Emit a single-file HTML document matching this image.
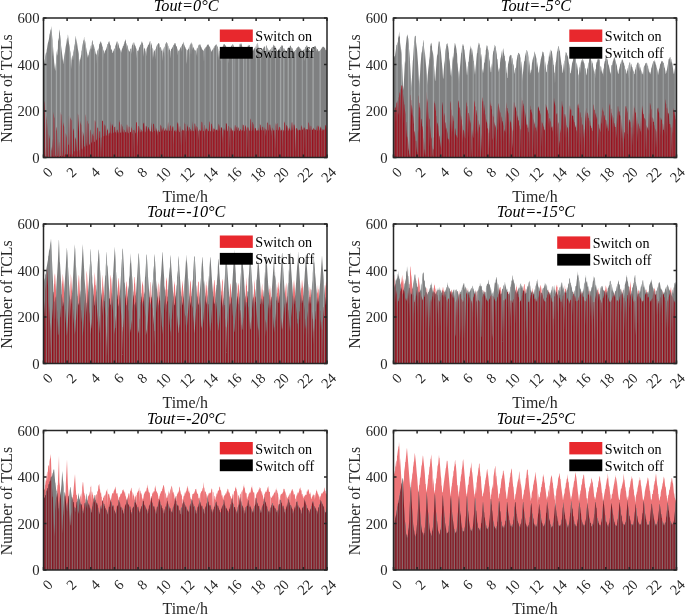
<!DOCTYPE html>
<html><head><meta charset="utf-8"><style>
html,body{margin:0;padding:0;background:#fff;}
body{width:685px;height:614px;overflow:hidden;position:relative;font-family:"Liberation Serif", "Times New Roman", serif;}
svg text{font-family:"Liberation Serif", "Times New Roman", serif;}
</style></head><body>
<svg width="685" height="614" viewBox="0 0 685 614" style="position:absolute;left:0;top:0;filter:blur(0.35px)">
<defs>
<pattern id="pr" patternUnits="userSpaceOnUse" width="2.6" height="4"><rect width="2.6" height="4" fill="#a4303a"/><rect x="0" width="1.1" height="4" fill="#8a101b"/><rect x="1.8" width="0.8" height="4" fill="#8c7a7a"/></pattern>
<pattern id="pr3" patternUnits="userSpaceOnUse" width="2.6" height="4"><rect width="2.6" height="4" fill="#963440"/><rect x="0" width="1.1" height="4" fill="#7c1a22"/><rect x="1.8" width="0.8" height="4" fill="#8a7072"/></pattern>
<pattern id="pr2" patternUnits="userSpaceOnUse" width="2.6" height="4"><rect width="2.6" height="4" fill="#92121e"/><rect x="1.2" width="0.6" height="4" fill="#ad3540"/><rect x="2.0" width="0.5" height="4" fill="#8e7c7d"/></pattern>
</defs>
<path d="M43.5,157.5L43.5,156.8L43.8,154.4L44.2,109.5L44.5,100.5L44.8,103.2L45,116.4L45.2,147.6L45.5,157.5L46,157.5L46.2,115L46.8,120.4L47,131.5L47.2,121.8L47.8,156.4L48,157L48.2,157L48.5,157.5L48.8,132.9L49,135.2L49.2,135.4L49.5,137.9L49.8,138.7L50.2,157.1L50.8,156.7L51,157.5L51.2,146.2L51.8,150L52,150.7L52.2,138.1L52.8,156.8L53,156.7L53.2,156.1L53.5,111.7L54.2,117.5L54.5,118L55,152.7L55.2,156.6L55.5,156.8L55.8,155L56,126.6L56.5,128.1L57,131.3L57.5,155.9L58,156.6L58.2,156.3L58.5,137.4L58.8,157.5L59,142L59.2,142.2L59.5,146.8L59.8,157.5L60,156.1L60.2,155.7L60.5,156.3L60.8,114.4L61,111.4L61.2,126.6L61.5,114.4L61.8,114.5L62.2,151L62.5,155.8L62.8,156.2L63,155.6L63.2,122.1L63.8,125.3L64.2,126.9L64.8,155.5L65.2,154.1L65.5,154.8L65.8,133.1L66.5,136.2L66.8,138.2L67,150.4L67.2,154.5L67.8,155.1L68,144.3L68.2,144.4L68.5,145.2L69,113.4L69.8,154.6L70,153.7L70.2,155.5L70.5,117.1L70.8,118.6L71.5,120.7L72,157.5L72.2,153.6L72.5,154.4L72.8,154.2L73.2,128.5L73.5,128.7L74,131.3L74.5,151.8L74.8,151.1L75,151.2L75.2,138.2L75.5,137.1L75.8,139.3L76,138.6L77,152.1L77.2,150.8L77.5,151.1L77.8,113L78.2,115.2L78.5,130.9L78.8,116.5L79.5,157.5L79.8,149.8L80,150L80.2,120.6L80.5,122.6L81.2,124.9L81.8,148.6L82.2,149.8L82.5,147.8L82.8,130.9L83.8,136.5L84.2,147.1L84.8,146.1L85,150.4L85.5,117.4L85.8,114.2L86,115.1L86.5,142.2L86.8,145.6L87,146.1L87.2,145.6L87.5,121.5L87.8,120.3L88.2,123.9L88.5,123.2L89,145.7L89.2,143.4L89.8,145.3L90,128.6L90.2,130.3L90.5,129.4L91,132.2L91.5,143.8L91.8,142.2L92,142L92.2,134.7L92.5,133.6L93,135.8L93.2,136L93.5,130.5L94,142.2L94.2,142.1L94.5,141.3L94.8,120.1L95,120.8L95.2,120.4L95.8,122.7L96.2,138.9L96.8,140.4L97,140.4L97.2,126.3L97.5,128.4L97.8,127.6L98.2,128.3L98.8,154.1L99,137.9L99.2,138L99.5,130.7L99.8,131.6L100,131.7L100.2,131.4L100.5,152L100.8,134.6L101,152.6L101.2,138.1L101.5,137L101.8,154.9L102,120.3L102.8,121.2L103,121.1L103.5,136.1L103.8,135.9L104,136.4L104.2,136.1L104.5,124.5L104.8,124.5L105,126.5L105.2,124.9L105.5,126.1L106,136.3L106.5,134.9L106.8,135.6L107,129.8L107.2,130.3L107.5,128.1L107.8,130.1L108,130.8L108.2,133.5L108.5,133.6L109,136.7L109.2,132.8L109.5,132.6L109.8,134.1L110.2,120.8L110.8,131.8L111,133.6L111.2,133.2L111.5,134.1L111.8,124L112,124.8L112.2,123.4L112.5,125.9L112.8,125.1L113,126.9L113.2,132.4L113.5,133.1L113.8,132.3L114,133.6L114.2,126.7L114.5,127.2L114.8,127L115,126.3L115.2,126.4L115.5,131.5L115.8,132.6L116,132.6L116.2,133.9L116.5,130.2L116.8,130.5L117,129.5L117.2,129.8L117.5,129.7L118,133.3L118.2,133.7L118.5,131.7L118.8,132L119,120L119.2,120.5L119.5,122.6L119.8,121.9L120,123.1L120.5,133.3L121,131.9L121.2,132.8L121.5,124.5L121.8,124L122,125.6L122.5,127L122.8,130.9L123,132.6L123.2,132.7L123.5,132.1L123.8,128.7L124,129.1L124.2,130.4L124.5,129.8L124.8,130.3L125.2,133L125.5,131.5L125.8,131.9L126,131.7L126.2,133L126.8,124.4L127.2,124.7L127.8,131.9L128.2,133.6L128.5,132.5L128.8,125.8L129,127.2L129.2,126L129.5,127.3L129.8,126.9L130,131.1L130.2,132L130.5,132.3L130.8,132.3L131,131.5L131.2,125.6L131.5,128.6L131.8,127.3L132,129.2L132.2,129.6L132.8,134.3L133,131L133.2,153.2L133.5,130.1L134,130.1L134.2,130.4L134.5,131.3L134.8,128L135.2,133L135.5,133.5L135.8,132.1L136,121.9L136.2,122L136.5,122.7L136.8,121.9L137,123.7L137.2,128.6L137.5,146.4L137.8,132.8L138.2,130.6L138.5,126.1L139,126.2L139.5,128.3L140,132.8L140.5,131.2L140.8,128.2L141.2,130.1L141.5,129.4L141.8,132L142,131.2L142.5,130.8L143,132.7L143.2,122.4L143.8,123.9L144,122.3L144.2,122.9L144.8,131.1L145,132.7L145.5,131L145.8,126.2L146,125.5L146.2,127.3L146.5,125.8L146.8,126.2L147,129.1L147.5,131.4L148.2,127L148.5,127.1L148.8,128.6L149.2,129.6L149.5,129.3L149.8,131.3L150.2,130.9L150.5,131.8L150.8,130.7L151,131.9L151.5,122.1L152,131.8L152.2,132.3L152.5,132.2L152.8,131L153,123.5L153.2,123.8L153.5,123.7L153.8,124.5L154,123.5L154.5,130.8L155,131.1L155.2,132.9L155.5,125.8L155.8,128.3L156,129.1L156.2,127.9L156.5,130L156.8,130.4L157,132L157.2,130.6L157.5,131.9L157.8,135.8L158,130.1L158.2,130.4L158.5,129.6L158.8,131.9L159,130.1L159.2,131.8L159.5,131.4L159.8,132.3L160,131.7L160.2,125L160.5,124.4L161,126.2L161.2,125.6L161.8,131.5L162,131.7L162.2,129.8L162.5,129.7L162.8,128.2L163,128.6L163.5,126.9L163.8,127.5L164.2,130.8L164.5,130.9L164.8,130.5L165.2,127.8L165.8,129.8L166,130L166.2,129.8L166.5,131.1L166.8,130.4L167.2,130.8L167.5,130.5L168,122.7L168.2,122L169,130.7L169.5,130.5L169.8,131.5L170,124.5L170.2,125.4L170.5,125.8L170.8,125.6L171.5,131L171.8,131L172.5,125.6L172.8,127.4L173.2,126.1L173.5,128.6L173.8,144.8L174,130.8L174.2,131.6L174.5,130.6L174.8,130.6L175.2,129.8L175.5,131.6L175.8,131.9L176,128.3L176.2,130.2L177,131.8L177.2,121.7L178,124L178.2,123L178.8,130.5L179.2,132.3L179.5,131.9L179.8,127L180,125.8L180.2,126.6L180.5,145.2L180.8,126.5L181,130.6L181.5,131.3L181.8,130.5L182,147.3L182.2,128.7L182.8,130.6L183,129.8L183.2,130L183.5,131.1L183.8,130.2L184,130.3L184.2,131.5L184.5,121.8L184.8,123.6L185,124.2L185.2,123.8L185.5,142.8L185.8,127.1L186,131.2L186.2,131.4L186.5,130.6L186.8,131.1L187,124.2L187.2,124.4L187.5,127.8L187.8,125.9L188,126.3L188.5,131.8L188.8,129.7L189,131.1L189.2,126.8L189.8,127.5L190.2,129.1L190.5,129.1L191,132.1L191.2,129.9L191.5,130.8L192,130.6L192.2,130.8L192.8,120.9L193.2,130.8L193.5,131.3L193.8,131.3L194,130.2L194.2,123.5L194.5,123.9L195,123.1L195.8,129.8L196.2,131.7L196.5,126.3L196.8,125.8L197,127.1L197.5,127.6L198,130.6L198.5,131.1L198.8,140.6L199,129.3L199.2,129.3L199.5,130.8L199.8,128.9L200,130.6L200.2,130L200.5,131.6L201.2,129.9L201.5,122.1L201.8,121.7L202,121.7L202.5,123.3L203,131.2L203.2,131.2L203.8,130.5L204,125.9L204.2,125.1L204.5,125.2L204.8,140.6L205,127L205.5,131.2L206.2,127.3L206.5,129.6L206.8,128.7L207.2,129.6L207.5,129.4L207.8,129.8L208,131.5L208.5,130.5L208.8,131.4L209.2,121.6L209.5,121.5L209.8,122.8L210.2,131.4L210.8,131L211,131.4L211.2,123L211.5,124.1L211.8,124L212,126.2L212.2,125.2L212.5,129L213,131.6L213.2,131.9L213.5,128L213.8,129.3L214,126.7L214.2,129L214.5,128.7L214.8,128.9L215,130.1L215.8,130.7L216,129.1L216.5,130.2L216.8,129.5L217,130.5L217.2,128.7L217.5,130.4L218,130.7L218.2,131.2L218.5,124.5L218.8,123.6L219,126.1L219.2,124.5L220,131.2L220.2,130.5L220.5,130.6L220.8,127L221,127.7L221.2,127.6L221.5,126.9L222.2,129L222.5,143.6L222.8,130.1L223,139.6L223.2,130.5L223.5,129.5L223.8,129.6L224,127.6L224.5,130.6L224.8,130.8L225,129L225.5,130.9L225.8,123L226,123.2L226.2,123.9L226.5,123L226.8,123.7L227,127.8L227.5,131.5L228,130.6L228.2,125.2L228.5,126.2L228.8,125.9L229.2,127.4L229.5,150.9L229.8,131.3L230,130.2L230.2,131.3L230.5,128L231,127.1L231.2,129.3L231.5,127.9L232,130.8L232.2,129.8L232.5,131.5L233,129.6L233.5,131.3L233.8,141.5L234,124.3L234.5,130.7L235,131.5L235.5,125.6L235.8,124.8L236.2,127.4L236.5,126.4L237.2,130.5L237.5,130.2L237.8,126.8L238,126.1L238.2,128.6L238.8,127.2L239.2,130.9L239.5,131.3L239.8,130.5L240,130.5L240.2,129.3L240.8,129.2L241,129.4L241.2,130.5L241.5,130.7L242,130.4L242.2,130.4L242.5,129.9L242.8,124.2L243,124.7L243.2,124.7L243.5,124.9L243.8,125.6L244.2,130.4L244.5,131.3L244.8,131.3L245,125.9L245.2,125.1L245.8,126.6L246,126.7L246.8,130.4L247,130.2L247.2,152.3L247.5,126.3L247.8,128L248,126.7L248.8,129L249,130.9L249.2,131L249.5,129.4L250,131.2L250.5,118.2L251,120.1L251.5,131.2L251.8,131.1L252,130.2L252.2,130.3L252.5,122.5L253,121.9L253.2,124.3L253.5,124.2L254,131.4L254.2,131.5L254.8,127.7L255,127.4L255.5,128.4L256,128.3L256.2,130.6L256.5,130.1L256.8,131.3L257.2,129.7L257.8,131L258,130L258.2,130.2L258.5,126.9L258.8,131.2L259,131.3L259.5,130.1L259.8,123.4L260.2,124.8L260.5,124.9L261,129.7L261.2,130.3L261.5,129.8L261.8,131.1L262,126.6L262.2,127L262.5,126.5L262.8,127.8L263,126.1L263.5,130.9L263.8,130.6L264,129.5L264.2,130.5L264.5,126.3L264.8,128.4L265.2,128.7L265.5,129.6L265.8,136.7L266,129.9L266.2,130.8L266.5,129.1L266.8,131L267,120.7L267.2,123L267.5,122.4L267.8,122.8L268,122.4L268.5,130.5L268.8,130.3L269,131L269.2,124.4L269.5,124.7L269.8,124.5L270,124.8L270.2,124.6L271,130.6L271.5,130.4L271.8,136.3L272,125.8L272.2,129L272.5,127.9L272.8,127.6L273.5,131.3L273.8,129.7L274,130.8L274.2,129.8L274.5,130.5L274.8,139.7L275,124.9L275.2,122.3L275.5,126.5L275.8,149.3L276,129.7L276.2,130.2L276.5,130L276.8,124.1L277,123.8L277.2,122.9L277.5,123.4L278.2,131L278.8,129.4L279,126.7L279.2,126.7L279.5,127L279.8,127.8L280,126.6L280.8,131.2L281,130L281.2,130.9L281.5,129.5L281.8,130.2L282,129.4L282.2,146.9L282.5,130.7L282.8,128.2L283,130.3L283.2,130.4L283.5,129.4L284,132.1L284.2,121.5L284.5,121.7L284.8,123.1L285,123.2L285.5,131L285.8,129.9L286,131.2L286.2,125.2L286.5,125.6L286.8,124.5L287,127.9L287.2,126.3L287.5,126L288,131.6L288.2,130.5L288.5,130.2L288.8,128.3L289.2,127.1L289.5,129L289.8,128.4L290.2,129.6L290.5,131.6L290.8,129.7L291.2,130.7L291.8,122.1L292,122.9L292.2,121.7L292.8,129.6L293,130.6L293.2,130L293.5,124.5L294,124.8L294.2,124.3L294.8,126.7L295,129.5L295.5,152L295.8,129L296,127.9L296.2,128.3L296.8,128.3L297,128.7L297.2,128.6L297.5,130.2L297.8,130.5L298,129.2L298.2,130.7L298.5,129.7L298.8,130.5L299,130.6L299.2,129.7L299.5,130.2L299.8,128.9L300,130.4L300.2,130.7L300.8,129.6L301,125.3L301.2,124.7L301.5,126.9L302,125.8L302.2,128.5L302.5,129.5L302.8,129.9L303,130L303.2,127.6L303.5,127.6L303.8,129.2L304.2,127.1L304.8,128.8L305,151.1L305.2,130.7L305.8,128.7L306.2,129.2L306.5,129.1L306.8,129.2L307,129.6L307.5,129L308,130.2L308.2,123L308.5,122.5L308.8,122.3L309.2,125L309.8,130.3L310,129.4L310.2,130.3L310.5,125.9L310.8,125.6L311,143.9L311.2,126.3L311.5,126.1L312,129.6L312.5,129.4L312.8,130.3L313.5,127.4L313.8,128.6L314,128.6L314.2,129.5L314.5,129L314.8,130L315,129.5L315.2,130.2L315.8,129.4L316,130.2L316.5,125.4L317,130.2L317.2,130.9L317.5,129.9L317.8,125.3L318,125.7L318.2,127.4L318.8,125.3L319.5,130.7L319.8,129.8L320,129.6L320.5,126L320.8,128L321,127.1L321.5,128.5L321.8,131L322,131.1L322.2,129.1L322.5,131.3L322.8,128.7L323,129L323.2,130.4L323.5,128.9L323.8,130.1L324,129.6L324.2,130.1L324.8,129.3L325,129.3L325.2,125.9L325.5,124.7L325.8,124.9L326,126.6L326.2,125.8L326.8,130.4L327,129.7L327,157.5Z" fill="#ec7477"/>
<clipPath id="co0"><path d="M43.5,157.5L43.5,72.1L43.8,66.3L44.8,59.2L45,58.8L45.2,57.5L46,52.8L46.2,52.6L46.5,53L46.8,49.7L47.2,47.5L47.5,45.2L48,42.5L48.2,42.2L49,38.7L49.5,34.4L50,32.9L50.2,30.7L50.5,30.1L50.8,28.4L51,37.4L51.2,26.1L52.5,40L52.8,57.1L53,46.3L54.2,62.4L55.2,71.2L55.8,62.7L56,68.3L56.2,58.4L57.2,48.4L57.5,55.8L57.8,53.9L58,41.8L58.5,37.7L58.8,41.1L59,33.4L59.5,29.3L61.2,46.7L63,60.9L63.2,64.4L63.5,61.2L65.2,50.4L65.8,46.3L66.5,42.4L66.8,39.7L67.2,37.3L67.5,42L67.8,34.8L68,34.8L69,43.6L70.5,53.3L70.8,67.9L71,56.1L71.2,69.2L71.5,60.2L72,56.5L72.5,54.9L72.8,60.6L73,52.5L73.5,49.1L73.8,60.9L74,47L74.5,43.4L74.8,51L75,40.1L75.2,40.3L76,35.4L76.2,46.1L76.5,38.4L77.8,48.6L78.8,54.5L79,60.2L79.2,58.5L79.5,67.8L79.8,61.8L80.2,59.2L80.5,56.5L80.8,59.6L81,53.9L81.2,56L81.5,50.8L81.8,50.6L82,47.3L82.2,47.8L83.2,41.5L83.5,40.3L83.8,40.5L84,37.5L84.2,36.6L84.5,45.6L84.8,39L85.5,44.1L85.8,50.1L86,47.1L86.8,52L87,52.4L88,58.1L88.2,55.5L88.5,55.2L88.8,54.2L89,52.5L89.2,52.4L89.5,51.6L90.2,48.2L90.5,50.1L90.8,46.1L91.2,44.9L91.5,50.1L91.8,42.7L92.5,39.8L92.8,41.4L93,50.2L93.2,43.8L93.8,45.1L94.5,49L94.8,48.9L95.8,53.8L96.2,55.1L96.8,53.1L97,64.4L97.2,51.7L97.8,50L98.2,49.1L98.5,47.6L98.8,57.5L99,46.5L99.2,44.3L99.8,43.8L100,41.9L100.2,42.8L100.8,41.2L101,40.9L101.2,42.7L101.5,42.9L102.5,47.2L102.8,47.1L103,61.2L103.2,49.6L103.5,49.7L103.8,51.1L104,50.8L104.5,54L105.2,50.1L105.5,50.7L106.5,48.1L106.8,46.8L107.2,46L107.5,44.2L108,44L108.5,42.3L109.2,41L110.2,45.1L110.5,45.6L110.8,45.6L111,50.6L111.2,48.4L111.5,49.5L111.8,49.4L112.2,51.2L112.5,52.9L112.8,53L113.2,51.2L113.8,50.2L114,48.8L114.2,48.7L114.5,48.9L114.8,47.9L115,55.7L115.2,45.8L115.5,45.9L116.8,41.5L117,41.2L117.2,50.1L117.5,40.7L119,46L119.2,47.8L119.5,47.8L120,49.2L121,53L122,49L122.2,48.3L122.5,48.2L122.8,46.6L123.5,45.7L124,43.4L124.2,44.1L124.5,41.7L125,41.2L125.2,39.6L125.5,39.6L126,41.7L126.2,49.6L126.5,43.6L126.8,43L127,44.7L127.8,47L128.5,50.7L128.8,50.2L129,51.6L129.2,51.6L129.5,51.3L129.8,51.5L130.2,49L130.5,49.4L130.8,48.3L131,49.1L131.2,47.8L131.5,54.3L131.8,47.1L132,45.2L132.2,45.3L132.5,44.8L132.8,43.3L133,43.6L133.2,42.3L133.5,42.4L133.8,52.4L134,41.9L134.8,45.5L135,44.3L135.2,46L135.5,45.9L135.8,47.5L136.5,49.2L136.8,58.4L137,51.3L137.5,51.5L138.2,49.8L138.5,51.8L138.8,49L139.5,46.6L139.8,47.1L140,44.9L140.2,45.4L141,44.1L142,41L142.2,42.2L142.8,43.2L143,45L143.2,44.9L143.5,56.7L144,47L144.2,48.3L144.5,48.6L144.8,48.4L145,48.8L145.5,54.7L145.8,51.5L146,50.6L146.2,56.4L146.5,49.5L146.8,47.9L147,48.4L147.2,46.4L147.5,47.6L147.8,45.8L148.2,44.9L148.5,45L148.8,44.1L149,43.9L149.8,41.3L150,41.5L150.2,40.7L150.5,49.5L150.8,49.9L151,43.1L151.2,42.9L151.5,44.4L151.8,44.7L152,45.9L152.2,60L152.5,47.3L152.8,48.5L153,48.3L153.2,49.9L153.5,57.7L153.8,52.2L154.5,50.1L154.8,50.9L155,49.4L155.5,48.4L155.8,59.4L156,47.9L156.8,45.6L157.2,45.5L157.5,44.3L157.8,44.8L158.5,42.7L158.8,43.3L159,43L159.5,44.7L159.8,48.6L160,46.8L160.5,47.8L160.8,47.2L161.8,51.1L162,51.2L162.2,61.1L162.5,51.3L163.2,48.3L163.5,52.9L163.8,48.1L164,47.4L164.2,47.3L164.5,45.9L164.8,58L165.2,44.6L165.5,44.5L166.2,42.3L166.5,42.1L166.8,42.4L167,47.5L167.2,42.9L167.5,43.3L167.8,44.9L168,56.7L168.2,45.4L168.5,46.2L168.8,52.9L169,48.5L169.2,47.8L169.5,49.2L170,50.3L170.2,58.8L170.5,51.2L170.8,50.9L171,50L171.2,48.5L171.5,49L171.8,49L172,47.8L172.2,47.4L172.5,47.7L172.8,46.3L173,47L173.5,44.6L173.8,45.5L174.2,44.4L174.5,42.9L174.8,43.4L175,42.7L175.5,43.4L176.2,46.6L176.5,45.8L176.8,46.8L177,47.2L177.2,55.5L177.5,48.6L177.8,48.6L178,50.5L178.2,50.5L178.5,51.7L178.8,50.7L179.2,50.7L179.5,50.5L179.8,49.2L180.2,48.3L180.5,47.1L180.8,47.7L181.2,45.6L181.5,46L181.8,51.7L182,44.1L182.2,44.9L182.5,44.1L182.8,43.9L183.2,41.6L183.5,43.7L183.8,43.7L184,43L184.2,45.2L184.5,45.2L185,46.9L185.2,46.9L186,49.3L186.2,49.1L186.5,50.3L186.8,63.9L187,61.2L187.2,50.6L187.5,50L187.8,50.3L188,48.7L188.2,49.2L188.5,49L189.2,46.2L189.5,59.6L189.8,45.8L190,44.7L190.2,44.7L190.5,43.6L190.8,43.3L191,55.8L191.2,43L191.5,41.9L191.8,44.1L192,43.2L192.5,45.2L192.8,50.2L193,46.4L194.2,48.9L194.5,50.8L194.8,49.7L195.2,50.7L195.5,50.4L195.8,51.1L196,49.6L196.2,49.8L196.5,55.8L196.8,48.7L197,48.1L197.2,48.4L197.5,48.1L197.8,46.9L198,58.3L198.2,46.6L199,44.6L199.2,44.7L199.5,45.3L200,44.1L200.5,45L201,47L201.2,46.8L202,48.9L202.2,48.9L202.5,49.9L202.8,50.2L203,49.5L203.2,50.9L203.5,50.5L203.8,50.6L204,63L204.2,49.7L204.5,48.4L204.8,48.8L205.5,47.9L205.8,46.7L206,47.3L206.2,47.2L206.8,45.4L207,45.8L207.2,44.7L207.5,44.4L207.8,44.7L208,44.8L208.2,44.1L208.5,44.8L208.8,44.9L209,46.4L209.2,45.8L209.5,46.8L209.8,47.1L210,46.9L210.2,48.3L211,50.5L211.2,50.4L211.5,51.5L211.8,51.5L212,51.5L212.2,49.9L212.5,49.9L212.8,48.9L213,49.3L213.8,48.3L214,46.7L214.2,48.4L214.5,46.2L214.8,45.8L215,46.2L215.5,44.5L216,45.4L216.5,44.1L216.8,45.7L217,45.1L217.2,46.4L217.5,46.3L217.8,47.3L218,58.1L218.2,48.2L218.5,49.5L218.8,60.6L219,50.4L219.2,59L219.5,50.9L220,50.4L220.2,50.6L220.5,50.2L220.8,62L221,49L221.2,48.4L221.5,48.6L221.8,47.4L222,48.1L222.2,47.2L222.5,57.9L222.8,46.2L223.5,44.9L223.8,43.8L224.2,44.6L224.5,43.7L225.2,45.5L225.5,45.1L225.8,45.9L226,46L226.5,48.2L226.8,48.3L227,58.6L227.2,49.4L227.5,49.4L227.8,51.1L228,50.8L228.2,63.7L228.5,51L228.8,49.8L229,52.9L229.2,50.1L229.8,47.9L230,48.5L230.2,47.7L230.5,47.4L230.8,47.5L231,46.1L232.2,45.2L232.5,43.9L232.8,45.1L233,44.2L234,47L234.2,47.4L235,47.8L235.2,48.8L235.5,57.9L235.8,50.2L236,49.9L236.2,50.5L236.5,50L237.2,50L237.5,48.3L237.8,49L238.2,47.2L238.5,46.8L238.8,47.2L239,46.7L239.2,57.4L239.5,45L239.8,43.5L240,44.8L240.2,44.8L241,43.1L241.5,43.9L242,45.5L242.2,55.9L242.5,46.5L242.8,46.4L243,47.6L243.2,51.5L243.5,48L244,48.9L244.2,50.7L244.8,50.3L245.2,50.6L245.8,49.2L246.2,48.7L246.8,47.1L247,46.9L247.2,47.7L247.5,47.7L247.8,45.8L248,45.5L248.5,46.2L248.8,44.4L249,45L249.2,45L249.8,45.5L250,46.7L250.2,54.2L250.5,46.9L251,48.5L251.2,47.2L252,49.3L252.2,51L252.5,50.4L253,51L253.8,48.9L254,48.7L254.2,49L254.5,47.8L254.8,48L255,47.3L255.2,59.8L255.5,46.5L255.8,46.2L256,48.5L256.2,45L256.5,58.4L256.8,44.3L257,44.2L257.2,42.7L257.5,43.2L257.8,53.8L258,44.2L258.2,44.9L258.5,51.5L258.8,47L259,46.7L259.2,57.8L259.5,47L260,48.9L260.5,49.9L260.8,64.2L261,51.4L261.2,51.6L261.5,50.1L261.8,50.8L262.2,49.3L262.8,49L263,48.3L263.2,48.5L263.5,48.3L263.8,47.1L264.2,46.3L264.8,47L265,46L265.2,54.9L265.5,54.2L266,45L266.8,46.6L267,58.2L267.2,48.1L267.5,47.5L267.8,49.2L268,49.2L268.2,49.7L268.5,49.4L268.8,57.5L269,49.8L269.2,51.5L269.5,49.9L269.8,50.5L270.5,49.2L270.8,49.6L271,49.5L271.2,57.4L271.5,47.8L271.8,47.8L272.5,46.6L272.8,58.1L273,46.1L273.5,44.6L273.8,44.9L274,48.1L274.2,45.5L274.5,45.6L274.8,46.2L275,46L275.5,48L275.8,51.7L276,48.6L276.2,48.2L277,50.7L277.2,50.6L277.5,51.2L277.8,51.2L278,50.7L278.2,48.9L278.5,50.5L279,49L279.2,52.6L279.5,48.8L279.8,48.2L280,48.1L280.2,46.7L280.5,47.6L280.8,46.8L281,46.9L281.2,45.9L281.5,46.2L281.8,44.8L282,45.5L282.2,45.2L282.8,45.9L283,46.8L283.2,51.2L283.5,48.2L283.8,47.9L284,56.7L284.2,48.1L285.2,50.4L286.2,50.7L286.5,51.2L286.8,50.5L287,51L287.2,49L287.5,49.2L287.8,48.2L288,47.9L288.2,48.2L288.5,47.5L288.8,47.5L289,47.8L289.2,46.6L289.5,46.4L289.8,53.2L290,45L290.2,45.9L290.5,46.1L290.8,45.4L291,45.7L291.2,49.7L291.5,47.1L292.5,48.9L292.8,48.6L293.2,50.6L293.5,53.7L293.8,51.2L294,51.7L294.2,51L294.5,51.5L295.8,49.7L296,49.9L296.2,49.6L296.5,47.8L296.8,48.4L297,48.3L297.2,47.6L298.5,46.7L298.8,45.7L299,46.9L299.2,47L299.5,47.3L299.8,48.7L300,47.7L300.5,49.8L300.8,48.6L301.5,50.6L302.2,51.6L303,50.2L303.5,50.1L304.5,48.5L304.8,58.8L305,61.3L305.2,46.6L305.5,47.3L305.8,46.9L306,46.8L306.2,45.9L306.5,45.7L306.8,45.7L307,45.2L307.5,47.1L308,47.8L308.2,47.7L308.8,49.3L309.2,49.4L310.8,51.8L311,51.7L311.5,50.2L311.8,50.4L312,50.1L312.5,48.4L312.8,48.2L313,48.8L314,47.1L314.2,47.7L314.5,46L314.8,45.9L315,46.1L315.2,45.7L315.5,46.6L315.8,46.8L316,46.5L316.2,48.2L316.5,48.2L316.8,51.8L317,48.9L317.2,49L317.5,49.6L317.8,49.1L318,50.7L318.2,50.4L318.5,51.3L319,51.5L319.8,50.7L320,50.7L320.2,50.2L320.5,50.7L320.8,49.5L321,49.4L321.2,48.8L321.5,48.8L321.8,47.6L322,47.9L322.2,47.5L322.5,46.6L322.8,47.3L323,46.5L323.2,46.9L323.5,46.7L323.8,47L324,46.2L324.2,47.7L324.5,47.5L324.8,47.9L325,47.9L325.5,49.9L325.8,50.2L326,49.4L326.2,50.1L326.5,50.1L326.8,50.4L327,51.4L327,157.5Z"/></clipPath>
<rect x="43.5" y="18" width="283.5" height="139.5" fill="#7f8081" clip-path="url(#co0)"/>
<path d="M45.2,18h1.3V157.5h-1.3ZM50.9,18h1V157.5h-1ZM55.8,18h1.3V157.5h-1.3ZM59.8,18h1.3V157.5h-1.3ZM64.5,18h0.9V157.5h-0.9ZM69.2,18h1.3V157.5h-1.3ZM74.5,18h1.1V157.5h-1.1ZM78.4,18h1.3V157.5h-1.3ZM82.2,18h1.3V157.5h-1.3ZM85.3,18h1V157.5h-1ZM89.5,18h1.1V157.5h-1.1ZM93.9,18h1V157.5h-1ZM97.3,18h0.9V157.5h-0.9ZM102.3,18h0.9V157.5h-0.9ZM107.3,18h1.1V157.5h-1.1ZM114.4,18h1.3V157.5h-1.3ZM120.1,18h1.1V157.5h-1.1ZM127.3,18h1.3V157.5h-1.3ZM130.1,18h1V157.5h-1ZM136.8,18h1.3V157.5h-1.3ZM140.7,18h0.8V157.5h-0.8ZM145.2,18h0.9V157.5h-0.9ZM150.1,18h0.9V157.5h-0.9ZM156.7,18h1.2V157.5h-1.2ZM159.7,18h0.9V157.5h-0.9ZM164.5,18h1.4V157.5h-1.4ZM167.6,18h1.2V157.5h-1.2ZM172.9,18h0.8V157.5h-0.8ZM178.3,18h1.4V157.5h-1.4ZM183.2,18h0.7V157.5h-0.7ZM189.4,18h0.7V157.5h-0.7ZM194.6,18h1V157.5h-1ZM198.3,18h1.3V157.5h-1.3ZM204.7,18h0.8V157.5h-0.8ZM209.7,18h0.8V157.5h-0.8ZM212.9,18h1.3V157.5h-1.3ZM216,18h0.9V157.5h-0.9ZM221.1,18h1.2V157.5h-1.2ZM226.7,18h1V157.5h-1ZM231.9,18h1.4V157.5h-1.4ZM234.5,18h0.7V157.5h-0.7ZM238.1,18h1.3V157.5h-1.3ZM243,18h1.3V157.5h-1.3ZM245.7,18h1.1V157.5h-1.1ZM249.4,18h1V157.5h-1ZM255.8,18h1.3V157.5h-1.3ZM260.2,18h0.9V157.5h-0.9ZM266.4,18h1.2V157.5h-1.2ZM270.4,18h0.7V157.5h-0.7ZM275,18h0.8V157.5h-0.8ZM279.9,18h1.4V157.5h-1.4ZM283.2,18h1.3V157.5h-1.3ZM287.6,18h1.3V157.5h-1.3ZM291.7,18h1V157.5h-1ZM294.9,18h1.4V157.5h-1.4ZM301.8,18h0.9V157.5h-0.9ZM306.2,18h1.2V157.5h-1.2ZM312.4,18h1.4V157.5h-1.4ZM319.5,18h1.3V157.5h-1.3ZM326.5,18h1.1V157.5h-1.1Z" fill="#a2a5a6" clip-path="url(#co0)"/>
<path d="M43.5,157.5L43.5,156.8L43.8,154.4L44.2,109.5L44.5,100.5L44.8,103.2L45,116.4L45.2,147.6L45.5,157.5L46,157.5L46.2,115L46.8,120.4L47,131.5L47.2,121.8L47.8,156.4L48,157L48.2,157L48.5,157.5L48.8,132.9L49,135.2L49.2,135.4L49.5,137.9L49.8,138.7L50.2,157.1L50.8,156.7L51,157.5L51.2,146.2L51.8,150L52,150.7L52.2,138.1L52.8,156.8L53,156.7L53.2,156.1L53.5,111.7L54.2,117.5L54.5,118L55,152.7L55.2,156.6L55.5,156.8L55.8,155L56,126.6L56.5,128.1L57,131.3L57.5,155.9L58,156.6L58.2,156.3L58.5,137.4L58.8,157.5L59,142L59.2,142.2L59.5,146.8L59.8,157.5L60,156.1L60.2,155.7L60.5,156.3L60.8,114.4L61,111.4L61.2,126.6L61.5,114.4L61.8,114.5L62.2,151L62.5,155.8L62.8,156.2L63,155.6L63.2,122.1L63.8,125.3L64.2,126.9L64.8,155.5L65.2,154.1L65.5,154.8L65.8,133.1L66.5,136.2L66.8,138.2L67,150.4L67.2,154.5L67.8,155.1L68,144.3L68.2,144.4L68.5,145.2L69,113.4L69.8,154.6L70,153.7L70.2,155.5L70.5,117.1L70.8,118.6L71.5,120.7L72,157.5L72.2,153.6L72.5,154.4L72.8,154.2L73.2,128.5L73.5,128.7L74,131.3L74.5,151.8L74.8,151.1L75,151.2L75.2,138.2L75.5,137.1L75.8,139.3L76,138.6L77,152.1L77.2,150.8L77.5,151.1L77.8,113L78.2,115.2L78.5,130.9L78.8,116.5L79.5,157.5L79.8,149.8L80,150L80.2,120.6L80.5,122.6L81.2,124.9L81.8,148.6L82.2,149.8L82.5,147.8L82.8,130.9L83.8,136.5L84.2,147.1L84.8,146.1L85,150.4L85.5,117.4L85.8,114.2L86,115.1L86.5,142.2L86.8,145.6L87,146.1L87.2,145.6L87.5,121.5L87.8,120.3L88.2,123.9L88.5,123.2L89,145.7L89.2,143.4L89.8,145.3L90,128.6L90.2,130.3L90.5,129.4L91,132.2L91.5,143.8L91.8,142.2L92,142L92.2,134.7L92.5,133.6L93,135.8L93.2,136L93.5,130.5L94,142.2L94.2,142.1L94.5,141.3L94.8,120.1L95,120.8L95.2,120.4L95.8,122.7L96.2,138.9L96.8,140.4L97,140.4L97.2,126.3L97.5,128.4L97.8,127.6L98.2,128.3L98.8,154.1L99,137.9L99.2,138L99.5,130.7L99.8,131.6L100,131.7L100.2,131.4L100.5,152L100.8,134.6L101,152.6L101.2,138.1L101.5,137L101.8,154.9L102,120.3L102.8,121.2L103,121.1L103.5,136.1L103.8,135.9L104,136.4L104.2,136.1L104.5,124.5L104.8,124.5L105,126.5L105.2,124.9L105.5,126.1L106,136.3L106.5,134.9L106.8,135.6L107,129.8L107.2,130.3L107.5,128.1L107.8,130.1L108,130.8L108.2,133.5L108.5,133.6L109,136.7L109.2,132.8L109.5,132.6L109.8,134.1L110.2,120.8L110.8,131.8L111,133.6L111.2,133.2L111.5,134.1L111.8,124L112,124.8L112.2,123.4L112.5,125.9L112.8,125.1L113,126.9L113.2,132.4L113.5,133.1L113.8,132.3L114,133.6L114.2,126.7L114.5,127.2L114.8,127L115,126.3L115.2,126.4L115.5,131.5L115.8,132.6L116,132.6L116.2,133.9L116.5,130.2L116.8,130.5L117,129.5L117.2,129.8L117.5,129.7L118,133.3L118.2,133.7L118.5,131.7L118.8,132L119,120L119.2,120.5L119.5,122.6L119.8,121.9L120,123.1L120.5,133.3L121,131.9L121.2,132.8L121.5,124.5L121.8,124L122,125.6L122.5,127L122.8,130.9L123,132.6L123.2,132.7L123.5,132.1L123.8,128.7L124,129.1L124.2,130.4L124.5,129.8L124.8,130.3L125.2,133L125.5,131.5L125.8,131.9L126,131.7L126.2,133L126.8,124.4L127.2,124.7L127.8,131.9L128.2,133.6L128.5,132.5L128.8,125.8L129,127.2L129.2,126L129.5,127.3L129.8,126.9L130,131.1L130.2,132L130.5,132.3L130.8,132.3L131,131.5L131.2,125.6L131.5,128.6L131.8,127.3L132,129.2L132.2,129.6L132.8,134.3L133,131L133.2,153.2L133.5,130.1L134,130.1L134.2,130.4L134.5,131.3L134.8,128L135.2,133L135.5,133.5L135.8,132.1L136,121.9L136.2,122L136.5,122.7L136.8,121.9L137,123.7L137.2,128.6L137.5,146.4L137.8,132.8L138.2,130.6L138.5,126.1L139,126.2L139.5,128.3L140,132.8L140.5,131.2L140.8,128.2L141.2,130.1L141.5,129.4L141.8,132L142,131.2L142.5,130.8L143,132.7L143.2,122.4L143.8,123.9L144,122.3L144.2,122.9L144.8,131.1L145,132.7L145.5,131L145.8,126.2L146,125.5L146.2,127.3L146.5,125.8L146.8,126.2L147,129.1L147.5,131.4L148.2,127L148.5,127.1L148.8,128.6L149.2,129.6L149.5,129.3L149.8,131.3L150.2,130.9L150.5,131.8L150.8,130.7L151,131.9L151.5,122.1L152,131.8L152.2,132.3L152.5,132.2L152.8,131L153,123.5L153.2,123.8L153.5,123.7L153.8,124.5L154,123.5L154.5,130.8L155,131.1L155.2,132.9L155.5,125.8L155.8,128.3L156,129.1L156.2,127.9L156.5,130L156.8,130.4L157,132L157.2,130.6L157.5,131.9L157.8,135.8L158,130.1L158.2,130.4L158.5,129.6L158.8,131.9L159,130.1L159.2,131.8L159.5,131.4L159.8,132.3L160,131.7L160.2,125L160.5,124.4L161,126.2L161.2,125.6L161.8,131.5L162,131.7L162.2,129.8L162.5,129.7L162.8,128.2L163,128.6L163.5,126.9L163.8,127.5L164.2,130.8L164.5,130.9L164.8,130.5L165.2,127.8L165.8,129.8L166,130L166.2,129.8L166.5,131.1L166.8,130.4L167.2,130.8L167.5,130.5L168,122.7L168.2,122L169,130.7L169.5,130.5L169.8,131.5L170,124.5L170.2,125.4L170.5,125.8L170.8,125.6L171.5,131L171.8,131L172.5,125.6L172.8,127.4L173.2,126.1L173.5,128.6L173.8,144.8L174,130.8L174.2,131.6L174.5,130.6L174.8,130.6L175.2,129.8L175.5,131.6L175.8,131.9L176,128.3L176.2,130.2L177,131.8L177.2,121.7L178,124L178.2,123L178.8,130.5L179.2,132.3L179.5,131.9L179.8,127L180,125.8L180.2,126.6L180.5,145.2L180.8,126.5L181,130.6L181.5,131.3L181.8,130.5L182,147.3L182.2,128.7L182.8,130.6L183,129.8L183.2,130L183.5,131.1L183.8,130.2L184,130.3L184.2,131.5L184.5,121.8L184.8,123.6L185,124.2L185.2,123.8L185.5,142.8L185.8,127.1L186,131.2L186.2,131.4L186.5,130.6L186.8,131.1L187,124.2L187.2,124.4L187.5,127.8L187.8,125.9L188,126.3L188.5,131.8L188.8,129.7L189,131.1L189.2,126.8L189.8,127.5L190.2,129.1L190.5,129.1L191,132.1L191.2,129.9L191.5,130.8L192,130.6L192.2,130.8L192.8,120.9L193.2,130.8L193.5,131.3L193.8,131.3L194,130.2L194.2,123.5L194.5,123.9L195,123.1L195.8,129.8L196.2,131.7L196.5,126.3L196.8,125.8L197,127.1L197.5,127.6L198,130.6L198.5,131.1L198.8,140.6L199,129.3L199.2,129.3L199.5,130.8L199.8,128.9L200,130.6L200.2,130L200.5,131.6L201.2,129.9L201.5,122.1L201.8,121.7L202,121.7L202.5,123.3L203,131.2L203.2,131.2L203.8,130.5L204,125.9L204.2,125.1L204.5,125.2L204.8,140.6L205,127L205.5,131.2L206.2,127.3L206.5,129.6L206.8,128.7L207.2,129.6L207.5,129.4L207.8,129.8L208,131.5L208.5,130.5L208.8,131.4L209.2,121.6L209.5,121.5L209.8,122.8L210.2,131.4L210.8,131L211,131.4L211.2,123L211.5,124.1L211.8,124L212,126.2L212.2,125.2L212.5,129L213,131.6L213.2,131.9L213.5,128L213.8,129.3L214,126.7L214.2,129L214.5,128.7L214.8,128.9L215,130.1L215.8,130.7L216,129.1L216.5,130.2L216.8,129.5L217,130.5L217.2,128.7L217.5,130.4L218,130.7L218.2,131.2L218.5,124.5L218.8,123.6L219,126.1L219.2,124.5L220,131.2L220.2,130.5L220.5,130.6L220.8,127L221,127.7L221.2,127.6L221.5,126.9L222.2,129L222.5,143.6L222.8,130.1L223,139.6L223.2,130.5L223.5,129.5L223.8,129.6L224,127.6L224.5,130.6L224.8,130.8L225,129L225.5,130.9L225.8,123L226,123.2L226.2,123.9L226.5,123L226.8,123.7L227,127.8L227.5,131.5L228,130.6L228.2,125.2L228.5,126.2L228.8,125.9L229.2,127.4L229.5,150.9L229.8,131.3L230,130.2L230.2,131.3L230.5,128L231,127.1L231.2,129.3L231.5,127.9L232,130.8L232.2,129.8L232.5,131.5L233,129.6L233.5,131.3L233.8,141.5L234,124.3L234.5,130.7L235,131.5L235.5,125.6L235.8,124.8L236.2,127.4L236.5,126.4L237.2,130.5L237.5,130.2L237.8,126.8L238,126.1L238.2,128.6L238.8,127.2L239.2,130.9L239.5,131.3L239.8,130.5L240,130.5L240.2,129.3L240.8,129.2L241,129.4L241.2,130.5L241.5,130.7L242,130.4L242.2,130.4L242.5,129.9L242.8,124.2L243,124.7L243.2,124.7L243.5,124.9L243.8,125.6L244.2,130.4L244.5,131.3L244.8,131.3L245,125.9L245.2,125.1L245.8,126.6L246,126.7L246.8,130.4L247,130.2L247.2,152.3L247.5,126.3L247.8,128L248,126.7L248.8,129L249,130.9L249.2,131L249.5,129.4L250,131.2L250.5,118.2L251,120.1L251.5,131.2L251.8,131.1L252,130.2L252.2,130.3L252.5,122.5L253,121.9L253.2,124.3L253.5,124.2L254,131.4L254.2,131.5L254.8,127.7L255,127.4L255.5,128.4L256,128.3L256.2,130.6L256.5,130.1L256.8,131.3L257.2,129.7L257.8,131L258,130L258.2,130.2L258.5,126.9L258.8,131.2L259,131.3L259.5,130.1L259.8,123.4L260.2,124.8L260.5,124.9L261,129.7L261.2,130.3L261.5,129.8L261.8,131.1L262,126.6L262.2,127L262.5,126.5L262.8,127.8L263,126.1L263.5,130.9L263.8,130.6L264,129.5L264.2,130.5L264.5,126.3L264.8,128.4L265.2,128.7L265.5,129.6L265.8,136.7L266,129.9L266.2,130.8L266.5,129.1L266.8,131L267,120.7L267.2,123L267.5,122.4L267.8,122.8L268,122.4L268.5,130.5L268.8,130.3L269,131L269.2,124.4L269.5,124.7L269.8,124.5L270,124.8L270.2,124.6L271,130.6L271.5,130.4L271.8,136.3L272,125.8L272.2,129L272.5,127.9L272.8,127.6L273.5,131.3L273.8,129.7L274,130.8L274.2,129.8L274.5,130.5L274.8,139.7L275,124.9L275.2,122.3L275.5,126.5L275.8,149.3L276,129.7L276.2,130.2L276.5,130L276.8,124.1L277,123.8L277.2,122.9L277.5,123.4L278.2,131L278.8,129.4L279,126.7L279.2,126.7L279.5,127L279.8,127.8L280,126.6L280.8,131.2L281,130L281.2,130.9L281.5,129.5L281.8,130.2L282,129.4L282.2,146.9L282.5,130.7L282.8,128.2L283,130.3L283.2,130.4L283.5,129.4L284,132.1L284.2,121.5L284.5,121.7L284.8,123.1L285,123.2L285.5,131L285.8,129.9L286,131.2L286.2,125.2L286.5,125.6L286.8,124.5L287,127.9L287.2,126.3L287.5,126L288,131.6L288.2,130.5L288.5,130.2L288.8,128.3L289.2,127.1L289.5,129L289.8,128.4L290.2,129.6L290.5,131.6L290.8,129.7L291.2,130.7L291.8,122.1L292,122.9L292.2,121.7L292.8,129.6L293,130.6L293.2,130L293.5,124.5L294,124.8L294.2,124.3L294.8,126.7L295,129.5L295.5,152L295.8,129L296,127.9L296.2,128.3L296.8,128.3L297,128.7L297.2,128.6L297.5,130.2L297.8,130.5L298,129.2L298.2,130.7L298.5,129.7L298.8,130.5L299,130.6L299.2,129.7L299.5,130.2L299.8,128.9L300,130.4L300.2,130.7L300.8,129.6L301,125.3L301.2,124.7L301.5,126.9L302,125.8L302.2,128.5L302.5,129.5L302.8,129.9L303,130L303.2,127.6L303.5,127.6L303.8,129.2L304.2,127.1L304.8,128.8L305,151.1L305.2,130.7L305.8,128.7L306.2,129.2L306.5,129.1L306.8,129.2L307,129.6L307.5,129L308,130.2L308.2,123L308.5,122.5L308.8,122.3L309.2,125L309.8,130.3L310,129.4L310.2,130.3L310.5,125.9L310.8,125.6L311,143.9L311.2,126.3L311.5,126.1L312,129.6L312.5,129.4L312.8,130.3L313.5,127.4L313.8,128.6L314,128.6L314.2,129.5L314.5,129L314.8,130L315,129.5L315.2,130.2L315.8,129.4L316,130.2L316.5,125.4L317,130.2L317.2,130.9L317.5,129.9L317.8,125.3L318,125.7L318.2,127.4L318.8,125.3L319.5,130.7L319.8,129.8L320,129.6L320.5,126L320.8,128L321,127.1L321.5,128.5L321.8,131L322,131.1L322.2,129.1L322.5,131.3L322.8,128.7L323,129L323.2,130.4L323.5,128.9L323.8,130.1L324,129.6L324.2,130.1L324.8,129.3L325,129.3L325.2,125.9L325.5,124.7L325.8,124.9L326,126.6L326.2,125.8L326.8,130.4L327,129.7L327,157.5Z" fill="url(#pr2)"/>
<rect x="43.5" y="18.0" width="283.5" height="139.5" fill="none" stroke="#262626" stroke-width="1.5"/>
<path d="M43.5,157.5v-3M43.5,18v3M67.1,157.5v-3M67.1,18v3M90.8,157.5v-3M90.8,18v3M114.4,157.5v-3M114.4,18v3M138,157.5v-3M138,18v3M161.6,157.5v-3M161.6,18v3M185.2,157.5v-3M185.2,18v3M208.9,157.5v-3M208.9,18v3M232.5,157.5v-3M232.5,18v3M256.1,157.5v-3M256.1,18v3M279.8,157.5v-3M279.8,18v3M303.4,157.5v-3M303.4,18v3M327,157.5v-3M327,18v3M43.5,157.5h3M327,157.5h-3M43.5,111h3M327,111h-3M43.5,64.5h3M327,64.5h-3M43.5,18h3M327,18h-3" stroke="#262626" stroke-width="1.5" fill="none"/>
<text x="39.5" y="162.8" text-anchor="end" font-size="14.7" fill="#262626">0</text>
<text x="39.5" y="116.3" text-anchor="end" font-size="14.7" fill="#262626">200</text>
<text x="39.5" y="69.8" text-anchor="end" font-size="14.7" fill="#262626">400</text>
<text x="39.5" y="23.3" text-anchor="end" font-size="14.7" fill="#262626">600</text>
<text transform="translate(53.7,173) rotate(-45)" text-anchor="end" font-size="14.5" fill="#262626">0</text>
<text transform="translate(77.3,173) rotate(-45)" text-anchor="end" font-size="14.5" fill="#262626">2</text>
<text transform="translate(101,173) rotate(-45)" text-anchor="end" font-size="14.5" fill="#262626">4</text>
<text transform="translate(124.6,173) rotate(-45)" text-anchor="end" font-size="14.5" fill="#262626">6</text>
<text transform="translate(148.2,173) rotate(-45)" text-anchor="end" font-size="14.5" fill="#262626">8</text>
<text transform="translate(171.8,173) rotate(-45)" text-anchor="end" font-size="14.5" fill="#262626">10</text>
<text transform="translate(195.4,173) rotate(-45)" text-anchor="end" font-size="14.5" fill="#262626">12</text>
<text transform="translate(219.1,173) rotate(-45)" text-anchor="end" font-size="14.5" fill="#262626">14</text>
<text transform="translate(242.7,173) rotate(-45)" text-anchor="end" font-size="14.5" fill="#262626">16</text>
<text transform="translate(266.3,173) rotate(-45)" text-anchor="end" font-size="14.5" fill="#262626">18</text>
<text transform="translate(289.9,173) rotate(-45)" text-anchor="end" font-size="14.5" fill="#262626">20</text>
<text transform="translate(313.6,173) rotate(-45)" text-anchor="end" font-size="14.5" fill="#262626">22</text>
<text transform="translate(337.2,173) rotate(-45)" text-anchor="end" font-size="14.5" fill="#262626">24</text>
<text x="186.2" y="11.2" text-anchor="middle" font-size="16.3" font-style="italic" fill="#000">Tout=0°C</text>
<text x="185.2" y="201.5" text-anchor="middle" font-size="15.9" fill="#262626">Time/h</text>
<text transform="translate(11.7,88.5) rotate(-90)" text-anchor="middle" font-size="15.8" fill="#262626">Number of TCLs</text>
<rect x="219.8" y="29.5" width="33" height="12.4" fill="#e8282d"/>
<rect x="219.8" y="46.9" width="33" height="11.8" fill="#000"/>
<text x="255.3" y="41.3" font-size="14.1" fill="#000">Switch on</text>
<text x="255.3" y="58.1" font-size="14.1" fill="#000">Switch off</text>
<path d="M393.5,157.5L393.5,112.2L393.8,111.3L394,113.9L394.5,106.6L394.8,109.9L395,106.1L395.2,107.6L395.5,107.5L395.8,107.7L396,123.8L396.2,106.8L396.5,101.5L396.8,103.1L397,103.2L397.2,100.1L397.5,102L397.8,114.7L398,97.9L398.2,96.7L398.5,113L398.8,115.1L399,96L399.5,92.2L399.8,92.9L400,91.1L400.2,95.3L400.5,119.6L400.8,89.3L401,89.6L401.5,84.8L401.8,86.1L402,85L402.2,85.9L402.5,85.4L403,91.8L403.2,101.9L403.5,94.3L403.8,124L404,101.1L404.2,104.4L404.5,104.3L404.8,108.4L405.5,114.6L405.8,151.7L406,121.7L406.2,122L406.8,137.7L407,128.8L407.2,136.6L407.5,136.8L408,139.6L408.5,148.3L409,151.4L409.2,155.8L409.5,152.9L409.8,157.5L410,127L410.2,120.4L410.5,95.6L410.8,94.6L411,99.5L411.2,100.4L411.5,115.2L411.8,104.5L412.5,109.8L412.8,114.8L413.2,116.8L413.8,123.6L414,123.9L414.2,136.9L414.5,130.5L415,132.4L415.8,141L416,141.3L416.2,140.5L416.5,146.9L417,152.4L417.2,151.8L417.5,156L418,128.4L418.2,133L418.5,95L418.8,96.7L419,120.1L419.2,102.7L419.5,102.8L419.8,107.8L420,107.3L420.5,111.9L420.8,130.8L421,117.9L421.2,119.2L421.5,119.1L422.2,127.1L422.5,125.8L422.8,129.6L423,129.8L423.2,133.9L423.5,157.5L423.8,137.2L424.2,143.9L424.5,154.3L424.8,149.5L425,149.6L425.2,155.1L425.5,154.2L426.5,90.4L427,127.4L427.2,97.9L427.8,102.9L428,130.8L428.2,105.6L428.5,117.8L428.8,111.2L429,118.1L429.5,120L429.8,147.2L430.2,125L431.2,137.7L431.5,138.9L431.8,136.7L432.2,157.5L432.5,154.6L432.8,145.1L433,149.4L433.2,148.5L433.5,150.5L433.8,137L434,137.7L434.2,108.5L434.5,100.2L434.8,103.3L435,103.1L435.2,104.6L435.8,110.8L436,110.8L436.2,125.7L436.5,115.8L436.8,116.1L437,135.7L437.2,121.6L437.5,123.9L437.8,122.8L438,126L438.2,125.3L439.2,136.8L439.5,135.4L440,140.8L441.2,149L441.8,132.5L442,143.7L442.2,109.5L442.5,101.5L443,105.8L443.2,121.3L443.5,109.9L443.8,135.3L444,112.4L444.8,116L445.2,130.6L445.5,123.5L445.8,121.7L446,123.2L446.2,128.7L446.5,127.5L447.5,133.8L447.8,139.1L448,137.5L448.2,139.1L448.5,139.5L448.8,139.1L449.2,143.7L450,119.8L450.2,129.5L450.5,100.6L451,103.8L451.5,137.5L451.8,109L452,110.2L452.2,132.8L452.5,115.2L452.8,115.7L453,131.9L453.2,115.7L453.8,121.4L454,120.8L454.2,145.8L454.5,127.3L454.8,135.8L455,127.7L455.5,130L455.8,134.1L456.2,135.8L456.5,134.7L457.2,138.3L457.5,136.2L458.2,102.9L458.5,100.3L458.8,101.1L459.2,106.7L459.5,108.1L459.8,107.3L460.2,110.7L460.5,135.2L460.8,112.2L461,116.4L461.2,116L461.5,120.8L461.8,118.6L462,126.8L462.2,122.9L462.5,142.6L462.8,124.6L463,139L463.2,130.2L463.5,130.5L463.8,129.2L464.5,133.7L464.8,136.7L465.2,138.7L466.2,98.9L466.5,110.7L466.8,102L467,103.3L467.2,133.9L467.5,106.6L467.8,105.8L468,109L468.2,137.8L468.5,113L468.8,112.8L469.2,114.9L470.2,123.6L470.5,119.4L471,125.1L471.2,149.1L471.5,156.1L471.8,129.3L472,138.3L472.2,128.9L473.2,138.5L474.2,100L474.8,102.9L475,107L475.2,106.2L475.5,106.4L475.8,134.8L476,130L476.2,109.8L476.5,110.7L477,115.6L477.2,116L477.5,133.2L477.8,128.3L478,134.5L478.2,119.2L478.5,122.1L478.8,152.4L479,121.8L479.2,125.5L479.5,123.7L479.8,127.8L480,127L480.2,152.7L480.5,129.2L480.8,155.1L481,157.5L481.2,132.7L481.5,152.3L482,105L482.2,98.7L482.5,96.9L482.8,102.1L483,100.4L483.2,101.6L483.8,114.2L484,103.8L484.8,111.2L485,133.6L485.2,115.1L485.5,113.4L485.8,117.1L486,119.2L486.2,119.5L486.5,123.1L486.8,121.1L487.2,124.3L487.5,128.5L487.8,128L488.2,130.1L488.5,157.5L488.8,131.9L489,133.8L489.5,122.3L489.8,149.3L490,106.4L490.2,99.4L490.5,105.6L490.8,105.3L491,102.8L491.2,106L491.5,106L491.8,109.7L492,108.9L492.2,138.1L492.5,140.6L492.8,113.3L493,116.5L493.2,116.3L493.5,117.2L493.8,112.7L494,119.1L494.2,138.4L494.5,121.6L495,125L495.5,125.7L495.8,127.6L496,127.4L496.5,141L496.8,157.5L497,130.4L497.2,128.6L498,104.7L498.2,102.8L499,106.9L499.2,124.6L499.5,106.5L500,111.9L500.2,142L500.5,112.5L500.8,112.3L501.2,118.2L501.5,115.7L501.8,119.9L502,115.9L502.2,121L502.5,120.9L502.8,122.7L503,122.3L503.2,126.2L503.5,124.1L503.8,142L504,128.7L504.5,131.1L504.8,130.5L505,133.1L505.2,130.3L505.8,112L506.2,101.8L506.8,108.2L507,138.9L507.2,108L507.5,108L507.8,111.5L508,111.2L508.2,122.5L508.5,112.8L508.8,112.8L509,115.1L509.2,145.5L509.5,118.8L509.8,153L510,121.2L510.2,119.3L510.5,122.8L511,121.2L511.8,129L512,126.1L512.2,142.9L512.5,148.4L512.8,129.8L513,131.5L513.2,128.8L514,100.3L514.2,126.5L514.5,103.2L514.8,101.9L515,106.4L515.5,108.4L515.8,104.9L516.2,111.9L516.5,110.3L516.8,131.1L517,113.4L517.5,118.5L518,114.9L518.2,120.5L518.5,120.6L518.8,119.7L519.2,126.4L519.5,125.3L519.8,125.2L520,129.5L520.2,128.6L520.5,131.1L520.8,157.5L521,130.7L522,96.2L522.2,127.1L522.5,100.6L522.8,100.2L523,112.9L523.2,104.5L523.5,103L523.8,106.3L524,105.6L524.2,126.4L524.5,107.4L524.8,110.5L525.8,117.4L526.5,125.4L526.8,124L527,125.1L527.2,124L527.8,128L528,128.2L528.2,126.1L528.5,132.6L528.8,131.3L529,157.5L529.2,122.8L529.5,116.1L529.8,143.7L530,106L530.2,105.4L530.5,109.7L531,109.9L531.2,108.6L531.5,111.6L531.8,112.8L532,112.5L532.2,114.3L532.5,114.8L532.8,118.4L533,152.3L533.5,118.1L533.8,120.7L534,132.5L534.2,121.1L534.8,124.7L535,122.3L535.2,127.8L535.5,128L536,126.1L536.8,131.9L537,154.7L537.2,123.8L537.5,127.2L537.8,109.6L538,106.6L538.2,107L538.5,108.7L538.8,105.8L539.2,110.5L539.5,111L539.8,110.1L540,113.7L540.2,112.5L540.5,114.9L540.8,112.9L541,117.3L541.5,146.9L541.8,120.6L542,123.2L542.2,122.5L542.5,124.2L542.8,121.5L543,124.4L543.5,126.7L543.8,126.7L544,129.8L544.2,129.9L544.5,128.9L544.8,130.9L545.2,120.7L545.5,148.7L545.8,103.4L546.2,105.8L546.5,108.8L546.8,106.2L547.2,109.6L547.8,110.6L548.2,113.4L548.5,113.7L548.8,124.3L549,118.8L549.2,118.1L549.5,118.6L549.8,130.4L550,118.1L550.2,118.9L550.5,121.8L550.8,121.1L551,122.2L551.2,126.2L551.8,127.9L552.2,126L552.5,127.4L552.8,131.8L553,129.4L553.8,100.6L554,97.6L554.5,104.2L554.8,100.7L555,105L555.2,104.7L555.5,106.9L556,137.6L556.2,112.7L556.8,114.5L557,114.4L557.2,112.3L557.5,138L557.8,117.8L558,152.4L558.2,123.5L558.5,121.7L559,124.5L559.2,143.6L559.5,140.2L559.8,147.2L560,128.7L560.8,133.3L561.8,102.7L562,99.9L562.2,104L562.8,107.1L563,106.3L563.2,108.2L563.5,132.4L563.8,110.7L564,109.4L564.2,137.4L564.5,114L564.8,114.2L565,118L565.2,113.6L565.8,119.3L566,140.6L566.2,120.7L566.5,125.2L566.8,125.4L567,133.1L567.2,126.9L567.5,126.8L567.8,128.4L568,127.2L568.2,130.2L568.5,156.3L568.8,133.4L569.8,106.4L570,105.1L570.2,108.6L570.5,109L570.8,110.5L571.2,109L571.5,111.1L571.8,122.7L572,114.7L572.2,115.5L572.5,115.6L572.8,116.2L573,115.7L573.2,116.1L573.5,120.7L573.8,118.5L574,121.5L574.2,122.1L574.5,121.9L575.5,127.3L575.8,127.5L576,125.3L576.2,132.2L576.5,129.8L576.8,130.9L577,122.9L577.2,145.3L577.5,108.2L577.8,103.9L578,105.7L578.2,103.1L578.8,108L579,108.6L579.2,107.9L579.5,133.9L579.8,110.6L580,113.3L580.2,111.5L580.5,115.6L580.8,146.2L581.2,117.6L581.5,117L581.8,120.2L582,156.9L582.2,125.4L582.5,124.9L582.8,123.6L583,124L583.8,139.1L584,129.3L584.2,129.3L584.5,133.2L584.8,151.5L585,121.3L585.5,109.4L585.8,128.4L586,109.3L586.2,107.4L586.5,137.2L586.8,112.1L587,122.1L587.2,113.4L587.5,112.2L588,113.5L588.5,118.1L588.8,118.3L589.2,146.1L589.5,119.2L589.8,121.4L590,119.7L590.5,125.9L590.8,125.7L591,125L591.2,127.5L591.5,128.2L591.8,127.8L592,131.1L592.2,130.9L592.5,131.3L592.8,130.1L593.5,105.7L593.8,104.1L594,109.7L594.5,110.3L594.8,107.6L595,121.4L595.2,111.8L595.5,115.3L596,112.4L596.2,116.1L596.5,116.9L596.8,119.8L597,116.8L597.2,118.4L597.5,145.3L597.8,152.1L598,123L598.2,125L598.5,146.1L598.8,124.8L599,123.9L599.5,130.2L599.8,127.5L600.2,132L600.5,131.2L601.2,114.3L601.5,124.3L601.8,122.3L602,108L602.2,107L602.5,111.4L602.8,109.1L603.5,112.4L603.8,135.8L604,113.5L604.2,115.7L604.5,114.9L605.2,120.1L605.5,119.6L606.2,120.4L606.8,129.5L607,123.3L607.8,128.1L608,128.2L608.2,131.1L608.5,131.2L609,121.1L609.5,102.8L609.8,106.1L610,103.9L610.2,105.2L610.5,141.9L610.8,107.9L611,109.2L611.2,108.6L611.5,120.3L611.8,112.2L612,113.7L612.2,127.5L612.5,114.4L612.8,116.2L613,134.4L613.2,116.9L613.5,117.7L614,123.4L614.2,122.7L614.5,123.9L614.8,127.2L615,124.6L615.2,127.1L615.8,127L616.2,138.4L617.2,111.3L617.5,124.5L617.8,106.7L618,106L618.2,106.2L618.8,111L619,112L619.2,111.1L619.5,111.8L619.8,115.7L620,114.7L620.5,116.7L620.8,149.6L621,117.5L621.2,132.8L621.5,118L622,139.4L622.2,122L622.5,143.4L622.8,125.3L623,155.4L623.2,131L623.5,128.3L623.8,157.5L624,132.6L624.2,132.3L624.5,132.4L624.8,139.7L625,117.4L625.5,105.9L625.8,106.7L626,105.5L626.2,106.3L626.5,109L626.8,107.7L627,134.4L627.2,133.6L627.5,109.9L628,113.2L628.2,139.4L628.5,115.9L628.8,148.4L629,119.4L629.2,122.8L629.5,119.1L629.8,120.1L630,119.7L630.2,121.4L630.5,121.9L630.8,127.7L631,154.6L631.2,126.6L631.5,128.6L631.8,140.8L632,130.9L632.2,145.9L632.5,128.9L633,113.3L633.2,135.9L633.5,102.9L633.8,126.5L634,106.4L634.2,134.9L634.5,105.9L634.8,108.2L635,108.2L635.2,111.8L635.8,113.6L636,111.7L636.2,132L636.5,114.8L636.8,124.9L637,116.1L637.2,121L637.5,142.3L637.8,122.1L638,136.6L638.2,123.2L638.5,124.8L638.8,122.3L639,126L639.2,126.1L639.8,129.1L640,128.2L640.2,132L640.5,130.4L641,116.3L641.2,136L641.5,105.1L641.8,135.4L642,105L643.2,114.5L643.5,113.6L643.8,114.5L644,117.6L644.2,118.2L644.5,117.6L644.8,118.7L645,118.8L645.2,152L645.5,120.2L645.8,118.6L646,122L646.2,150.5L646.5,126.5L646.8,125L647,127.8L647.2,126.4L647.5,128.7L647.8,126.9L648,130.3L648.2,130.4L648.5,128.7L649,112.3L649.2,114.2L649.5,131L649.8,103.4L650,102.7L650.5,105.9L650.8,131.2L651,108.3L651.2,108.8L651.5,110.2L651.8,126.3L652,114.6L652.2,144.9L652.5,116.6L652.8,118.3L653,117.9L653.2,119L653.5,122.2L653.8,121.5L654,121.9L654.2,125.7L654.5,124.6L654.8,128.1L655,127.5L655.2,150L655.5,129.8L655.8,128.4L656,131.6L656.2,131.2L656.5,147.9L657,110.4L657.5,107.4L657.8,108.9L658,107.9L658.2,107.6L658.5,110.9L659,113L659.2,113.2L659.5,145.6L659.8,115.9L660,118L660.2,117.3L660.5,120.2L660.8,135.5L661,119.3L661.2,120L661.5,117.9L661.8,120.1L662,120L662.2,124L662.5,123.2L662.8,136.8L663,123.3L663.5,130.1L664,129.4L664.2,132.9L665.2,99.2L665.5,99.9L665.8,103.2L666.2,104.1L666.5,136.7L666.8,108.4L667,107.4L667.2,109.7L667.5,106L667.8,112.7L668,112.5L668.2,112.7L668.5,113.7L668.8,113.4L669.5,123.9L670.2,123.9L670.5,125.1L670.8,128.5L671,126.7L671.2,127.7L671.8,157.5L672,131.3L672.2,132.9L672.8,118.4L673,138L673.2,108.1L674.2,111.9L674.5,111.8L675,116.6L675.2,113.9L675.5,119.3L675.8,119.8L676,117.1L676.2,116.3L676.5,120.1L676.5,157.5Z" fill="#ec7477"/>
<clipPath id="co1"><path d="M393.5,157.5L393.5,61.9L393.8,61.9L394,57.9L394.5,55.9L394.8,56.2L395,55.7L396.5,45.1L396.8,44.9L397.5,41.6L397.8,54.7L398,38.4L398.8,35.4L399.2,31.3L399.5,37.1L399.8,35.4L400,37.7L400.2,52.3L400.5,42.2L401.5,54.5L401.8,71.6L402,62.9L403,85.4L403.5,89.9L404.8,63L405,60.8L405.2,64.1L405.5,49.8L405.8,45.6L406.8,36.2L407,36.3L407.5,34.3L408.2,38.7L409.8,57.9L410.8,77.4L411,91.8L411.8,81L412.8,61.1L413,59.5L414,43.9L414.5,40.5L414.8,37.1L415,36L415.2,36.3L415.5,35.8L415.8,35.8L416,49.3L416.2,41.7L417.2,51.9L418,63.1L419,82.1L419.2,93.4L419.5,83.8L420.5,65L421.5,52.7L421.8,51.3L422,54.3L422.2,46.7L422.5,45.5L422.8,51.6L423,40.6L423.2,40.2L423.5,42.9L423.8,42.5L424,43.8L424.2,59.9L424.5,47.6L426,64.9L427,79L427.2,85.3L427.8,75.1L428.8,62.8L429,69.1L429.2,56.3L429.5,60.7L429.8,50.5L430,60.7L430.2,46.2L430.5,45.6L430.8,43.3L431,44.1L431.5,42.5L431.8,45.9L432,45.4L432.2,53.7L432.5,49.7L433,52.9L434.5,71.4L435,80.2L435.2,81.6L436.5,61.7L437.2,53.4L437.5,56L438,47.4L438.8,41.5L439,41.2L439.2,41.9L439.5,41.3L441,52.4L442.5,69.6L443,77.9L443.2,79.1L444.2,64.5L444.8,60.6L445,56.4L445.5,51.1L446.5,44.5L447.2,43.3L447.5,43.5L447.8,46L448,46.1L448.5,49.3L449,53.5L449.2,61.2L449.5,57.7L450.8,74.6L451.2,77.2L453,55.7L453.2,60.6L453.5,52L453.8,58.3L454,48.7L454.2,48.3L454.8,42.9L455,43.1L456,46.7L456.5,49.7L456.8,52.9L457,53.6L457.2,56.5L457.5,69.1L457.8,61.9L458,64.2L458.2,79.7L458.5,70.3L458.8,73.1L459,84.8L459.2,77L459.8,69.4L461,55.1L461.2,53.1L461.5,52.6L462.2,45.7L462.5,46.5L463,43.6L463.5,46.1L463.8,45.6L464,48.8L464.5,50.2L465.2,57.7L466,63.2L467,75.5L467.2,75L467.8,67.3L468.2,62.9L468.5,61.4L468.8,62L469,57.4L469.8,50.1L470.2,49L471,45.3L471.2,55.8L471.5,49.5L471.8,47.4L473,55.6L473.5,61.2L473.8,60.5L475,74.9L477,52.8L477.2,53.5L477.5,49.7L478,46L478.5,44.7L478.8,42.8L479,42.7L479.5,45L479.8,44.8L480,47L480.5,48.6L480.8,59.6L481,53.4L481.5,57.1L482,63.1L482.2,73.9L482.5,68.7L483,73.6L483.8,67.1L484,62.9L484.2,62L484.5,63.4L485,54.6L485.2,54.5L485.5,60.2L485.8,49.9L486,49.7L486.2,48.5L486.8,44.8L487,46.1L487.2,45.6L487.5,46.4L487.8,49.1L488,49.2L488.2,50L488.5,52.5L488.8,53.1L489.2,58.8L489.8,61.6L490,68.4L490.2,66.1L490.8,72.3L491.2,71.9L491.5,67.3L492,63L492.2,68.3L492.8,55.4L493.2,51.7L493.8,50.2L494,47.9L494.2,48.3L494.5,47.2L494.8,44.6L495.2,46.3L495.5,46.4L495.8,48.7L496,49.4L496.8,54.4L497,58.4L497.5,59.6L498.2,68.6L499,72.5L499.5,67.5L499.8,70.2L500,63L500.5,58.7L501,56.8L502,50.2L502.2,59.4L502.8,50.4L503.2,47.9L503.8,52.5L504.5,55.9L504.8,55.9L505,59.8L505.2,61L505.5,61.4L506.8,73.7L507,71.9L507.2,77.8L507.5,78.2L507.8,67.3L508,64.5L508.8,60.7L509,60.2L509.2,57.5L509.8,55.7L510,55.5L510.2,54.8L510.5,55.7L510.8,54.8L511.5,55.5L511.8,64.7L512,58L512.2,57.7L513,63.5L513.8,66.3L514,69.4L514.2,69.9L514.8,73.9L515.2,69.3L515.8,67.7L516,67.7L516.5,61.5L517.5,55.2L517.8,54.9L518,53.6L518.5,52.8L518.8,53.1L519,52.9L519.2,53.8L520,55.1L520.2,57.2L520.5,57.8L520.8,71.4L521,61.3L521.2,61.7L521.8,67.3L522,67.9L522.5,81.9L522.8,75.1L523.5,66.9L524.2,60.8L524.5,61.4L525,56.5L526,51.9L526.2,65L526.5,49.8L527,50.6L527.5,52.6L528,53.6L528.5,57.5L528.8,73.1L529,59.5L529.8,66.1L530,76.5L530.2,69.2L530.8,73.4L531,72.4L531.2,69.9L531.5,69.4L532,62.8L532.2,62.4L532.5,60.2L533.5,56.6L533.8,54.9L534,61.7L534.2,53.9L534.5,51.2L535,54L535.2,53.4L536.5,59.1L536.8,68.9L537,61.3L538,68.1L538.2,71.4L538.8,73.6L540.8,59.2L541,58.8L541.5,56.4L541.8,56.1L542.5,51.4L543,51.7L543.2,52.2L543.5,52.3L543.8,54.6L544.2,56.4L544.5,68.8L544.8,71.8L545,61.1L546.5,72.5L547,71.6L547.5,64.8L547.8,64.7L548,62L548.5,60.4L549,55.1L549.2,57.4L549.8,50.9L550,55.9L550.2,48.3L550.5,60.3L550.8,49.7L551,49.9L551.5,51.5L551.8,50.5L552.5,57.4L553,59.2L553.2,61.1L553.5,65L553.8,64.5L554.2,71.2L554.5,72.8L554.8,73.1L555,84.9L555.2,67.4L555.5,64.5L555.8,62L556,61.8L557,52.1L557.5,51L557.8,48.5L558,48.3L558.5,45.9L558.8,46.4L559.5,50.8L559.8,50.5L560,51.8L560.2,55L561.5,64.8L561.8,65.5L562.5,72.8L562.8,72.9L563.8,63.4L564,63.2L564.2,72.6L564.5,60.1L564.8,61.4L565,56.6L565.2,55.4L565.5,55.7L565.8,52.2L566,52L566.2,53.4L566.5,52.3L567.2,55.3L567.5,55.4L567.8,56.6L568,56.8L568.5,61.2L569.2,64.4L569.5,67.7L570,69.5L570.2,73.4L570.8,73.1L572,64.1L572.2,61.1L572.5,63.6L572.8,61L573,60.5L573.2,58.7L574,56.4L574.2,56.4L574.5,55.1L574.8,57.1L575,56.9L575.2,57.1L575.5,56.9L576.2,64.3L576.5,62.1L576.8,69.2L577,63.9L578,70.9L578.2,83.5L578.5,74L578.8,75.5L579.5,67.2L579.8,67.5L580,64.6L580.2,64.6L580.5,73L580.8,62.5L581,62.4L581.2,62.6L581.5,60.3L581.8,60.5L582,59.4L582.2,62.2L582.5,58.2L583.2,60L583.8,62.2L584.2,63.2L585.2,68.5L585.5,68.4L586.5,75.4L586.8,74.1L587,69.8L587.8,67.2L588.2,62.9L588.5,62.2L588.8,75.6L589,58.2L589.5,59.7L589.8,57.8L590.2,56.8L590.5,57L590.8,58.4L591,57.8L591.2,66.7L591.5,65.2L591.8,60.4L592,60.8L592.5,63.7L592.8,62.8L593,66.2L594,71.2L594.2,74.5L594.5,74.2L594.8,71.4L595.2,69L595.5,68.8L595.8,78.8L596,65.8L596.2,63.9L596.8,61.4L597,62.4L597.5,59.6L598,58.9L598.2,59.1L598.5,58.6L598.8,60.4L599,58.3L599.2,59.7L599.5,59.5L600,63.5L600.2,72.5L600.5,65.9L600.8,66.4L601,66.2L601.2,67.1L601.5,69.9L602.5,74.3L603,69.8L603.5,67.5L603.8,77.1L604,64.7L604.2,64.1L604.8,60.9L605,61.3L605.2,60.7L605.5,58.3L606.2,56.9L606.5,58.9L606.8,59.6L607,58.3L607.8,60.7L608.2,63.9L608.8,65.2L609.8,70.1L610.2,74.5L610.5,72.2L610.8,72.6L611.5,65.7L611.8,65L612,65.2L612.2,65L613,60.7L613.2,60.7L614.2,57.1L614.8,58.1L615,59.4L615.2,59.6L615.5,61.8L615.8,61.6L616,63.4L616.2,63.2L616.8,65.6L617,65.9L617.2,68.8L618,73L618.5,74.2L618.8,70.6L620,65.7L620.2,63.4L620.5,64.2L621,61.7L621.2,62.7L621.5,59.3L621.8,64.5L622,59L622.2,59.2L622.5,60.7L622.8,59.8L623,60.1L623.2,61.8L623.8,63.3L624,62.9L624.2,65.3L624.8,66.6L625.2,69.5L625.5,69.3L625.8,70.6L626,74.1L626.5,73.1L627,70.7L627.2,71.1L627.8,67.9L628,67.9L628.2,64.6L628.5,78.7L628.8,64.5L629,65.2L629.2,62.5L629.5,62.2L629.8,64.2L630,62.6L630.2,62.7L630.5,72.4L630.8,64.9L631.2,63.5L632,67.2L632.2,66.7L632.8,69.7L633,69.5L633.2,71.1L633.8,72.2L634.2,74.3L634.5,74L635.2,69.3L635.5,69.6L635.8,67.1L636,67.3L636.2,78.3L636.5,66L636.8,64.2L637,64.8L637.2,62.7L637.5,63.1L637.8,62.5L638,62.4L638.2,63.3L638.5,61.9L639,69.1L639.2,63.7L639.5,64.1L639.8,71.6L640,66.6L641,70.4L641.2,70.4L642,74.6L642.5,73.7L643,71.7L643.2,75.9L643.8,67.8L644,66.4L644.2,66.6L644.5,65.6L644.8,65.8L645.5,62.9L646,63.3L646.2,62.9L646.5,63.6L646.8,61.9L647,72.3L647.2,63L647.5,65.8L647.8,66.1L648,65.2L648.5,71.8L648.8,68.2L649,68.8L649.2,72L649.5,71.8L649.8,73.3L650,73.2L650.2,74.4L650.5,72.7L651,71.3L651.2,68.6L651.5,68.1L651.8,66.5L652,66.5L652.2,64.9L652.5,64.6L653,62.4L653.2,62.2L653.5,60.9L653.8,61.7L654.2,59.7L654.8,62.5L655,60.9L655.8,64.7L656,64.4L656.5,68L656.8,67.5L657.8,72.8L658,75.2L659,69.5L659.2,68.5L659.5,68.6L660.2,64.1L660.8,63.6L661.5,60.5L661.8,61.4L662,61.5L662.2,60.8L662.5,61.5L662.8,61.5L663,62.7L663.2,62.4L663.5,63L663.8,63.1L664.5,67.7L664.8,67.5L665.8,74.2L666.2,72.7L666.5,70.8L666.8,70.4L668.8,58.9L669,58.8L669.2,59.4L669.5,58.1L670.2,56.7L670.5,57.9L670.8,64L671,58.7L671.2,59L671.8,62.8L672,62.2L672.5,64.4L673.5,72.5L674,74.6L675.2,66.5L675.8,64.7L676,64.4L676.5,59.9L676.5,157.5Z"/></clipPath>
<rect x="393.5" y="18" width="283" height="139.5" fill="#7f8081" clip-path="url(#co1)"/>
<path d="M396.5,18h1.1V157.5h-1.1ZM401.1,18h1.1V157.5h-1.1ZM407.9,18h1.4V157.5h-1.4ZM410.8,18h1.3V157.5h-1.3ZM414,18h1.2V157.5h-1.2ZM418.8,18h1.3V157.5h-1.3ZM422.9,18h1V157.5h-1ZM426.4,18h1.1V157.5h-1.1ZM432.8,18h1.3V157.5h-1.3ZM438.9,18h0.8V157.5h-0.8ZM445.4,18h1V157.5h-1ZM451.4,18h1.3V157.5h-1.3ZM458.5,18h1V157.5h-1ZM462,18h1V157.5h-1ZM467.6,18h1.1V157.5h-1.1ZM472.7,18h1V157.5h-1ZM475.6,18h0.8V157.5h-0.8ZM478.5,18h1.3V157.5h-1.3ZM481.4,18h1.2V157.5h-1.2ZM487.6,18h1.4V157.5h-1.4ZM491.5,18h0.9V157.5h-0.9ZM494.5,18h1.3V157.5h-1.3ZM498.7,18h1.1V157.5h-1.1ZM505,18h1.2V157.5h-1.2ZM512.2,18h1.3V157.5h-1.3ZM515.1,18h1.2V157.5h-1.2ZM518.4,18h0.8V157.5h-0.8ZM521.5,18h1.1V157.5h-1.1ZM526.8,18h1.2V157.5h-1.2ZM533.9,18h1.1V157.5h-1.1ZM538.5,18h1.1V157.5h-1.1ZM544.2,18h1.2V157.5h-1.2ZM547,18h1.3V157.5h-1.3ZM552,18h0.7V157.5h-0.7ZM557.8,18h1.2V157.5h-1.2ZM565.3,18h1.3V157.5h-1.3ZM568.7,18h1.4V157.5h-1.4ZM575,18h1.4V157.5h-1.4ZM578.3,18h0.8V157.5h-0.8ZM584.2,18h1.3V157.5h-1.3ZM588.1,18h0.7V157.5h-0.7ZM591.1,18h1V157.5h-1ZM593.7,18h1.2V157.5h-1.2ZM599.3,18h0.9V157.5h-0.9ZM606.3,18h0.8V157.5h-0.8ZM611.1,18h1.3V157.5h-1.3ZM615.2,18h0.7V157.5h-0.7ZM621.2,18h1V157.5h-1ZM624.3,18h1.2V157.5h-1.2ZM628.7,18h1.4V157.5h-1.4ZM632.7,18h1.3V157.5h-1.3ZM636.3,18h1V157.5h-1ZM640.7,18h0.8V157.5h-0.8ZM643.4,18h1.2V157.5h-1.2ZM646.5,18h1.2V157.5h-1.2ZM652.7,18h1.2V157.5h-1.2ZM656.3,18h1.1V157.5h-1.1ZM662.7,18h1V157.5h-1ZM667.9,18h0.8V157.5h-0.8ZM674.7,18h1.1V157.5h-1.1Z" fill="#a2a5a6" clip-path="url(#co1)"/>
<path d="M393.5,157.5L393.5,112.2L393.8,111.3L394,113.9L394.5,106.6L394.8,109.9L395,106.1L395.2,107.6L395.5,107.5L395.8,107.7L396,123.8L396.2,106.8L396.5,101.5L396.8,103.1L397,103.2L397.2,100.1L397.5,102L397.8,114.7L398,97.9L398.2,96.7L398.5,113L398.8,115.1L399,96L399.5,92.2L399.8,92.9L400,91.1L400.2,95.3L400.5,119.6L400.8,89.3L401,89.6L401.5,84.8L401.8,86.1L402,85L402.2,85.9L402.5,85.4L403,91.8L403.2,101.9L403.5,94.3L403.8,124L404,101.1L404.2,104.4L404.5,104.3L404.8,108.4L405.5,114.6L405.8,151.7L406,121.7L406.2,122L406.8,137.7L407,128.8L407.2,136.6L407.5,136.8L408,139.6L408.5,148.3L409,151.4L409.2,155.8L409.5,152.9L409.8,157.5L410,127L410.2,120.4L410.5,95.6L410.8,94.6L411,99.5L411.2,100.4L411.5,115.2L411.8,104.5L412.5,109.8L412.8,114.8L413.2,116.8L413.8,123.6L414,123.9L414.2,136.9L414.5,130.5L415,132.4L415.8,141L416,141.3L416.2,140.5L416.5,146.9L417,152.4L417.2,151.8L417.5,156L418,128.4L418.2,133L418.5,95L418.8,96.7L419,120.1L419.2,102.7L419.5,102.8L419.8,107.8L420,107.3L420.5,111.9L420.8,130.8L421,117.9L421.2,119.2L421.5,119.1L422.2,127.1L422.5,125.8L422.8,129.6L423,129.8L423.2,133.9L423.5,157.5L423.8,137.2L424.2,143.9L424.5,154.3L424.8,149.5L425,149.6L425.2,155.1L425.5,154.2L426.5,90.4L427,127.4L427.2,97.9L427.8,102.9L428,130.8L428.2,105.6L428.5,117.8L428.8,111.2L429,118.1L429.5,120L429.8,147.2L430.2,125L431.2,137.7L431.5,138.9L431.8,136.7L432.2,157.5L432.5,154.6L432.8,145.1L433,149.4L433.2,148.5L433.5,150.5L433.8,137L434,137.7L434.2,108.5L434.5,100.2L434.8,103.3L435,103.1L435.2,104.6L435.8,110.8L436,110.8L436.2,125.7L436.5,115.8L436.8,116.1L437,135.7L437.2,121.6L437.5,123.9L437.8,122.8L438,126L438.2,125.3L439.2,136.8L439.5,135.4L440,140.8L441.2,149L441.8,132.5L442,143.7L442.2,109.5L442.5,101.5L443,105.8L443.2,121.3L443.5,109.9L443.8,135.3L444,112.4L444.8,116L445.2,130.6L445.5,123.5L445.8,121.7L446,123.2L446.2,128.7L446.5,127.5L447.5,133.8L447.8,139.1L448,137.5L448.2,139.1L448.5,139.5L448.8,139.1L449.2,143.7L450,119.8L450.2,129.5L450.5,100.6L451,103.8L451.5,137.5L451.8,109L452,110.2L452.2,132.8L452.5,115.2L452.8,115.7L453,131.9L453.2,115.7L453.8,121.4L454,120.8L454.2,145.8L454.5,127.3L454.8,135.8L455,127.7L455.5,130L455.8,134.1L456.2,135.8L456.5,134.7L457.2,138.3L457.5,136.2L458.2,102.9L458.5,100.3L458.8,101.1L459.2,106.7L459.5,108.1L459.8,107.3L460.2,110.7L460.5,135.2L460.8,112.2L461,116.4L461.2,116L461.5,120.8L461.8,118.6L462,126.8L462.2,122.9L462.5,142.6L462.8,124.6L463,139L463.2,130.2L463.5,130.5L463.8,129.2L464.5,133.7L464.8,136.7L465.2,138.7L466.2,98.9L466.5,110.7L466.8,102L467,103.3L467.2,133.9L467.5,106.6L467.8,105.8L468,109L468.2,137.8L468.5,113L468.8,112.8L469.2,114.9L470.2,123.6L470.5,119.4L471,125.1L471.2,149.1L471.5,156.1L471.8,129.3L472,138.3L472.2,128.9L473.2,138.5L474.2,100L474.8,102.9L475,107L475.2,106.2L475.5,106.4L475.8,134.8L476,130L476.2,109.8L476.5,110.7L477,115.6L477.2,116L477.5,133.2L477.8,128.3L478,134.5L478.2,119.2L478.5,122.1L478.8,152.4L479,121.8L479.2,125.5L479.5,123.7L479.8,127.8L480,127L480.2,152.7L480.5,129.2L480.8,155.1L481,157.5L481.2,132.7L481.5,152.3L482,105L482.2,98.7L482.5,96.9L482.8,102.1L483,100.4L483.2,101.6L483.8,114.2L484,103.8L484.8,111.2L485,133.6L485.2,115.1L485.5,113.4L485.8,117.1L486,119.2L486.2,119.5L486.5,123.1L486.8,121.1L487.2,124.3L487.5,128.5L487.8,128L488.2,130.1L488.5,157.5L488.8,131.9L489,133.8L489.5,122.3L489.8,149.3L490,106.4L490.2,99.4L490.5,105.6L490.8,105.3L491,102.8L491.2,106L491.5,106L491.8,109.7L492,108.9L492.2,138.1L492.5,140.6L492.8,113.3L493,116.5L493.2,116.3L493.5,117.2L493.8,112.7L494,119.1L494.2,138.4L494.5,121.6L495,125L495.5,125.7L495.8,127.6L496,127.4L496.5,141L496.8,157.5L497,130.4L497.2,128.6L498,104.7L498.2,102.8L499,106.9L499.2,124.6L499.5,106.5L500,111.9L500.2,142L500.5,112.5L500.8,112.3L501.2,118.2L501.5,115.7L501.8,119.9L502,115.9L502.2,121L502.5,120.9L502.8,122.7L503,122.3L503.2,126.2L503.5,124.1L503.8,142L504,128.7L504.5,131.1L504.8,130.5L505,133.1L505.2,130.3L505.8,112L506.2,101.8L506.8,108.2L507,138.9L507.2,108L507.5,108L507.8,111.5L508,111.2L508.2,122.5L508.5,112.8L508.8,112.8L509,115.1L509.2,145.5L509.5,118.8L509.8,153L510,121.2L510.2,119.3L510.5,122.8L511,121.2L511.8,129L512,126.1L512.2,142.9L512.5,148.4L512.8,129.8L513,131.5L513.2,128.8L514,100.3L514.2,126.5L514.5,103.2L514.8,101.9L515,106.4L515.5,108.4L515.8,104.9L516.2,111.9L516.5,110.3L516.8,131.1L517,113.4L517.5,118.5L518,114.9L518.2,120.5L518.5,120.6L518.8,119.7L519.2,126.4L519.5,125.3L519.8,125.2L520,129.5L520.2,128.6L520.5,131.1L520.8,157.5L521,130.7L522,96.2L522.2,127.1L522.5,100.6L522.8,100.2L523,112.9L523.2,104.5L523.5,103L523.8,106.3L524,105.6L524.2,126.4L524.5,107.4L524.8,110.5L525.8,117.4L526.5,125.4L526.8,124L527,125.1L527.2,124L527.8,128L528,128.2L528.2,126.1L528.5,132.6L528.8,131.3L529,157.5L529.2,122.8L529.5,116.1L529.8,143.7L530,106L530.2,105.4L530.5,109.7L531,109.9L531.2,108.6L531.5,111.6L531.8,112.8L532,112.5L532.2,114.3L532.5,114.8L532.8,118.4L533,152.3L533.5,118.1L533.8,120.7L534,132.5L534.2,121.1L534.8,124.7L535,122.3L535.2,127.8L535.5,128L536,126.1L536.8,131.9L537,154.7L537.2,123.8L537.5,127.2L537.8,109.6L538,106.6L538.2,107L538.5,108.7L538.8,105.8L539.2,110.5L539.5,111L539.8,110.1L540,113.7L540.2,112.5L540.5,114.9L540.8,112.9L541,117.3L541.5,146.9L541.8,120.6L542,123.2L542.2,122.5L542.5,124.2L542.8,121.5L543,124.4L543.5,126.7L543.8,126.7L544,129.8L544.2,129.9L544.5,128.9L544.8,130.9L545.2,120.7L545.5,148.7L545.8,103.4L546.2,105.8L546.5,108.8L546.8,106.2L547.2,109.6L547.8,110.6L548.2,113.4L548.5,113.7L548.8,124.3L549,118.8L549.2,118.1L549.5,118.6L549.8,130.4L550,118.1L550.2,118.9L550.5,121.8L550.8,121.1L551,122.2L551.2,126.2L551.8,127.9L552.2,126L552.5,127.4L552.8,131.8L553,129.4L553.8,100.6L554,97.6L554.5,104.2L554.8,100.7L555,105L555.2,104.7L555.5,106.9L556,137.6L556.2,112.7L556.8,114.5L557,114.4L557.2,112.3L557.5,138L557.8,117.8L558,152.4L558.2,123.5L558.5,121.7L559,124.5L559.2,143.6L559.5,140.2L559.8,147.2L560,128.7L560.8,133.3L561.8,102.7L562,99.9L562.2,104L562.8,107.1L563,106.3L563.2,108.2L563.5,132.4L563.8,110.7L564,109.4L564.2,137.4L564.5,114L564.8,114.2L565,118L565.2,113.6L565.8,119.3L566,140.6L566.2,120.7L566.5,125.2L566.8,125.4L567,133.1L567.2,126.9L567.5,126.8L567.8,128.4L568,127.2L568.2,130.2L568.5,156.3L568.8,133.4L569.8,106.4L570,105.1L570.2,108.6L570.5,109L570.8,110.5L571.2,109L571.5,111.1L571.8,122.7L572,114.7L572.2,115.5L572.5,115.6L572.8,116.2L573,115.7L573.2,116.1L573.5,120.7L573.8,118.5L574,121.5L574.2,122.1L574.5,121.9L575.5,127.3L575.8,127.5L576,125.3L576.2,132.2L576.5,129.8L576.8,130.9L577,122.9L577.2,145.3L577.5,108.2L577.8,103.9L578,105.7L578.2,103.1L578.8,108L579,108.6L579.2,107.9L579.5,133.9L579.8,110.6L580,113.3L580.2,111.5L580.5,115.6L580.8,146.2L581.2,117.6L581.5,117L581.8,120.2L582,156.9L582.2,125.4L582.5,124.9L582.8,123.6L583,124L583.8,139.1L584,129.3L584.2,129.3L584.5,133.2L584.8,151.5L585,121.3L585.5,109.4L585.8,128.4L586,109.3L586.2,107.4L586.5,137.2L586.8,112.1L587,122.1L587.2,113.4L587.5,112.2L588,113.5L588.5,118.1L588.8,118.3L589.2,146.1L589.5,119.2L589.8,121.4L590,119.7L590.5,125.9L590.8,125.7L591,125L591.2,127.5L591.5,128.2L591.8,127.8L592,131.1L592.2,130.9L592.5,131.3L592.8,130.1L593.5,105.7L593.8,104.1L594,109.7L594.5,110.3L594.8,107.6L595,121.4L595.2,111.8L595.5,115.3L596,112.4L596.2,116.1L596.5,116.9L596.8,119.8L597,116.8L597.2,118.4L597.5,145.3L597.8,152.1L598,123L598.2,125L598.5,146.1L598.8,124.8L599,123.9L599.5,130.2L599.8,127.5L600.2,132L600.5,131.2L601.2,114.3L601.5,124.3L601.8,122.3L602,108L602.2,107L602.5,111.4L602.8,109.1L603.5,112.4L603.8,135.8L604,113.5L604.2,115.7L604.5,114.9L605.2,120.1L605.5,119.6L606.2,120.4L606.8,129.5L607,123.3L607.8,128.1L608,128.2L608.2,131.1L608.5,131.2L609,121.1L609.5,102.8L609.8,106.1L610,103.9L610.2,105.2L610.5,141.9L610.8,107.9L611,109.2L611.2,108.6L611.5,120.3L611.8,112.2L612,113.7L612.2,127.5L612.5,114.4L612.8,116.2L613,134.4L613.2,116.9L613.5,117.7L614,123.4L614.2,122.7L614.5,123.9L614.8,127.2L615,124.6L615.2,127.1L615.8,127L616.2,138.4L617.2,111.3L617.5,124.5L617.8,106.7L618,106L618.2,106.2L618.8,111L619,112L619.2,111.1L619.5,111.8L619.8,115.7L620,114.7L620.5,116.7L620.8,149.6L621,117.5L621.2,132.8L621.5,118L622,139.4L622.2,122L622.5,143.4L622.8,125.3L623,155.4L623.2,131L623.5,128.3L623.8,157.5L624,132.6L624.2,132.3L624.5,132.4L624.8,139.7L625,117.4L625.5,105.9L625.8,106.7L626,105.5L626.2,106.3L626.5,109L626.8,107.7L627,134.4L627.2,133.6L627.5,109.9L628,113.2L628.2,139.4L628.5,115.9L628.8,148.4L629,119.4L629.2,122.8L629.5,119.1L629.8,120.1L630,119.7L630.2,121.4L630.5,121.9L630.8,127.7L631,154.6L631.2,126.6L631.5,128.6L631.8,140.8L632,130.9L632.2,145.9L632.5,128.9L633,113.3L633.2,135.9L633.5,102.9L633.8,126.5L634,106.4L634.2,134.9L634.5,105.9L634.8,108.2L635,108.2L635.2,111.8L635.8,113.6L636,111.7L636.2,132L636.5,114.8L636.8,124.9L637,116.1L637.2,121L637.5,142.3L637.8,122.1L638,136.6L638.2,123.2L638.5,124.8L638.8,122.3L639,126L639.2,126.1L639.8,129.1L640,128.2L640.2,132L640.5,130.4L641,116.3L641.2,136L641.5,105.1L641.8,135.4L642,105L643.2,114.5L643.5,113.6L643.8,114.5L644,117.6L644.2,118.2L644.5,117.6L644.8,118.7L645,118.8L645.2,152L645.5,120.2L645.8,118.6L646,122L646.2,150.5L646.5,126.5L646.8,125L647,127.8L647.2,126.4L647.5,128.7L647.8,126.9L648,130.3L648.2,130.4L648.5,128.7L649,112.3L649.2,114.2L649.5,131L649.8,103.4L650,102.7L650.5,105.9L650.8,131.2L651,108.3L651.2,108.8L651.5,110.2L651.8,126.3L652,114.6L652.2,144.9L652.5,116.6L652.8,118.3L653,117.9L653.2,119L653.5,122.2L653.8,121.5L654,121.9L654.2,125.7L654.5,124.6L654.8,128.1L655,127.5L655.2,150L655.5,129.8L655.8,128.4L656,131.6L656.2,131.2L656.5,147.9L657,110.4L657.5,107.4L657.8,108.9L658,107.9L658.2,107.6L658.5,110.9L659,113L659.2,113.2L659.5,145.6L659.8,115.9L660,118L660.2,117.3L660.5,120.2L660.8,135.5L661,119.3L661.2,120L661.5,117.9L661.8,120.1L662,120L662.2,124L662.5,123.2L662.8,136.8L663,123.3L663.5,130.1L664,129.4L664.2,132.9L665.2,99.2L665.5,99.9L665.8,103.2L666.2,104.1L666.5,136.7L666.8,108.4L667,107.4L667.2,109.7L667.5,106L667.8,112.7L668,112.5L668.2,112.7L668.5,113.7L668.8,113.4L669.5,123.9L670.2,123.9L670.5,125.1L670.8,128.5L671,126.7L671.2,127.7L671.8,157.5L672,131.3L672.2,132.9L672.8,118.4L673,138L673.2,108.1L674.2,111.9L674.5,111.8L675,116.6L675.2,113.9L675.5,119.3L675.8,119.8L676,117.1L676.2,116.3L676.5,120.1L676.5,157.5Z" fill="url(#pr2)"/>
<rect x="393.5" y="18.0" width="283" height="139.5" fill="none" stroke="#262626" stroke-width="1.5"/>
<path d="M393.5,157.5v-3M393.5,18v3M417.1,157.5v-3M417.1,18v3M440.7,157.5v-3M440.7,18v3M464.2,157.5v-3M464.2,18v3M487.8,157.5v-3M487.8,18v3M511.4,157.5v-3M511.4,18v3M535,157.5v-3M535,18v3M558.6,157.5v-3M558.6,18v3M582.2,157.5v-3M582.2,18v3M605.8,157.5v-3M605.8,18v3M629.3,157.5v-3M629.3,18v3M652.9,157.5v-3M652.9,18v3M676.5,157.5v-3M676.5,18v3M393.5,157.5h3M676.5,157.5h-3M393.5,111h3M676.5,111h-3M393.5,64.5h3M676.5,64.5h-3M393.5,18h3M676.5,18h-3" stroke="#262626" stroke-width="1.5" fill="none"/>
<text x="387.7" y="162.8" text-anchor="end" font-size="14.7" fill="#262626">0</text>
<text x="387.7" y="116.3" text-anchor="end" font-size="14.7" fill="#262626">200</text>
<text x="387.7" y="69.8" text-anchor="end" font-size="14.7" fill="#262626">400</text>
<text x="387.7" y="23.3" text-anchor="end" font-size="14.7" fill="#262626">600</text>
<text transform="translate(402.9,173) rotate(-45)" text-anchor="end" font-size="14.5" fill="#262626">0</text>
<text transform="translate(426.5,173) rotate(-45)" text-anchor="end" font-size="14.5" fill="#262626">2</text>
<text transform="translate(450.1,173) rotate(-45)" text-anchor="end" font-size="14.5" fill="#262626">4</text>
<text transform="translate(473.6,173) rotate(-45)" text-anchor="end" font-size="14.5" fill="#262626">6</text>
<text transform="translate(497.2,173) rotate(-45)" text-anchor="end" font-size="14.5" fill="#262626">8</text>
<text transform="translate(520.8,173) rotate(-45)" text-anchor="end" font-size="14.5" fill="#262626">10</text>
<text transform="translate(544.4,173) rotate(-45)" text-anchor="end" font-size="14.5" fill="#262626">12</text>
<text transform="translate(568,173) rotate(-45)" text-anchor="end" font-size="14.5" fill="#262626">14</text>
<text transform="translate(591.6,173) rotate(-45)" text-anchor="end" font-size="14.5" fill="#262626">16</text>
<text transform="translate(615.2,173) rotate(-45)" text-anchor="end" font-size="14.5" fill="#262626">18</text>
<text transform="translate(638.7,173) rotate(-45)" text-anchor="end" font-size="14.5" fill="#262626">20</text>
<text transform="translate(662.3,173) rotate(-45)" text-anchor="end" font-size="14.5" fill="#262626">22</text>
<text transform="translate(685.9,173) rotate(-45)" text-anchor="end" font-size="14.5" fill="#262626">24</text>
<text x="536" y="11.2" text-anchor="middle" font-size="16.3" font-style="italic" fill="#000">Tout=-5°C</text>
<text x="535" y="201.5" text-anchor="middle" font-size="15.9" fill="#262626">Time/h</text>
<text transform="translate(359.7,88.5) rotate(-90)" text-anchor="middle" font-size="15.8" fill="#262626">Number of TCLs</text>
<rect x="569.3" y="29.5" width="33" height="12.4" fill="#e8282d"/>
<rect x="569.3" y="46.9" width="33" height="11.8" fill="#000"/>
<text x="604.8" y="41.3" font-size="14.1" fill="#000">Switch on</text>
<text x="604.8" y="58.1" font-size="14.1" fill="#000">Switch off</text>
<path d="M43.5,363.5L43.5,327.9L45,300.2L45.2,332L45.5,291.2L46.5,273.2L46.8,287.1L47,267.5L48.2,288.7L48.5,314.2L48.8,302L50.2,325.1L50.5,331L50.8,354.9L51,336.3L51.2,330.6L52.8,308L53.2,297L53.8,291.8L54,284.7L54.2,283.9L54.5,276.3L55,272.9L57.2,312.6L57.5,335.7L57.8,317.8L58.5,334L58.8,335.5L59.2,331.8L60,317.1L60.2,317.4L60.8,307.4L61,332.4L61.2,298.9L61.5,294.8L61.8,293.6L62,284.7L62.5,279.8L62.8,273.5L63.5,282.2L66.8,336.1L67,334.6L68.5,311.2L69,299.9L69.2,300.4L70.2,279.9L70.5,308.7L70.8,273.7L71.2,277.8L71.8,289.3L72,291.2L72.2,297.4L72.5,298.4L73.5,317.2L74.8,334.7L75.2,331.1L75.8,320.5L76,319L76.8,306.9L77,300.1L77.2,299.9L77.8,293.6L78,316.9L78.2,284.1L78.8,275.5L79,275.1L80.2,299.3L81,309.6L81.2,310.8L81.5,317.1L82,322.6L82.2,345.3L82.5,331L82.8,336.2L85.8,287.4L86.2,312.5L86.5,274.3L86.8,270.4L89.2,312.1L89.5,314L89.8,321L90.2,325.7L90.8,334.2L91,328.7L91.2,327.9L91.8,322.2L93,296.9L93.2,296.2L94,286L94.8,272L95.5,285.2L95.8,285.2L96,293.8L96.8,305.7L98.5,330L98.8,363.5L99,333.9L99.2,327.9L100,315L100.2,344.2L100.5,308.2L101.5,291.9L101.8,299.8L102,296.6L102.2,284.8L102.8,274.3L103.2,285.2L104,293.1L104.8,306.6L105.5,315.1L105.8,330.4L106,321.4L106.2,346.3L106.5,331.1L106.8,356.7L107,330.4L107.2,356.3L107.8,318.6L108.2,308.9L108.5,307.1L108.8,306.5L109.8,287.5L110,311.3L110.2,280.1L110.8,274.6L111.2,279.4L113,310.6L113.2,310.5L113.8,321.3L114,346.4L114.2,328.2L114.8,334L115,328L115.2,328.3L115.5,321.6L116.2,312.7L116.5,323.8L116.8,304.8L117,299L117.2,299.4L118.5,277.9L118.8,278.6L120,297.3L120.2,298.5L121,311.9L121.5,316.1L122,326.6L122.2,327.3L122.5,355L122.8,332.3L124.8,307.6L125,301.4L125.8,292.3L126,286.9L126.2,286.6L126.5,281.8L126.8,281.2L127.5,292.7L128.2,301L128.5,338.9L128.8,308.6L130.2,329.1L130.5,330L130.8,332.9L131.2,324.5L131.8,319.7L132,326.2L132.2,311.4L133.5,292.3L133.8,291L134,283.5L134.2,283.6L134.5,277L134.8,277.1L135.5,290.8L136,295.9L137.2,314.4L137.5,337L137.8,321.2L138.2,330.5L138.8,333.4L139,328.8L139.2,346.7L139.5,319.6L139.8,318.4L140,314.6L140.2,340.1L140.5,306.1L141.5,293.9L142,284.9L142.2,284.5L142.5,280.7L143.2,285.9L145,312.7L145.5,316.8L145.8,334.9L146,334.9L146.2,329L146.8,334.5L147,327.1L147.8,320.5L148.8,304.1L150,287.7L150.2,308.6L150.5,282.3L150.8,282L151.5,295.5L152,298.8L152.5,307.5L152.8,308.6L153,314.4L154,325L154.2,330.7L154.5,331.3L154.8,345.2L155,327.1L155.8,317.9L156.5,305.2L157,298.9L157.2,297.6L158,284.8L158.2,283.2L158.5,308.7L158.8,281.3L159.5,290.4L160,301.4L160.2,299.5L162,326.7L162.2,327.3L162.5,334.5L162.8,330L163,329.1L163.5,319.1L163.8,317.6L164,310.6L164.5,303.6L165,299.5L165.5,289.6L165.8,289.7L166,281.7L166.5,277L167,282L167.2,289.2L167.5,289.7L167.8,296.5L168,296.8L170.2,329.4L170.5,331.7L170.8,331L171,337.2L171.5,319.2L171.8,318.4L173.2,296L173.8,291.4L174,284.7L174.2,284.5L174.5,280.7L176.5,308.6L178.5,333.1L178.8,332.4L179,325.4L179.2,323.9L179.5,328L179.8,316.1L180,329.8L180.2,309.6L182.5,279.9L184.8,312.4L185,314.8L185.5,316.7L185.8,324.1L186,326L186.2,331.7L186.5,332.9L189.8,288.8L190.2,279.9L190.8,282.4L191.5,295.7L191.8,296.7L192.2,305.5L192.8,308.2L193,314.6L193.8,323.1L194,329.5L194.2,329.2L194.5,333.2L194.8,331.2L196,309.7L196.2,309L198.2,281.3L198.8,282.3L199,314.5L199.2,291.6L200.8,309.5L201,327.4L201.2,317.5L201.5,328.3L201.8,325.6L202.2,331.2L202.8,327.3L203.5,318.4L204,309.5L204.2,308L204.8,299.1L205.5,292.2L205.8,286.1L206.2,280.5L206.5,291.3L206.8,284.9L207,285.6L208.2,303.9L208.5,304.4L209.2,319L210.2,331L210.5,330.7L211,323.7L211.2,322.5L212.2,305.5L212.8,301.1L213.5,288.5L214.2,280.1L214.5,280.1L215.8,299.2L216.8,309.6L217.5,322.1L218,325.5L218.2,330L218.5,330.6L219.8,314.5L220.5,301.5L221.2,291.8L221.5,290.7L221.8,287.8L222.2,278.6L222.8,281.8L223,315.9L223.2,290.3L224.2,305L224.5,305.1L224.8,310.3L225,332.8L225.2,317.7L225.5,320L225.8,327L226,326.3L226.2,332.7L226.5,352.9L226.8,328.2L227.5,319.8L228,310.5L228.2,340.7L228.5,302.7L228.8,321.8L229,297.8L229.2,293.9L229.5,309.6L229.8,289.7L230.2,283.7L230.5,283.6L231.5,297.8L231.8,299L232.2,305.5L232.8,314.6L233.2,318.6L233.5,349.8L233.8,324.3L234.2,331.8L234.5,331.7L235,322.2L236,311.4L237.2,294L237.5,292.7L238,282.6L238.8,286.1L239.2,293.8L239.5,321.7L239.8,300L240,307.2L240.2,331.2L240.5,309.7L240.8,310.6L241.2,317.8L241.5,324.6L241.8,325.8L242,329.2L242.2,330L242.5,328.8L243.2,318.7L243.5,317.5L244.5,301L245,297.4L245.2,291.7L245.5,308.1L245.8,288L246.2,276.9L246.5,283.5L246.8,285.8L247,286.1L247.2,293.9L247.8,298.6L248,305.8L248.5,307.7L249,316.1L250.2,329.8L250.5,328.8L250.8,323.4L251.2,319.8L251.5,315.5L251.8,326.7L252,309.1L252.8,298.3L253,298.2L253.5,291L253.8,318.4L254,283.5L254.2,279.8L255.8,301.8L256,301.9L257.5,323.3L258.2,330.8L258.5,327L258.8,338.9L259,323.2L259.2,319L259.5,340.6L259.8,311.2L260.2,303.8L260.5,304.3L260.8,299.1L261.2,295.3L262.2,282.9L262.5,296L262.8,289L263,290.1L263.2,296.3L263.5,296.6L264,305.9L264.8,313.1L265,318.7L265.5,322.9L265.8,336.8L266,329.2L266.2,332L266.8,323.2L267.2,319.5L268.5,302.6L268.8,316.2L269,295.2L269.2,294.2L269.5,289.4L269.8,288.5L270,283.7L270.2,309.9L270.5,285.5L271.2,296.6L271.8,297.6L272.8,315.3L273,316.4L274.2,332.8L274.5,327.4L274.8,327.1L275,321.9L275.8,313.2L276,307.2L276.2,327.6L276.5,300.7L277,293L277.2,293.4L277.5,287.8L277.8,287L278,282.7L278.2,281.9L278.8,288.6L279,289.5L280,305.1L280.8,312.9L282,330.1L282.5,327.3L282.8,322.9L283,321.8L284.5,302.1L284.8,315.2L285,297.1L285.2,292L286.2,282.3L286.5,287.4L286.8,312.8L287,292.3L287.2,293.7L287.5,299.4L288,303.7L288.2,309.4L288.5,310.2L290,331.2L290.2,330.5L290.8,324.3L291,354.8L291.2,317.6L292.5,301.8L292.8,296.4L293,295.5L293.2,289.2L294,279.4L295.2,294.8L295.5,300.5L295.8,301.2L296,306.6L296.8,313.7L297,319.1L297.2,318.8L297.5,323.8L297.8,323.3L298,329.9L298.2,329.1L298.8,324.7L299.5,311.8L299.8,310.9L300,304.5L301.2,288.5L301.5,287.8L302,279L303,289.1L303.2,294.5L304.5,310.8L304.8,335.6L305,318.3L305.2,319.2L305.5,324.7L306,329.2L306.8,324.5L307,350.7L307.2,318.5L307.8,310.8L308,339.5L308.2,304.8L309,297.1L309.2,296.5L309.8,287.4L310,286.6L310.2,289.3L310.5,289.2L311.2,300.2L312,306.2L312.2,339L312.5,311.4L312.8,318.8L313,318.7L313.2,322L313.5,344.6L313.8,327L314,332.2L315,319.3L315.2,319.6L315.8,311.3L316,310.9L316.2,304.6L317.2,292.5L317.5,292.4L318,284.5L318.2,289.7L318.5,288.9L319.2,300.3L319.8,304.7L320,311L320.2,310.6L320.5,330.5L320.8,317.1L321,322.3L321.2,322L322,330.4L322.2,328.8L322.5,356L322.8,322.2L323.8,306.9L324,306.7L324.2,304.4L324.5,298.1L325,294.3L325.2,289L325.5,285.8L325.8,285.1L326,280.7L326.5,284.3L326.8,322.8L327,291.2L327,363.5Z" fill="#ec7477"/>
<clipPath id="co2"><path d="M43.5,363.5L43.5,288.6L44,283.3L44.2,282.6L44.8,278.3L45,278.9L45.2,275.1L45.8,273.5L46,271L48,259.5L48.2,256.2L48.5,255.4L49,251L49.8,248.3L50,245.4L50.8,241.3L51,238.6L53.5,292.5L53.8,291.6L54.2,301L54.5,302.3L54.8,317.7L55,319.7L55.5,300.6L55.8,296.2L56,298.1L56.2,290.2L57.8,263.3L58.8,240L59,240.3L59.8,261.7L60,262.9L61.8,293.8L62.8,306.4L63,306L63.5,301.6L63.8,307.2L64,293.5L65.8,266.6L66.8,247.6L67,248.9L69.8,296.8L70.2,299.7L70.8,316.9L71,304.6L71.5,300.6L72.5,287.1L74.8,244.2L75.2,249.8L75.8,265.3L76,266L77.5,293.2L78.2,302.9L79,305.6L80.2,289.8L80.5,298.2L80.8,281.1L81.2,274.4L82.8,243.9L84.2,270.6L84.5,278.8L85,283.7L86,300.5L86.2,302.8L86.5,303L86.8,317.6L87,305.9L89,279.8L89.5,270L90.2,260.4L90.8,248.3L91,252.4L91.2,266.9L91.5,260.2L92,277.9L92.2,273.9L92.5,289L92.8,282.2L93.5,294.1L94.5,305L94.8,306.1L95.2,303.1L96,292.5L96.5,288.3L98.5,250.5L98.8,249.2L99.2,254.7L99.8,267.9L100,268.9L101.2,289.7L102.2,302.7L102.8,316.1L103,304.9L103.2,300.7L103.5,300.3L103.8,297.7L104,292.1L104.2,301.2L104.5,287.3L105.2,275.4L105.5,275.5L105.8,265.8L106.8,251.2L107.2,267.1L107.5,264.4L109.2,291.4L109.5,299.1L109.8,298.3L110.5,304.9L110.8,304.9L111.2,302.6L112,292.4L114.8,246.4L116,270.9L117.8,297.3L118,311.2L118.2,303L118.5,306.5L118.8,306.1L120.2,288.5L122.5,249.5L122.8,248.2L124,268.7L124.5,282.2L124.8,283L126,299.1L126.2,307.1L126.5,304.7L126.8,305.5L127,303.8L128.5,285.3L128.8,289.2L129,278.9L129.2,275.2L129.5,279.2L129.8,267.8L130,263.6L130.2,263.3L130.8,253.1L131,259.7L132.5,282.9L134,300.3L134.2,306.4L134.5,303.9L134.8,305.2L135.2,301.4L135.5,308.2L135.8,295L136,293.6L137,278.7L138.5,253.4L138.8,253.5L140.8,285.5L141,301.9L141.2,292.3L142.5,305.3L143.2,300.6L143.5,296.5L143.8,307.5L144,291.4L144.5,294.4L144.8,281.3L145,277.2L145.2,276.2L146.5,254.5L146.8,254.8L148,276.3L149,290L150,301.7L150.5,305.6L151.2,300.1L151.8,294.3L152,300.9L152.2,286.8L152.8,282L153.8,265.4L154,274.7L154.2,257.4L154.5,253.7L155.2,262.5L155.8,273.2L156,290.4L156.2,280.1L158.2,303.9L158.5,305.4L158.8,305.4L159.8,292.1L160,291.4L162.5,251.6L162.8,253.3L163,259.7L164.2,278.3L164.5,290.7L164.8,285.6L166,302L166.2,312.7L166.5,304.8L166.8,304.1L167.2,300.6L167.5,302L168.2,287.2L169.5,269.1L169.8,266.7L170,274.3L170.2,257.5L170.5,254.7L173.2,294.4L174.2,304.6L174.5,305.4L174.8,305L175,302.9L175.5,296.3L175.8,294.8L176,294.3L176.2,286.3L176.5,284.2L176.8,293.3L177,277.8L177.5,270.6L177.8,277.2L178,263.4L178.5,255.7L181.2,295.4L181.5,296.6L182.2,304.5L182.5,305.5L183.2,299.3L184.5,283.7L186,259.4L186.2,262.9L186.5,254.3L189,292.4L190.5,305.9L192.5,284.3L192.8,279.1L193,281.3L193.2,272.1L194.2,256.1L194.8,257.3L196,276.9L196.2,295.1L196.5,284.8L196.8,287.1L197,298.2L197.2,295.2L197.5,298.7L198.2,303.6L198.5,305L198.8,304.2L199,309.5L199.5,295.5L201.5,270.9L202.2,258.1L202.5,256.8L203.5,273.3L203.8,284.2L204,279.7L205.8,301.1L206.5,304.9L207.2,299.3L207.5,294.4L207.8,304.3L208,288.8L209,274.9L209.2,281.5L209.5,267.7L210.2,257.9L210.5,256.8L212.2,283.2L214,304.3L214.5,303.5L214.8,302L215,307.1L215.2,299.7L215.8,292.9L216.5,284.8L216.8,285.1L217.2,273.1L217.5,281.1L217.8,267.6L218.2,259.5L218.5,259L219.8,278.3L221,293.6L222,303L222.2,308.1L223.2,297.1L223.5,306.3L223.8,291.5L224.8,278.2L226.2,253.1L229.2,295.8L229.5,304.6L229.8,307.1L230,302.9L230.2,304.5L230.8,302.2L232,288.5L233.8,258.9L234,259.9L234.2,249.6L235.8,273.9L236,283.7L236.2,282L237,290.2L237.2,295.8L237.8,299.2L238,303.6L238.2,304.4L238.5,304.4L240,288.1L242.2,252.4L243,266.9L243.5,270.9L245,294.1L245.8,300.2L246,307.6L246.2,304.4L246.8,301.8L247,302.2L247.2,295.3L247.8,290.4L248,292.5L248.2,291.1L248.5,279.2L249,273.4L250.2,251.5L251.5,274L252.5,286.8L252.8,302.4L253,293.5L253.8,302.8L254,303.2L254.2,306L256,288.2L256.5,280.3L256.8,279.2L258,259.3L258.2,264.8L258.5,261.9L258.8,264.2L261.2,298.8L261.5,299.3L261.8,301.9L262.2,304.2L263,298.4L263.8,289.2L264,297.7L264.5,279.7L265,271.3L265.2,279.1L265.5,263.6L266,255.2L266.2,256.9L266.5,257L268.2,285L269.2,295.7L269.8,309.5L270,303.9L270.2,304.3L270.5,303L271.2,295.9L271.5,305.5L271.8,289.9L274.2,255.8L274.5,275.3L274.8,276L275,269.4L275.2,282.3L275.5,276.1L276.5,290.2L276.8,300.5L277,295.7L277.2,296.4L277.8,303.3L278,302.6L278.2,303.3L278.8,300.4L279.5,292.4L282,253.2L282.2,252.7L284.2,285L284.8,291.9L286,304.3L286.2,303.4L287,296.7L287.2,296.1L288,283.6L288.2,282.6L288.5,288L288.8,271.8L289,269L289.2,275L289.5,260.1L290,252.2L290.2,253L290.5,255.6L291.2,269.9L293.2,298.1L294,304.7L294.2,303.8L294.8,299L295.8,287.1L297.5,260.8L297.8,266.5L298,251.5L298.2,252.6L298.8,263.1L300.5,289.2L301.8,302.7L302,303.6L302.5,300.7L302.8,300.3L303.8,287.2L304,285.9L306,254.3L308.5,290.2L308.8,291.6L309.5,301.1L310,304.2L310.5,302L311.5,289.7L311.8,289.5L312.2,280L312.5,286.6L312.8,273.6L313.2,264.9L313.5,263.7L314,253.3L314.2,269.1L314.5,261.3L314.8,263.8L315,279L315.2,272.4L316.2,288L317,294.9L317.2,299.1L318,305L318.2,301.6L318.5,301.6L319,296.6L320.2,282.3L322,255.3L323.5,278.4L325.8,304.8L326,304.4L326.5,299.5L326.8,299.8L327,295.4L327,363.5Z"/></clipPath>
<rect x="43.5" y="224" width="283.5" height="139.5" fill="#7f8081" clip-path="url(#co2)"/>
<path d="M43.9,224h1V363.5h-1ZM50.5,224h1V363.5h-1ZM55.5,224h0.7V363.5h-0.7ZM61.6,224h1.4V363.5h-1.4ZM67.2,224h1V363.5h-1ZM71,224h1V363.5h-1ZM75.4,224h0.8V363.5h-0.8ZM78.3,224h1.2V363.5h-1.2ZM84.8,224h0.8V363.5h-0.8ZM90,224h1.3V363.5h-1.3ZM96.8,224h0.9V363.5h-0.9ZM99.3,224h1.3V363.5h-1.3ZM106.2,224h0.8V363.5h-0.8ZM111.8,224h0.9V363.5h-0.9ZM115.1,224h1.3V363.5h-1.3ZM121.5,224h1.4V363.5h-1.4ZM125.3,224h0.8V363.5h-0.8ZM131.7,224h1.1V363.5h-1.1ZM138.4,224h1.1V363.5h-1.1ZM140.9,224h1.3V363.5h-1.3ZM146.3,224h1.2V363.5h-1.2ZM152.8,224h1.4V363.5h-1.4ZM159.5,224h1.3V363.5h-1.3ZM166.2,224h1.3V363.5h-1.3ZM172.9,224h1.3V363.5h-1.3ZM177.6,224h1.2V363.5h-1.2ZM184,224h0.7V363.5h-0.7ZM187.5,224h1.2V363.5h-1.2ZM194.2,224h1.1V363.5h-1.1ZM201,224h1.1V363.5h-1.1ZM204.5,224h0.9V363.5h-0.9ZM207.3,224h1.1V363.5h-1.1ZM214.8,224h0.9V363.5h-0.9ZM220.2,224h1.3V363.5h-1.3ZM225.5,224h1.2V363.5h-1.2ZM230.2,224h0.7V363.5h-0.7ZM236,224h1V363.5h-1ZM240.6,224h1.4V363.5h-1.4ZM247,224h1V363.5h-1ZM250.2,224h1.3V363.5h-1.3ZM255.3,224h1.4V363.5h-1.4ZM260.5,224h1.4V363.5h-1.4ZM263.1,224h0.8V363.5h-0.8ZM270,224h1.1V363.5h-1.1ZM274.9,224h0.9V363.5h-0.9ZM281.9,224h1.1V363.5h-1.1ZM287.5,224h1.1V363.5h-1.1ZM294.4,224h0.9V363.5h-0.9ZM301.8,224h1.3V363.5h-1.3ZM308.1,224h1.2V363.5h-1.2ZM312.5,224h1.4V363.5h-1.4ZM316.4,224h0.9V363.5h-0.9ZM323.1,224h1.1V363.5h-1.1Z" fill="#a2a5a6" clip-path="url(#co2)"/>
<path d="M43.5,363.5L43.5,327.9L45,300.2L45.2,332L45.5,291.2L46.5,273.2L46.8,287.1L47,267.5L48.2,288.7L48.5,314.2L48.8,302L50.2,325.1L50.5,331L50.8,354.9L51,336.3L51.2,330.6L52.8,308L53.2,297L53.8,291.8L54.2,301L54.5,302.3L54.8,317.7L55,319.7L55.5,300.6L55.8,296.2L56,298.1L56.2,295.1L57.2,312.6L57.5,335.7L57.8,317.8L58.5,334L58.8,335.5L59.2,331.8L60,317.1L60.2,317.4L60.8,307.4L61,332.4L61.2,298.9L61.5,294.8L61.8,293.8L62.8,306.4L63,306L63.5,301.6L63.8,307.2L64,293.5L64.2,295.5L66.8,336.1L67,334.6L68.5,311.2L69,299.9L69.2,300.4L69.5,294.5L70.2,299.7L70.8,316.9L71,304.6L72,294.7L72.5,298.4L73.5,317.2L74.8,334.7L75.2,331.1L75.8,320.5L76,319L76.8,306.9L77,300.1L77.2,299.9L77.5,295.8L77.8,296.2L78,316.9L78.2,302.9L79,305.6L80,293L80.2,299.3L81,309.6L81.2,310.8L81.5,317.1L82,322.6L82.2,345.3L82.5,331L82.8,336.2L84.8,302.3L85.5,292.6L86,300.5L86.2,312.5L86.5,303L86.8,317.6L87,305.9L88,292.8L88.8,302.2L89.2,312.1L89.5,314L89.8,321L90.2,325.7L90.8,334.2L91,328.7L91.2,327.9L91.8,322.2L93,296.9L93.2,296.2L93.5,294.1L94.5,305L94.8,306.1L95.2,303.1L96,293.8L98.5,330L98.8,363.5L99,333.9L100,315L100.2,344.2L100.5,308.2L101.5,293L101.8,299.8L102,299.2L102.2,302.7L102.8,316.1L103,304.9L103.2,300.7L103.5,300.3L103.8,297.7L104,293.1L104.2,301.2L104.5,301.1L104.8,306.6L105.5,315.1L105.8,330.4L106,321.4L106.2,346.3L106.5,331.1L106.8,356.7L107,330.4L107.2,356.3L107.8,318.6L108.2,308.9L108.5,307.1L108.8,306.5L109.2,297.6L109.5,299.1L109.8,298.3L110,311.3L110.2,303.1L110.5,304.9L110.8,304.9L111.2,302.6L112,292.4L113,310.6L113.2,310.5L113.8,321.3L114,346.4L114.2,328.2L114.8,334L115,328L115.2,328.3L115.5,321.6L116.2,312.7L116.5,323.8L116.8,304.8L117,299L117.2,299.4L117.5,294L117.8,297.3L118,311.2L118.2,303L118.5,306.5L118.8,306.1L119.8,294.6L120.2,298.5L121,311.9L121.5,316.1L122,326.6L122.2,327.3L122.5,355L122.8,332.3L124.8,307.6L125.5,294L126,299.1L126.2,307.1L126.5,304.7L126.8,305.5L127,303.8L127.8,295.4L128.2,301L128.5,338.9L128.8,308.6L130.2,329.1L130.5,330L130.8,332.9L131.2,324.5L131.8,319.7L132,326.2L132.2,311.4L133.2,296.5L133.5,294.8L134,300.3L134.2,306.4L134.5,303.9L134.8,305.2L135.2,301.4L135.5,308.2L135.8,295L136,295.9L137.2,314.4L137.5,337L137.8,321.2L138.2,330.5L138.8,333.4L139,328.8L139.2,346.7L139.5,319.6L139.8,318.4L140,314.6L140.2,340.1L140.5,306.1L140.8,302L141,301.9L141.2,297.2L141.5,295.9L142.5,305.3L143.2,300.6L143.5,296.5L143.8,307.5L144,297.5L145,312.7L145.5,316.8L145.8,334.9L146,334.9L146.2,329L146.8,334.5L147,327.1L147.8,320.5L149.2,297.8L149.5,296.3L149.8,298.3L150.2,308.6L151.5,297.4L151.8,296.7L152.5,307.5L152.8,308.6L153,314.4L154,325L154.2,330.7L154.5,331.3L154.8,345.2L155,327.1L157,298.9L157.5,295.7L158,300.5L158.5,308.7L159,301.6L159.8,294.7L160,301.4L160.2,299.5L162,326.7L162.2,327.3L162.5,334.5L162.8,330L163,329.1L163.5,319.1L163.8,317.6L164,310.6L165.2,295.6L165.5,296.1L166,302L166.2,312.7L166.5,304.8L166.8,304.1L167.2,300.6L167.5,302L167.8,296.5L168,296.8L169.8,323.2L170.5,331.7L170.8,331L171,337.2L171.5,319.2L171.8,318.4L173.2,296L173.5,296.5L174.2,304.6L174.5,305.4L174.8,305L175,302.9L175.5,296.3L175.8,296.5L176.5,308.6L178.5,333.1L178.8,332.4L179,325.4L179.2,323.9L179.5,328L179.8,316.1L180,329.8L180.2,309.6L181.2,296.6L181.5,296.6L182.2,304.5L182.5,305.5L183.5,295.9L184,300.6L184.8,312.4L185,314.8L185.5,316.7L185.8,324.1L186,326L186.2,331.7L186.5,332.9L189.2,295.3L190.5,305.9L191.5,295.7L191.8,296.7L192.2,305.5L192.8,308.2L193,314.6L193.8,323.1L194,329.5L194.2,329.2L194.5,333.2L194.8,331.2L196,309.7L196.2,309L196.8,300.5L197.2,295.5L197.5,298.7L198.2,303.6L198.5,305L198.8,304.2L199,314.5L199.5,295.5L200,299.5L200.8,309.5L201,327.4L201.2,317.5L201.5,328.3L201.8,325.6L202.2,331.2L203.5,318.4L205,296.8L205.2,295.5L205.8,301.1L206.5,304.9L207.2,299.3L207.5,294.4L207.8,304.3L208,299.7L208.2,303.9L208.5,304.4L209.2,319L210.2,331L210.5,330.7L211,323.7L211.2,322.5L212.2,305.5L213.2,295.5L214,304.3L214.5,303.5L214.8,302L215,307.1L215.5,296.3L216.8,309.6L217.5,322.1L218,325.5L218.2,330L218.5,330.6L219.8,314.5L220.5,301.5L221,295.5L221.2,295.1L222,303L222.2,308.1L222.8,302.7L223,315.9L223.2,297.1L223.5,306.3L223.8,298.6L224.2,305L224.5,305.1L224.8,310.3L225,332.8L225.2,317.7L225.5,320L225.8,327L226,326.3L226.2,332.7L226.5,352.9L226.8,328.2L227.5,319.8L228,310.5L228.2,340.7L228.5,302.7L228.8,321.8L229,297.8L229.2,295.8L229.5,309.6L230,302.9L230.2,304.5L230.8,302.2L231.2,296.4L231.8,299L232.8,314.6L233.2,318.6L233.5,349.8L233.8,324.3L234.2,331.8L234.5,331.7L235,322.2L237.2,295.8L237.8,299.2L238,303.6L238.2,304.4L238.5,304.4L239.2,296L239.5,321.7L239.8,300L240,307.2L240.2,331.2L240.5,309.7L240.8,310.6L241.2,317.8L241.5,324.6L241.8,325.8L242,329.2L242.2,330L242.5,328.8L243.2,318.7L243.5,317.5L244.5,301L245.2,295.6L245.5,308.1L245.8,300.2L246,307.6L246.2,304.4L246.8,301.8L247,302.2L247.2,295.3L247.5,296.6L247.8,298.6L248,305.8L248.5,307.7L249,316.1L250.2,329.8L250.5,328.8L250.8,323.4L251.2,319.8L251.5,315.5L251.8,326.7L252,309.1L253.2,296.4L253.5,298.3L253.8,318.4L254,303.2L254.2,306L255.2,296.3L255.5,296.7L255.8,301.8L256,301.9L257.5,323.3L258.2,330.8L258.5,327L258.8,338.9L259,323.2L259.2,319L259.5,340.6L259.8,311.2L260.2,303.8L260.5,304.3L261,297.3L261.2,298.8L261.5,299.3L261.8,301.9L262.2,304.2L263.2,296.3L263.5,296.6L264,305.9L264.8,313.1L265,318.7L265.5,322.9L265.8,336.8L266,329.2L266.2,332L266.8,323.2L267.2,319.5L268.5,302.6L268.8,316.2L269,295.2L269.2,295.7L269.5,299.5L269.8,309.5L270,303.9L270.2,309.9L270.5,303L271.2,296.6L271.5,305.5L271.8,297.6L272.8,315.3L273,316.4L274.2,332.8L274.5,327.4L274.8,327.1L275,321.9L275.8,313.2L276,307.2L276.2,327.6L276.5,300.7L276.8,300.5L277,295.7L277.2,296.4L277.8,303.3L278,302.6L278.2,303.3L278.5,302.5L279.2,294.9L282,330.1L282.5,327.3L282.8,322.9L283,321.8L284.5,302.1L284.8,315.2L285,297.1L285.2,297.2L286,304.3L286.5,301.4L286.8,312.8L287,296.7L287.2,296.1L288,303.7L288.2,309.4L288.5,310.2L290,331.2L290.2,330.5L290.8,324.3L291,354.8L291.2,317.6L292.5,301.8L292.8,296.4L293,295.5L294,304.7L294.2,303.8L295,295.9L295.2,294.8L295.5,300.5L295.8,301.2L296,306.6L296.8,313.7L297,319.1L297.2,318.8L297.5,323.8L297.8,323.3L298,329.9L298.2,329.1L298.8,324.7L299.5,311.8L299.8,310.9L300,304.5L300.8,295.5L301,294.5L301.8,302.7L302,303.6L302.5,300.7L302.8,300.3L303.2,294.5L304.5,310.8L304.8,335.6L305,318.3L305.2,319.2L305.5,324.7L306,329.2L306.8,324.5L307,350.7L307.2,318.5L307.8,310.8L308,339.5L308.2,304.8L309,297.1L309.2,297.1L309.5,301.1L310,304.2L310.5,302L310.8,297.6L311,296.4L311.2,300.2L312,306.2L312.2,339L312.5,311.4L312.8,318.8L313,318.7L313.2,322L313.5,344.6L313.8,327L314,332.2L315,319.3L315.2,319.6L315.8,311.3L316,310.9L316.2,304.6L316.8,298.9L317,296.8L318,305L318.2,301.6L318.5,301.6L319,297.1L319.8,304.7L320,311L320.2,310.6L320.5,330.5L320.8,317.1L321,322.3L321.2,322L322,330.4L322.2,328.8L322.5,356L322.8,322.2L323.8,306.9L324,306.7L324.2,304.4L324.5,298.1L324.8,296.8L325,296.2L325.2,298L325.8,304.8L326,304.4L326.5,299.5L326.8,322.8L327,295.4L327,363.5Z" fill="url(#pr)"/>
<rect x="43.5" y="224.0" width="283.5" height="139.5" fill="none" stroke="#262626" stroke-width="1.5"/>
<path d="M43.5,363.5v-3M43.5,224v3M67.1,363.5v-3M67.1,224v3M90.8,363.5v-3M90.8,224v3M114.4,363.5v-3M114.4,224v3M138,363.5v-3M138,224v3M161.6,363.5v-3M161.6,224v3M185.2,363.5v-3M185.2,224v3M208.9,363.5v-3M208.9,224v3M232.5,363.5v-3M232.5,224v3M256.1,363.5v-3M256.1,224v3M279.8,363.5v-3M279.8,224v3M303.4,363.5v-3M303.4,224v3M327,363.5v-3M327,224v3M43.5,363.5h3M327,363.5h-3M43.5,317h3M327,317h-3M43.5,270.5h3M327,270.5h-3M43.5,224h3M327,224h-3" stroke="#262626" stroke-width="1.5" fill="none"/>
<text x="39.5" y="368.8" text-anchor="end" font-size="14.7" fill="#262626">0</text>
<text x="39.5" y="322.3" text-anchor="end" font-size="14.7" fill="#262626">200</text>
<text x="39.5" y="275.8" text-anchor="end" font-size="14.7" fill="#262626">400</text>
<text x="39.5" y="229.3" text-anchor="end" font-size="14.7" fill="#262626">600</text>
<text transform="translate(53.7,379) rotate(-45)" text-anchor="end" font-size="14.5" fill="#262626">0</text>
<text transform="translate(77.3,379) rotate(-45)" text-anchor="end" font-size="14.5" fill="#262626">2</text>
<text transform="translate(101,379) rotate(-45)" text-anchor="end" font-size="14.5" fill="#262626">4</text>
<text transform="translate(124.6,379) rotate(-45)" text-anchor="end" font-size="14.5" fill="#262626">6</text>
<text transform="translate(148.2,379) rotate(-45)" text-anchor="end" font-size="14.5" fill="#262626">8</text>
<text transform="translate(171.8,379) rotate(-45)" text-anchor="end" font-size="14.5" fill="#262626">10</text>
<text transform="translate(195.4,379) rotate(-45)" text-anchor="end" font-size="14.5" fill="#262626">12</text>
<text transform="translate(219.1,379) rotate(-45)" text-anchor="end" font-size="14.5" fill="#262626">14</text>
<text transform="translate(242.7,379) rotate(-45)" text-anchor="end" font-size="14.5" fill="#262626">16</text>
<text transform="translate(266.3,379) rotate(-45)" text-anchor="end" font-size="14.5" fill="#262626">18</text>
<text transform="translate(289.9,379) rotate(-45)" text-anchor="end" font-size="14.5" fill="#262626">20</text>
<text transform="translate(313.6,379) rotate(-45)" text-anchor="end" font-size="14.5" fill="#262626">22</text>
<text transform="translate(337.2,379) rotate(-45)" text-anchor="end" font-size="14.5" fill="#262626">24</text>
<text x="186.2" y="217.2" text-anchor="middle" font-size="16.3" font-style="italic" fill="#000">Tout=-10°C</text>
<text x="185.2" y="407.5" text-anchor="middle" font-size="15.9" fill="#262626">Time/h</text>
<text transform="translate(11.7,294.6) rotate(-90)" text-anchor="middle" font-size="15.8" fill="#262626">Number of TCLs</text>
<rect x="219.8" y="235.5" width="33" height="12.4" fill="#e8282d"/>
<rect x="219.8" y="252.9" width="33" height="11.8" fill="#000"/>
<text x="255.3" y="247.3" font-size="14.1" fill="#000">Switch on</text>
<text x="255.3" y="264.1" font-size="14.1" fill="#000">Switch off</text>
<path d="M393.5,363.5L393.5,277.6L393.8,278L394,274.6L394.2,275.5L394.5,299.2L394.8,278.1L395.5,285.3L395.8,302.3L396,289.5L396.8,294.8L397,309.5L397.2,298.3L397.5,313.4L397.8,300.7L398.5,301.6L399,298.1L399.2,298.6L399.8,293.8L400,293.5L400.2,291.1L400.5,291.2L401,282.8L401.2,282.5L401.5,280.9L402.2,274.5L402.5,284L402.8,275.7L403,281.5L403.2,278.6L404,290.6L404.5,291.6L404.8,293L405.2,298.4L405.5,299.4L405.8,297.5L406,301L406.2,299.9L406.5,300.9L406.8,298.6L407.2,298.7L407.5,297.5L407.8,293.5L408,292.6L408.2,304.9L408.5,287L408.8,295.9L409,282.9L409.2,281.7L409.8,320.2L410,272.9L410.2,267.4L410.5,265.9L411,274.1L411.5,277.3L412,284.5L412.5,288.7L412.8,324.1L413,292.6L413.2,294.4L413.5,336L413.8,299.2L414,315.9L414.2,298.7L414.5,302.3L414.8,301.9L415.2,298.4L415.5,297.9L415.8,295.2L416,296.4L416.8,289.3L417,308.5L417.2,286.9L417.5,283.7L417.8,315.6L418.2,279.6L418.5,276.5L419.8,286.7L420,324.2L420.2,289.7L420.8,293.7L421,294L421.2,297.8L421.5,296.1L421.8,338.6L422,298.3L422.5,299.2L422.8,300.6L423.2,299.3L423.5,299.5L423.8,323.7L424,297.3L424.5,296.7L425,294.6L425.2,323.8L425.5,293.8L426,290L426.2,329.8L426.5,289.8L426.8,287.6L427.2,289.1L427.8,317.9L428,293.7L428.2,336.4L428.5,295L429,297.6L429.2,343.2L429.5,299.2L429.8,329.4L430,298.4L430.2,299.9L430.5,318.4L430.8,301.7L431,299.9L431.2,302.3L431.8,298.6L432,300.3L432.2,296.4L432.5,296.6L432.8,292.3L433,293.6L433.8,287.5L434,288.1L434.2,285.8L434.8,285L435,283.1L435.2,328L435.5,287.2L435.8,289.1L436,289.3L436.5,292.7L436.8,290.7L437,295.1L437.2,294.8L437.5,298.5L437.8,314.6L438,299.5L438.5,301.1L438.8,329.6L439,302L439.2,302.2L439.5,300.8L439.8,301.2L440.2,299.1L440.5,327.4L440.8,296.9L441.2,295.4L441.5,295.2L441.8,295.7L442,310.1L442.2,290.1L442.5,289.7L443,286.6L443.8,291.8L444,290.7L444.5,292.2L444.8,296.2L445.2,293.8L445.5,296.8L445.8,297.6L446,331.8L446.2,301.9L446.5,299.3L446.8,299.7L447.2,301.9L447.5,334.7L447.8,300.1L448,298.8L448.2,299.4L448.5,298.6L448.8,298.3L449,298.4L449.2,298.1L449.5,314.8L449.8,295.7L450,308.2L450.2,291.1L450.8,293.4L451,290.3L451.2,290.4L451.5,289.3L451.8,291.9L452,291.9L452.5,294.5L452.8,298.1L453,295.4L453.2,295.2L453.5,298.6L453.8,296.8L454,300.8L454.2,330L454.5,299.9L454.8,299.4L455,299.9L455.2,336.8L455.5,334.2L455.8,302.2L456,301L456.2,318.1L456.5,301.6L457,297.9L457.2,319.7L457.5,294.9L457.8,310.9L458,294.3L458.2,297.2L458.8,290.7L459,318.3L459.2,289.2L459.5,292.5L459.8,336.5L460,326.5L460.2,338.6L460.5,294.1L460.8,293.8L461,295.4L461.2,332.6L461.5,298.1L461.8,299.6L462,299.7L462.2,301.8L462.5,302.2L462.8,299.8L463.2,300.4L463.5,301.9L463.8,338.4L464,323.5L464.2,339.1L464.5,298.6L464.8,297.1L465,297.6L465.2,335L465.5,298L465.8,324.7L466,294.4L466.2,294.2L467,287.4L467.2,289.1L467.5,332.5L467.8,290L468,290.7L468.2,304.6L468.5,292.2L469,294.9L469.2,294.6L469.5,298.4L469.8,297.2L470,297.1L470.2,299.4L470.5,299.6L471,342.6L471.2,303L471.5,300.5L471.8,300.8L472,304.2L472.2,299.9L472.5,312.4L472.8,296.7L473,320.6L473.2,299.6L473.5,296.3L473.8,297.5L474.2,293.6L474.5,293.7L474.8,292.7L475,294.9L475.2,293.1L475.5,303.7L475.8,289.7L476.5,292.8L476.8,318.4L477,294.2L477.2,294.7L477.5,333L478,296.5L478.2,300.2L478.5,300.4L478.8,299.9L479,300.9L479.2,345.9L479.5,301.5L479.8,301.6L480.2,299.4L480.5,302.1L480.8,346.2L481,340.1L481.2,299L481.5,337.2L481.8,336.3L482,296.2L482.2,297.2L482.5,294.8L482.8,310.1L483,294.2L483.2,294.3L483.5,290.9L483.8,290.1L484,293.5L484.2,292.8L484.5,290.3L484.8,296L485,296.4L485.2,295.7L485.5,298.7L485.8,297.3L486,297.2L486.5,299.6L487,300.5L487.2,300.5L487.8,301.8L488,299.2L488.5,303.5L488.8,300.4L489.2,298.1L489.5,299.8L489.8,299.4L490.2,296.2L490.5,296L490.8,296.7L491,294.5L491.2,337.7L491.5,295.6L492,292.9L492.2,333.8L492.5,338.4L492.8,295.9L493,296L493.2,297.8L493.5,296.1L493.8,297.8L494,296.8L494.5,299.7L494.8,299L495,301.1L495.2,301.1L495.5,301.5L495.8,317.3L496,302.8L496.2,300.4L496.5,301L496.8,327.9L497,300.7L497.5,296.9L497.8,297.2L498,295L498.5,293.5L498.8,293.4L499,288.5L499.2,290.5L499.5,288L500,287.3L500.2,287.6L500.5,286.7L500.8,291L501,289.8L501.5,294.2L501.8,294.3L502,337L502.2,296.9L502.5,341.9L503,300.3L503.2,329.2L503.5,300L503.8,299.9L504,301.8L504.2,334.5L504.5,301.8L504.8,299.6L505,300.7L505.2,298.8L505.5,298.7L505.8,299.9L506,296.9L506.2,298.6L507.2,291.4L507.5,292.7L507.8,290.4L508,309.7L508.2,291.8L508.5,291.1L508.8,332.7L509,293.7L509.2,295L509.5,294.1L510,296.3L510.2,318.2L510.5,300.1L510.8,301.3L511,330.6L511.2,300.9L511.5,300.2L511.8,300.8L512,299.9L512.2,302.5L512.5,302.9L513.2,299.1L513.5,299.5L513.8,316.7L514,296L514.2,297.6L514.5,293.6L515.2,290.1L515.5,287.3L515.8,324.2L516.2,283.8L516.5,286.9L516.8,286.4L517,288.9L517.5,290.8L517.8,293.6L518,294.1L518.2,293.9L518.5,297.1L518.8,297.5L519,297.1L519.2,299.8L519.5,340.3L519.8,302L520,302.1L520.2,300.5L520.5,300.4L520.8,301.5L521.2,298.3L521.5,309.2L521.8,296.7L522,295.6L522.2,295.3L522.5,292.8L522.8,292.9L523,290.4L523.2,290.5L523.8,285.9L524,286.2L524.2,284.3L524.8,284.3L525,325.9L525.2,288L525.8,290.3L526,293.5L526.2,326.1L526.5,336.4L526.8,294.1L527,340.1L527.2,299.4L527.5,345.8L527.8,298.7L528,302.1L528.2,301.6L528.5,302.4L528.8,301.3L529,297.8L529.2,312.6L529.5,301.4L529.8,301.6L530,298.9L530.2,298.6L530.5,296.3L530.8,295.1L531,295L531.2,293L531.5,292.4L531.8,292.4L532,290.9L532.2,291.8L532.5,287.4L533,292.3L533.5,293.8L533.8,293.9L534.2,298.8L534.8,298.7L535,299.7L535.2,296.8L536,301.8L536.2,301.5L536.5,300.7L536.8,298.5L537,302.1L537.8,297.7L538,297.2L538.2,297.5L538.5,335.1L538.8,294.4L539.5,290.9L539.8,290.8L540.5,284.7L541,286.6L541.5,290.1L541.8,311.2L542,293.6L542.2,295L542.5,292.4L543.2,298.4L543.5,298.4L543.8,300.1L544,299.6L544.2,300.9L544.5,301L544.8,301.7L545,300.2L545.2,301.7L545.5,302.2L545.8,301.2L546,301.2L546.2,326.2L546.5,298.1L546.8,297.4L547,297.5L547.2,294.5L547.5,295L548,292.9L548.2,293L548.5,289.1L549,292.2L549.2,292L549.5,292.9L550,296.9L550.2,294.5L550.5,294.9L550.8,297.8L551,298.4L551.2,297.1L551.8,301.1L552,301.9L552.2,301.4L552.5,301.8L552.8,334.3L553,300.5L553.2,301.9L553.5,318.3L553.8,319.3L554,297.9L554.2,325.7L554.5,296.9L554.8,296.1L555,295.9L555.2,293.7L555.5,293.4L555.8,321.3L556,289L556.2,284.6L556.5,287.4L557,284.2L557.2,286.8L557.5,287L557.8,314.1L558,289.6L558.5,292.5L558.8,321.6L559,295.3L559.2,295.1L559.5,298.1L559.8,297.7L560,300.2L560.2,298.2L560.5,301.5L560.8,301.5L561,302.6L561.2,301.6L561.5,301.8L561.8,301.4L562,298.1L562.2,300L562.5,308.8L562.8,296.4L563,295.2L563.2,295.8L563.5,291.9L563.8,295.2L564,321L564.2,291.1L564.5,330.3L564.8,286.1L565,285.3L565.2,289.3L565.5,288.8L565.8,288.8L566,290.9L566.2,319.8L566.5,295.3L566.8,292.9L567,298.5L567.2,298.9L567.5,297.2L568,300.6L568.2,299.2L568.5,301.2L568.8,300.5L569,300.5L569.5,304.1L570.2,300L570.5,299.4L570.8,300.5L571.2,298.1L571.5,297.9L571.8,295.5L572,295.4L572.2,295.8L572.5,315L572.8,294.9L573,331L573.2,293.9L573.5,291.4L574,295L574.8,296.8L575,298.4L575.2,295.2L575.8,301.2L576,301.1L576.2,301.7L576.5,300.6L576.8,301.9L577,301L577.2,300.9L577.5,336.3L577.8,301.2L578,300.3L578.2,300.5L578.5,299.8L578.8,296.8L579,298L579.5,295.6L579.8,295.8L580,295.5L580.8,291.1L581.2,320.9L581.5,290.4L581.8,292.1L582,307.5L582.2,293.3L582.5,292.3L583.2,297.4L583.5,296.3L583.8,296.8L584,301.2L584.2,299.3L584.5,302L584.8,299.9L585.2,301.6L585.5,300.7L585.8,326.3L586,302.4L586.8,298.1L587,298.1L587.5,330.8L587.8,295.2L588,294.2L588.5,295L589,290.6L589.2,307.2L589.5,288.3L589.8,290.8L590,291L590.2,292.6L590.5,317L590.8,296.8L591,295.1L591.2,296.8L591.8,325.4L592,295.9L592.2,301L592.5,299.5L592.8,302.9L593,302.3L593.2,318.4L593.5,301.9L593.8,302.1L594.2,340.8L594.5,302.2L594.8,301.9L595,299.3L596,295L596.2,291.6L596.5,293.6L596.8,328.3L597,293.1L597.2,289.9L597.5,290.4L597.8,289.7L598,287.6L598.2,288.5L598.5,292.7L599,292.3L599.5,297.2L599.8,295.8L600,315.9L600.2,298.7L600.5,300.8L600.8,299.1L601,301.6L601.2,323.1L601.5,301.1L602,303.5L602.5,297.7L602.8,298.1L603,299.5L603.2,297.2L603.5,298L603.8,295.8L604,295.7L604.2,294L604.5,291L604.8,290.8L605,289.5L605.2,290.6L605.8,285.2L606.8,290L607.2,295.2L607.5,294.3L607.8,342L608,296.7L609,300L609.2,302.5L609.8,300.5L610.2,301.9L610.5,301.4L610.8,302.1L611,299.1L611.2,301.3L611.5,299.1L611.8,343.9L612,296.8L612.2,298.4L613,295.3L613.2,295.4L613.5,296.4L613.8,293.5L614,293.3L614.2,292.2L614.8,297.4L615,293.9L615.2,296.4L615.5,296.5L615.8,297.6L616,300.6L616.2,299L616.5,341.8L616.8,301.6L617,300.2L617.2,299.7L618,301.6L618.2,301.2L618.5,302.2L618.8,301.8L619.5,298.7L619.8,295.9L620,297.2L620.2,339.5L620.5,296.1L620.8,294.2L621,295.2L621.2,292.5L621.5,312.5L621.8,289L622,288.6L622.2,298.2L622.5,289.9L623,294.6L623.2,304.2L623.5,294.4L623.8,297.7L624,298.4L624.2,297.2L624.5,332.2L625,298L625.2,314.2L625.5,302.1L625.8,300.3L626,301.9L626.2,321.7L626.5,301L626.8,323.5L627,298.7L627.2,298.4L627.5,295.1L627.8,295.3L628,294.8L629.2,286.4L629.5,286.9L629.8,308.6L630,285.6L630.2,281.1L631,288.3L631.2,316.7L631.5,290.1L631.8,309L632,293.3L632.2,293.9L632.8,298.5L633.2,301.1L633.5,301.1L633.8,302.4L634.2,298.9L634.5,329.4L634.8,302.5L635,300.7L635.2,300.7L635.5,328.9L635.8,335.6L636,297.9L636.2,296.3L636.5,298.9L636.8,324.2L637,328.3L637.2,295.6L638.2,289.3L638.5,291.2L638.8,290.8L639,330.2L639.2,296L639.5,295.8L639.8,297.5L640,297L640.2,297.2L640.8,299.1L641,298.4L641.2,300.8L641.5,300.7L641.8,299.8L642.2,302.7L642.5,301.1L642.8,300.9L643,300.2L643.5,301.3L643.8,299.3L644,332.6L644.2,324.8L644.5,299.3L645,294.9L645.2,294.8L645.5,293.9L645.8,293.8L646,293.3L646.5,289.2L646.8,289.8L647,293.8L647.2,291.8L647.5,293.5L647.8,298.3L648,296.8L648.5,297.4L648.8,296.1L649.2,300.8L649.5,300.7L650,303.5L650.2,300.4L650.5,301.7L650.8,299.9L651,301.7L651.5,299.2L651.8,299.6L652.2,298.2L652.5,298.8L653,294.4L653.2,342.6L653.5,295.3L653.8,291.3L654,291.6L654.2,288.7L654.5,289.3L654.8,287.2L655.5,294.8L656,294L656.2,294.1L656.5,315.9L656.8,298.5L657,299.8L657.2,309.2L657.5,298.2L657.8,299.3L658,315.9L658.2,301.4L658.5,300.7L658.8,304.1L659.5,299L659.8,334.1L660,300.1L660.2,315.2L660.5,298.5L660.8,296.9L661,296.4L661.2,308.8L661.5,295.7L661.8,293.2L662,328.3L662.2,292.6L662.8,290.8L663,292.6L663.5,294.2L663.8,293.9L664.2,297.9L664.5,296.6L664.8,297.2L665,300.8L665.2,301L665.5,339L665.8,300.7L666,299.9L666.2,329.8L666.5,302L666.8,326.4L667,302.1L667.2,299.6L667.5,302.1L668,298.1L668.2,301.2L668.5,328.1L668.8,296.9L669,296.5L669.5,293.6L669.8,295.1L670,291.4L670.2,290.2L670.5,290L671,286.7L671.2,288.9L671.5,336.9L671.8,290.4L672,290.9L672.2,328.3L672.5,295.8L673,297.4L673.2,318.8L673.5,297.4L674,300.9L674.2,300.5L674.5,302.2L674.8,300.9L675,303.6L675.5,301.3L675.8,302.3L676,297.6L676.2,299.2L676.5,299.4L676.5,363.5Z" fill="#ec7477"/>
<clipPath id="co3"><path d="M393.5,363.5L393.5,288.1L393.8,288.6L394,285.9L394.2,288.2L394.8,284.7L395,286.7L395.2,282.5L395.5,284.9L395.8,279.3L396,280.9L396.5,278.3L396.8,280.7L397,277.2L397.2,278.8L397.8,274.1L398,273.9L398.2,276.4L398.5,270.6L398.8,277.4L399,274.9L399.2,278.6L399.5,279.5L399.8,277.4L400,281.9L400.5,284.7L400.8,284L401,288.8L401.2,288.2L401.5,290.2L401.8,286.5L402.2,291.8L402.5,297.2L402.8,293.8L403,294.1L403.2,292.8L403.5,289L403.8,290.6L404.5,283.6L404.8,283.3L405,283.7L405.5,278.4L405.8,281.7L406.2,271.7L406.5,270.6L406.8,272.4L407,265.9L407.8,274.3L408,276.1L408.2,276.1L408.8,283.7L409,284.8L409.2,283.8L409.5,287.9L409.8,288.3L410,287.8L410.5,297.4L410.8,293.5L411,292.2L411.2,294.2L411.5,294.1L411.8,295L412,288.1L412.2,288.8L412.5,285.9L413,295.7L413.2,284.2L414.8,274.1L415,275.2L415.2,274L415.5,278.2L415.8,278.8L416,281.6L416.2,279.7L416.5,283.4L416.8,283.1L417,287.3L417.2,286.4L417.5,286.8L417.8,288.9L418,297.8L418.2,290.9L418.8,293.3L419,299.9L419.2,292L419.5,292.6L420,290.1L420.2,291.1L420.5,290L420.8,288.6L421,282.9L421.5,285.2L421.8,291.9L422,280.1L422.2,280.7L422.8,273.3L423,273.8L423.2,272.3L423.5,272.4L423.8,273.5L424,280L424.2,279.8L424.5,281.2L424.8,280.7L425,285.4L425.5,288L425.8,286.5L426.2,291.5L426.5,292.4L426.8,292.3L427.2,295.1L427.8,293.3L428,293.3L428.2,292L428.8,291.7L429,289.5L429.2,288.8L429.5,291.6L429.8,287.8L430.2,288.3L430.5,285.1L430.8,285.1L431,284.1L431.2,285L431.5,282L432.2,292.2L432.8,286.7L433,289.9L433.2,291L434,293.1L434.2,291.8L434.5,292.9L434.8,299.8L435,293.1L435.2,295.8L435.5,293L435.8,294.1L436,293.4L436.2,291.1L436.5,295.3L436.8,293.6L437,287.3L437.2,289.7L437.5,290.1L437.8,291.5L438,288.6L438.2,290.1L438.5,289.9L438.8,290.4L439,287L439.2,287.5L439.5,290.6L439.8,289L440,295.9L440.2,288.1L440.5,291.1L441,289.7L441.5,292.9L441.8,292.1L442,293.8L442.2,290.2L442.5,291.3L442.8,295.4L443,294.9L443.2,290.3L443.5,298.3L443.8,294.1L444,297.5L444.2,292.4L444.5,291.4L444.8,292.6L445,289.2L445.5,292.1L445.8,289.8L446,289.6L446.2,287.8L446.8,286.7L447,293.2L447.2,284.9L447.5,285.1L447.8,281.9L448,286.7L448.2,286.2L448.8,288.7L449,287.5L449.5,289.1L449.8,287.9L450,291.5L450.2,290.6L450.5,291.7L450.8,291.9L451,294.6L451.2,294.9L451.5,292.4L451.8,295.4L452,292L452.2,291.2L452.5,293.9L452.8,292.4L453,292.3L453.5,289L453.8,290.6L454.2,289.3L454.5,298.7L455,288.9L455.2,290.5L455.5,290.1L455.8,297.1L456,289.8L456.2,289.7L456.5,289.3L456.8,291.9L457.2,290.8L457.5,291.5L457.8,291.1L458,293.4L458.2,294.1L458.5,301.3L458.8,295L459,294.1L459.2,295.7L459.8,292.7L460,294.4L460.2,292L460.5,291.7L460.8,292.1L461.2,289.6L461.5,292.1L461.8,287.1L462,297.9L462.2,287.4L462.5,287.9L463,285L463.2,285L463.8,282.7L464,283.8L464.2,283.2L464.8,289.9L465.2,286.3L465.5,288.2L465.8,286.2L466,290.3L466.2,288L466.8,293.3L467,289.8L467.2,290.9L467.5,290.5L467.8,293.9L468.2,291.2L468.5,292.8L468.8,288.7L469,292.7L469.2,290.6L469.5,292.8L470.8,288.4L471,291.6L471.2,287.8L471.5,288.2L471.8,289.3L472.2,285.6L472.5,286.4L472.8,289.8L473,289L473.2,289.4L473.5,287.4L474,291.4L474.2,290.9L474.5,294.8L474.8,291.7L475,290.9L475.2,292.1L475.5,295.6L475.8,290L476,292.9L476.2,302.3L476.5,299.9L476.8,291.8L477,292.7L477.2,292.1L477.5,290.5L477.8,292.3L478,289.1L478.2,290.8L478.8,286.6L479,291.2L479.2,285.4L479.5,286.2L479.8,286L480,282.6L480.5,285.6L480.8,285.9L481,286.9L481.2,285.6L481.5,286.5L481.8,286L482,290.3L482.2,289.4L482.5,290.3L482.8,293.7L483,291.5L483.2,291.2L483.8,294.8L484,290.3L484.2,295.7L484.5,291.3L484.8,292.4L485,291.6L485.2,292.2L485.5,292.1L485.8,296.6L486,286.4L486.2,289.2L486.5,285.4L486.8,286.1L487,283.9L487.2,284.2L487.5,283.8L487.8,283.8L488,282.9L488.2,279.6L488.5,280.4L489,284.7L489.2,284.7L489.5,284.1L489.8,284.5L490.2,287.6L490.5,287.6L490.8,291.3L491,288.2L491.5,293.1L491.8,294L492,298.9L492.2,297.4L492.5,292.6L492.8,294.2L493,291.1L493.2,291.3L493.5,293L493.8,297.8L494,289.9L494.8,282L495,283.8L495.2,282.5L495.5,282.8L495.8,278.9L496,280.3L496.5,277L496.8,277.3L497,279.5L497.2,284.4L497.5,282L497.8,292.3L498,284.4L498.2,284.2L498.8,292L499,288L499.2,292.4L499.5,289.3L500.2,294.5L500.5,293.3L500.8,297.7L501,294.2L501.5,293.2L502.2,288.7L502.8,289L503,287.6L503.2,288.1L503.5,284.7L503.8,286.5L504.2,283.3L504.5,292.3L504.8,282.3L505,282L505.2,283.9L506.2,288.2L506.5,290.5L506.8,289.2L507,289.2L507.2,288.4L507.5,292.2L507.8,291.8L508,292.2L508.2,293.8L508.5,294.3L508.8,294.2L509,293.4L509.2,290.1L509.5,293.7L510,291.3L510.5,286.4L510.8,287.3L511,283.5L511.2,284.9L511.5,280.1L512,281.2L512.2,280L512.5,275.4L512.8,275.4L513.2,280.7L513.5,278.8L514,283.1L514.2,282.6L514.8,284.8L515.2,291.7L515.5,289.5L515.8,291.7L516,296.4L516.5,291.7L516.8,293.9L517.5,289.9L518,292.8L518.2,288.3L518.5,289.3L518.8,287.2L519,287.8L519.2,287.6L519.5,288.2L519.8,290.7L520,283.4L520.2,284.3L520.5,283.3L520.8,289.5L521,282L521.2,288.4L521.5,285.9L521.8,285.2L522,285.4L522.2,288L522.5,286.1L523,291L523.2,291.2L523.5,290.9L523.8,289.8L524,291.9L524.2,290.4L524.8,294.8L525,294.8L525.2,291L525.5,293.9L526,293L526.2,292.9L526.5,289.3L526.8,288.4L527,290.4L527.2,285.8L527.5,286L528,287.7L528.8,282L529,282.8L529.5,280.6L529.8,286L530,286.7L530.2,284.9L530.8,290.9L531,289.9L531.2,294.9L531.5,290L532,293L532.5,291.3L532.8,297.9L533.5,293.2L533.8,291.9L534,291.5L534.2,288.6L534.5,290.2L534.8,294.9L535,289.8L535.2,290.7L535.8,285.1L536,286.6L536.2,282.7L536.5,284.8L536.8,281L537,281.1L537.2,278.4L537.5,281.5L538.2,286.6L538.5,286.8L538.8,288.3L539,297.6L539.2,287L540,290.3L540.2,299.4L540.8,292.3L541,292.9L541.2,293L541.5,292.2L541.8,297.5L542.2,290.8L542.5,290.3L542.8,288.2L543,288.7L543.2,288.6L543.5,287.9L543.8,288.5L544.2,284.4L544.5,287.5L545,281.9L545.2,287.2L545.8,283.3L546.5,286.1L546.8,289.3L547,284.4L547.2,290L547.5,290.7L547.8,289.4L548.2,291.6L548.5,292L548.8,291.9L549,292.7L549.2,294.8L549.8,292.7L550,292.3L550.2,292.4L550.5,293.3L550.8,296.8L551,289.9L551.2,289.8L551.5,292L552,286.3L552.2,287.2L552.5,296.5L552.8,286.1L553,286L553.2,293.1L553.5,292.8L553.8,285.3L554,292.8L554.2,284.6L554.8,290.8L555,289.3L555.2,289.8L555.5,293.9L556,289.9L556.2,292L556.5,291.8L557,293.2L557.5,295.6L557.8,295.9L558.2,291.4L558.8,289.6L559,291L559.2,291.4L559.5,287.4L560,287.3L560.2,286.6L560.5,295.4L560.8,283.8L561,287.1L561.5,281.9L561.8,283.3L562,281.9L563,290.4L563.2,286.3L563.5,288.6L563.8,288.6L564,291.9L564.2,292.4L564.5,290.8L564.8,292.9L565,292.8L565.2,291.1L565.5,293L566,292.6L566.2,293L566.5,290.6L566.8,290.6L567,286.6L567.5,290.5L567.8,287.6L568,287.4L568.2,283L568.8,284.5L569.2,278.9L569.5,278L570,279.6L570.2,282.7L570.5,282.6L570.8,283.4L571,285.5L571.2,285.1L571.5,288L571.8,286.1L572,289.5L572.5,292L573,291.6L573.5,294.5L573.8,293.7L574,294.9L574.5,290.9L575,290.3L575.2,289.4L575.5,286.6L575.8,285.7L576,286.8L577,278.2L577.2,274.5L577.5,276.3L577.8,271L578,274.4L578.2,275L578.5,277.5L578.8,278.3L579,282.2L579.2,279.6L580,289.1L580.2,287.4L580.5,289.4L580.8,288.7L581.5,294.9L581.8,291.8L582,294.2L582.2,291.6L582.5,290.8L582.8,297L583,292.1L583.8,288L584,284.8L584.5,282.3L584.8,286.6L585,280L585.2,278.5L585.8,277.1L586,274L586.2,283.1L586.5,280.8L586.8,282.7L587,280.7L587.8,287.2L588,286.2L588.2,286.3L588.8,291.3L589,291.1L589.2,291.6L589.5,293.9L589.8,301.8L590.2,290.8L590.5,290.7L590.8,292L591.5,287.4L591.8,286.8L592,287.9L592.8,282.1L593,281L593.5,280.3L593.8,275.8L594,277.9L594.2,277.1L594.8,279.3L595,279.4L595.5,287.8L595.8,284.5L596,284.9L597,290.9L597.2,288.8L597.8,295.7L598,294L598.2,301.1L598.5,295L598.8,293.7L599,293.9L599.2,294.7L599.5,293.5L599.8,294.1L600,289.9L600.2,291.9L600.8,287.1L601.2,288.8L601.5,286.3L601.8,286.5L602,285.4L602.2,287.1L602.5,285.4L603.2,290L603.5,289.7L603.8,291.1L604,290.3L604.2,290.9L604.5,292.7L604.8,290.3L605,291.4L605.2,294.9L605.5,291.3L606,296.1L606.8,291.3L607,293.5L607.2,291.6L607.5,290.9L607.8,288.5L608.2,288L609,285.5L609.5,284.9L609.8,281L610,281.8L610.2,280.6L610.5,281.5L610.8,281.7L611,284.1L611.2,283.7L611.5,285.6L611.8,292.3L612.2,286.2L612.8,291.2L613,289.8L613.2,291.8L613.5,291.5L613.8,293L614,293.1L614.2,297.5L614.5,294.4L614.8,294.2L615,292L615.5,290.4L615.8,291.2L617,285.5L617.2,288.9L617.5,283.5L617.8,284.7L618,282.5L618.8,280L619,284.2L619.2,283.9L619.5,284.7L619.8,284.8L620.2,289.1L620.8,289.4L621,294.5L621.2,294L621.5,289.4L622,292.6L622.2,292.3L622.8,293.8L623,293.4L623.2,289.6L623.8,291.1L624,287.5L624.2,289.1L624.5,296.4L624.8,285.3L626,280.5L626.5,274.6L626.8,277.3L627,276.8L627.2,278L627.5,282.1L627.8,280.5L628.5,286.6L628.8,286L629,287.5L629.5,293.4L629.8,289.5L630,295.7L630.2,293.1L630.5,297.1L630.8,294.6L631,294.2L631.8,290.1L632,291.3L632.2,287.8L632.5,287L632.8,287.9L633,285L633.2,285.4L633.5,282.8L633.8,283.4L634.2,277.3L634.5,278.4L634.8,276L635,275.1L635.2,275.4L635.5,281.9L635.8,282.2L636,286L636.2,286.4L636.5,283.1L636.8,287.2L637,288.4L637.2,297.8L637.5,288.4L638,300.6L638.2,293L638.5,294.4L639,291.8L639.2,294.1L639.8,290.1L640.2,292.1L640.5,288.9L641,285.9L641.2,287.3L641.8,283.6L642,287L642.5,279.7L642.8,282.4L643,279.3L643.8,287.7L644,286.3L644.2,288.1L644.5,284.8L644.8,291.3L645,287.7L645.2,290.2L645.5,289.3L645.8,293.5L646,291.8L646.2,294.1L646.5,292.4L646.8,291.9L647,293.5L647.2,293.7L647.5,292L647.8,291.7L648.2,294L648.5,290.8L648.8,292.4L649.2,284L649.5,284.3L649.8,286.2L650.2,281.1L650.8,283.7L651.2,279L652.8,287.6L653,287.6L653.2,288.3L653.5,291.3L653.8,287.9L654,290.7L654.2,290.9L654.5,293.9L654.8,293.5L655.2,295.5L655.5,294.4L655.8,289.7L656,291.8L656.2,290.6L656.5,290.7L656.8,289.9L657,297.9L657.2,287.9L657.5,288.9L657.8,286.3L658,287.9L658.8,282.6L659,283.8L659.2,281.7L659.8,282.8L660.5,286.8L660.8,289.2L661,287.8L661.2,289.9L661.5,289.8L661.8,288.6L663,295.5L663.5,291.7L664,294.1L664.2,291L664.5,293.1L664.8,292.3L665,289.2L665.2,289L665.5,287L665.8,290L666,287.3L666.2,286.7L666.5,293L666.8,285.5L667,287.3L667.2,283.9L667.5,285.7L667.8,285L668,287.3L668.2,285.7L669.2,290.6L669.5,288.9L670,291.5L670.5,292.8L670.8,293L671.5,296.8L671.8,295.6L672,291.8L672.2,293.6L672.8,289.2L673,290.1L673.2,294.2L673.5,289L673.8,286.7L674,288.2L674.5,282.5L674.8,283.5L675.2,282L675.5,282.4L675.8,284.9L676,282.9L676.2,283.8L676.5,287.9L676.5,363.5Z"/></clipPath>
<rect x="393.5" y="224" width="283" height="139.5" fill="#7f8081" clip-path="url(#co3)"/>
<path d="M394.7,224h0.9V363.5h-0.9ZM400.8,224h1.1V363.5h-1.1ZM407.8,224h0.8V363.5h-0.8ZM414.4,224h1V363.5h-1ZM421.9,224h1.1V363.5h-1.1ZM426.2,224h1.1V363.5h-1.1ZM433.6,224h0.8V363.5h-0.8ZM437.7,224h1.1V363.5h-1.1ZM442.1,224h1.3V363.5h-1.3ZM447.6,224h1.1V363.5h-1.1ZM451.9,224h1V363.5h-1ZM455.2,224h1.3V363.5h-1.3ZM458.4,224h1.1V363.5h-1.1ZM461.7,224h1.1V363.5h-1.1ZM465.7,224h1.3V363.5h-1.3ZM471.3,224h1.4V363.5h-1.4ZM477.1,224h1.2V363.5h-1.2ZM482.8,224h0.7V363.5h-0.7ZM485.8,224h1V363.5h-1ZM491.6,224h1.3V363.5h-1.3ZM498.1,224h1V363.5h-1ZM503.3,224h0.8V363.5h-0.8ZM509.9,224h1.3V363.5h-1.3ZM515.1,224h1.3V363.5h-1.3ZM519,224h1.4V363.5h-1.4ZM524.5,224h1.2V363.5h-1.2ZM528.9,224h0.8V363.5h-0.8ZM535.3,224h1.1V363.5h-1.1ZM539.3,224h0.9V363.5h-0.9ZM542.4,224h1.2V363.5h-1.2ZM545.5,224h0.7V363.5h-0.7ZM552.5,224h1.2V363.5h-1.2ZM558,224h0.9V363.5h-0.9ZM563.6,224h1.1V363.5h-1.1ZM569.4,224h0.8V363.5h-0.8ZM575,224h0.7V363.5h-0.7ZM578.3,224h0.8V363.5h-0.8ZM584.1,224h1.3V363.5h-1.3ZM588.6,224h1V363.5h-1ZM593.8,224h1V363.5h-1ZM600.3,224h1.2V363.5h-1.2ZM605.7,224h1.3V363.5h-1.3ZM610,224h1.4V363.5h-1.4ZM616.7,224h0.8V363.5h-0.8ZM622.7,224h1.4V363.5h-1.4ZM629.4,224h1.2V363.5h-1.2ZM634.4,224h1.1V363.5h-1.1ZM637.4,224h0.9V363.5h-0.9ZM641.6,224h1.4V363.5h-1.4ZM646.6,224h1.1V363.5h-1.1ZM653.4,224h0.8V363.5h-0.8ZM657.3,224h1.3V363.5h-1.3ZM662.4,224h0.9V363.5h-0.9ZM667.4,224h0.8V363.5h-0.8ZM671.5,224h0.9V363.5h-0.9Z" fill="#a2a5a6" clip-path="url(#co3)"/>
<path d="M393.5,363.5L393.5,288.1L393.8,288.6L394,285.9L394.2,288.2L394.5,299.2L394.8,284.7L395,286.7L395.2,283.4L395.5,285.3L395.8,302.3L396,289.5L396.2,291.1L396.8,294.8L397,309.5L397.2,298.3L397.5,313.4L397.8,300.7L398.5,301.6L399,298.1L399.2,298.6L399.5,297.1L399.8,293.8L400,293.5L400.2,291.1L400.5,291.2L400.8,288.1L401,288.8L401.2,288.2L401.5,290.2L401.8,286.5L402.2,291.8L402.5,297.2L402.8,293.8L403,294.1L403.2,292.8L403.5,289L403.8,290.6L404,290.6L404.5,291.6L404.8,293L405.2,298.4L405.5,299.4L405.8,297.5L406,301L406.2,299.9L406.5,300.9L406.8,298.6L407.2,298.7L407.5,297.5L407.8,293.5L408,292.6L408.2,304.9L408.5,287L408.8,295.9L409,284.8L409.2,283.8L409.8,320.2L410,287.8L410.5,297.4L410.8,293.5L411,292.2L411.2,294.2L411.5,294.1L411.8,295L412,288.1L412.2,288.8L412.5,288.7L412.8,324.1L413,295.7L413.2,294.4L413.5,336L413.8,299.2L414,315.9L414.2,298.7L414.5,302.3L414.8,301.9L415.2,298.4L415.5,297.9L415.8,295.2L416,296.4L416.8,289.3L417,308.5L417.2,286.9L417.5,286.8L417.8,315.6L418.2,290.9L418.8,293.3L419,299.9L419.2,292L419.5,292.6L419.8,291.5L420,324.2L420.2,291.1L420.8,293.7L421,294L421.2,297.8L421.5,296.1L421.8,338.6L422,298.3L422.5,299.2L422.8,300.6L423.2,299.3L423.5,299.5L423.8,323.7L424,297.3L424.5,296.7L425,294.6L425.2,323.8L425.5,293.8L426,290L426.2,329.8L426.5,292.4L426.8,292.3L427.2,295.1L427.8,317.9L428,293.7L428.2,336.4L428.5,295L429,297.6L429.2,343.2L429.5,299.2L429.8,329.4L430,298.4L430.2,299.9L430.5,318.4L430.8,301.7L431,299.9L431.2,302.3L431.8,298.6L432,300.3L432.2,296.4L432.5,296.6L432.8,292.3L433,293.6L433.2,291.6L433.5,291.8L434,293.1L434.2,291.8L434.5,292.9L434.8,299.8L435,293.1L435.2,328L435.5,293L435.8,294.1L436,293.4L436.2,291.1L436.5,295.3L436.8,293.6L437,295.1L437.2,294.8L437.5,298.5L437.8,314.6L438,299.5L438.5,301.1L438.8,329.6L439,302L439.2,302.2L439.5,300.8L439.8,301.2L440.2,299.1L440.5,327.4L440.8,296.9L441.2,295.4L441.5,295.2L441.8,295.7L442,310.1L442.2,290.2L442.5,291.3L442.8,295.4L443,294.9L443.2,290.3L443.5,298.3L443.8,294.1L444,297.5L444.2,292.4L444.5,292.2L444.8,296.2L445.2,293.8L445.5,296.8L445.8,297.6L446,331.8L446.2,301.9L446.5,299.3L446.8,299.7L447.2,301.9L447.5,334.7L447.8,300.1L448,298.8L448.2,299.4L448.5,298.6L448.8,298.3L449,298.4L449.2,298.1L449.5,314.8L449.8,295.7L450,308.2L450.2,291.1L451,294.6L451.2,294.9L451.5,292.4L451.8,295.4L452,292L452.5,294.5L452.8,298.1L453,295.4L453.2,295.2L453.5,298.6L453.8,296.8L454,300.8L454.2,330L454.5,299.9L454.8,299.4L455,299.9L455.2,336.8L455.5,334.2L455.8,302.2L456,301L456.2,318.1L456.5,301.6L457,297.9L457.2,319.7L457.5,294.9L457.8,310.9L458,294.3L458.5,301.3L458.8,295L459,318.3L459.2,295.7L459.5,294.3L459.8,336.5L460,326.5L460.2,338.6L460.5,294.1L460.8,293.8L461,295.4L461.2,332.6L461.5,298.1L461.8,299.6L462,299.7L462.2,301.8L462.5,302.2L462.8,299.8L463.2,300.4L463.5,301.9L463.8,338.4L464,323.5L464.2,339.1L464.5,298.6L464.8,297.1L465,297.6L465.2,335L465.5,298L465.8,324.7L466,294.4L466.2,294.2L466.5,292.1L466.8,293.3L467,289.8L467.2,290.9L467.5,332.5L467.8,293.9L468,292.3L468.2,304.6L468.5,292.8L469,294.9L469.2,294.6L469.5,298.4L469.8,297.2L470,297.1L470.2,299.4L470.5,299.6L471,342.6L471.2,303L471.5,300.5L471.8,300.8L472,304.2L472.2,299.9L472.5,312.4L472.8,296.7L473,320.6L473.2,299.6L473.5,296.3L473.8,297.5L474.2,293.6L474.5,294.8L474.8,292.7L475,294.9L475.2,293.1L475.5,303.7L475.8,290L476,292.9L476.2,302.3L476.5,299.9L476.8,318.4L477,294.2L477.2,294.7L477.5,333L478,296.5L478.2,300.2L478.5,300.4L478.8,299.9L479,300.9L479.2,345.9L479.5,301.5L479.8,301.6L480.2,299.4L480.5,302.1L480.8,346.2L481,340.1L481.2,299L481.5,337.2L481.8,336.3L482,296.2L482.2,297.2L482.5,294.8L482.8,310.1L483,294.2L483.2,294.3L483.5,293.7L483.8,294.8L484,293.5L484.2,295.7L484.5,291.3L484.8,296L485,296.4L485.2,295.7L485.5,298.7L485.8,297.3L486,297.2L486.5,299.6L487,300.5L487.2,300.5L487.8,301.8L488,299.2L488.5,303.5L488.8,300.4L489.2,298.1L489.5,299.8L489.8,299.4L490.2,296.2L490.5,296L490.8,296.7L491,294.5L491.2,337.7L491.5,295.6L491.8,294.2L492,298.9L492.2,333.8L492.5,338.4L492.8,295.9L493,296L493.2,297.8L493.5,296.1L493.8,297.8L494,296.8L494.5,299.7L494.8,299L495,301.1L495.2,301.1L495.5,301.5L495.8,317.3L496,302.8L496.2,300.4L496.5,301L496.8,327.9L497,300.7L497.2,298.2L497.5,296.9L497.8,297.2L498,295L498.5,293.5L498.8,293.4L499,288.5L499.2,292.4L499.5,289.3L500.2,294.5L500.5,293.3L500.8,297.7L501,294.2L501.2,293.5L501.5,294.2L501.8,294.3L502,337L502.2,296.9L502.5,341.9L503,300.3L503.2,329.2L503.5,300L503.8,299.9L504,301.8L504.2,334.5L504.5,301.8L504.8,299.6L505,300.7L505.2,298.8L505.5,298.7L505.8,299.9L506,296.9L506.2,298.6L507.2,291.4L507.5,292.7L507.8,291.8L508,309.7L508.2,293.8L508.5,294.3L508.8,332.7L509,293.7L509.2,295L509.5,294.1L510,296.3L510.2,318.2L510.5,300.1L510.8,301.3L511,330.6L511.2,300.9L511.5,300.2L511.8,300.8L512,299.9L512.2,302.5L512.5,302.9L513.2,299.1L513.5,299.5L513.8,316.7L514,296L514.2,297.6L514.5,293.6L515,291.6L515.2,291.7L515.5,289.5L515.8,324.2L516,298.1L516.2,293.2L516.5,291.7L516.8,293.9L517.5,290.8L517.8,293.6L518,294.1L518.2,293.9L518.5,297.1L518.8,297.5L519,297.1L519.2,299.8L519.5,340.3L519.8,302L520,302.1L520.2,300.5L520.5,300.4L520.8,301.5L521.2,298.3L521.5,309.2L521.8,296.7L522,295.6L522.2,295.3L522.5,292.8L522.8,292.9L523,291L523.2,291.2L523.5,290.9L523.8,289.8L524,291.9L524.2,290.4L524.8,294.8L525,325.9L525.2,291L525.5,293.9L525.8,293.4L526,293.5L526.2,326.1L526.5,336.4L526.8,294.1L527,340.1L527.2,299.4L527.5,345.8L527.8,298.7L528,302.1L528.2,301.6L528.5,302.4L528.8,301.3L529,297.8L529.2,312.6L529.5,301.4L529.8,301.6L530,298.9L530.2,298.6L530.8,295.1L531.2,294.9L531.5,292.4L531.8,292.4L532,293L532.5,291.3L532.8,297.9L533.2,294.7L533.5,293.8L533.8,293.9L534.2,298.8L534.8,298.7L535,299.7L535.2,296.8L536,301.8L536.2,301.5L536.5,300.7L536.8,298.5L537,302.1L537.8,297.7L538,297.2L538.2,297.5L538.5,335.1L538.8,294.4L539,297.6L539.2,291.8L539.5,290.9L539.8,290.8L540,290.3L540.2,299.4L540.8,292.3L541,292.9L541.2,293L541.5,292.2L541.8,311.2L542,293.6L542.2,295L542.5,292.4L543.2,298.4L543.5,298.4L543.8,300.1L544,299.6L544.2,300.9L544.5,301L544.8,301.7L545,300.2L545.2,301.7L545.5,302.2L545.8,301.2L546,301.2L546.2,326.2L546.5,298.1L546.8,297.4L547,297.5L547.2,294.5L547.5,295L548,292.9L548.2,293L548.5,292L548.8,291.9L549.2,294.8L549.5,293.4L550,296.9L550.2,294.5L550.5,294.9L550.8,297.8L551,298.4L551.2,297.1L551.8,301.1L552,301.9L552.2,301.4L552.5,301.8L552.8,334.3L553,300.5L553.2,301.9L553.5,318.3L553.8,319.3L554,297.9L554.2,325.7L554.5,296.9L554.8,296.1L555,295.9L555.2,293.7L555.5,293.9L555.8,321.3L556,289.9L556.2,292L556.5,291.8L557,293.2L557.5,295.6L557.8,314.1L558,294.2L558.2,291.4L558.5,292.5L558.8,321.6L559,295.3L559.2,295.1L559.5,298.1L559.8,297.7L560,300.2L560.2,298.2L560.5,301.5L560.8,301.5L561,302.6L561.2,301.6L561.5,301.8L561.8,301.4L562,298.1L562.2,300L562.5,308.8L562.8,296.4L563,295.2L563.2,295.8L563.5,291.9L563.8,295.2L564,321L564.2,292.4L564.5,330.3L564.8,292.9L565,292.8L565.2,291.1L565.5,293L566,292.6L566.2,319.8L566.5,295.3L566.8,292.9L567,298.5L567.2,298.9L567.5,297.2L568,300.6L568.2,299.2L568.5,301.2L568.8,300.5L569,300.5L569.5,304.1L570.2,300L570.5,299.4L570.8,300.5L571.2,298.1L571.5,297.9L571.8,295.5L572,295.4L572.2,295.8L572.5,315L572.8,294.9L573,331L573.2,293.9L573.5,294.5L573.8,293.7L574.2,295.8L574.8,296.8L575,298.4L575.2,295.2L575.8,301.2L576,301.1L576.2,301.7L576.5,300.6L576.8,301.9L577,301L577.2,300.9L577.5,336.3L577.8,301.2L578,300.3L578.2,300.5L578.5,299.8L578.8,296.8L579,298L579.5,295.6L579.8,295.8L580,295.5L580.8,291.1L581.2,320.9L581.5,294.9L581.8,292.1L582,307.5L582.2,293.3L582.5,292.3L582.8,297L583,295.9L583.2,297.4L583.5,296.3L583.8,296.8L584,301.2L584.2,299.3L584.5,302L584.8,299.9L585.2,301.6L585.5,300.7L585.8,326.3L586,302.4L586.8,298.1L587,298.1L587.5,330.8L587.8,295.2L588,294.2L588.5,295L589,291.1L589.2,307.2L589.5,293.9L589.8,301.8L590.2,292.6L590.5,317L590.8,296.8L591,295.1L591.2,296.8L591.8,325.4L592,295.9L592.2,301L592.5,299.5L592.8,302.9L593,302.3L593.2,318.4L593.5,301.9L593.8,302.1L594.2,340.8L594.5,302.2L594.8,301.9L595,299.3L596,295L596.2,291.6L596.5,293.6L596.8,328.3L597,293.1L597.2,289.9L597.8,295.7L598,294L598.2,301.1L598.5,295L598.8,293.7L599,293.9L599.5,297.2L599.8,295.8L600,315.9L600.2,298.7L600.5,300.8L600.8,299.1L601,301.6L601.2,323.1L601.5,301.1L602,303.5L602.5,297.7L602.8,298.1L603,299.5L603.2,297.2L603.5,298L603.8,295.8L604,295.7L604.8,290.8L605,291.4L605.2,294.9L605.5,291.3L606,296.1L606.8,291.3L607.2,295.2L607.5,294.3L607.8,342L608,296.7L609,300L609.2,302.5L609.8,300.5L610.2,301.9L610.5,301.4L610.8,302.1L611,299.1L611.2,301.3L611.5,299.1L611.8,343.9L612,296.8L612.2,298.4L613,295.3L613.2,295.4L613.5,296.4L613.8,293.5L614,293.3L614.2,297.5L614.5,294.4L614.8,297.4L615,293.9L615.2,296.4L615.5,296.5L615.8,297.6L616,300.6L616.2,299L616.5,341.8L616.8,301.6L617,300.2L617.2,299.7L618,301.6L618.2,301.2L618.5,302.2L618.8,301.8L619.5,298.7L619.8,295.9L620,297.2L620.2,339.5L620.5,296.1L620.8,294.2L621,295.2L621.2,294L621.5,312.5L621.8,291.3L622,292.6L622.2,298.2L622.5,293.3L623,294.6L623.2,304.2L623.5,294.4L623.8,297.7L624,298.4L624.2,297.2L624.5,332.2L625,298L625.2,314.2L625.5,302.1L625.8,300.3L626,301.9L626.2,321.7L626.5,301L626.8,323.5L627,298.7L627.2,298.4L627.5,295.1L627.8,295.3L628,294.8L629,288.8L629.5,293.4L629.8,308.6L630,295.7L630.2,293.1L630.5,297.1L630.8,294.6L631,294.2L631.2,316.7L631.5,291.4L631.8,309L632,293.3L632.2,293.9L632.8,298.5L633.2,301.1L633.5,301.1L633.8,302.4L634.2,298.9L634.5,329.4L634.8,302.5L635,300.7L635.2,300.7L635.5,328.9L635.8,335.6L636,297.9L636.2,296.3L636.5,298.9L636.8,324.2L637,328.3L637.2,297.8L637.8,292.7L638,300.6L638.2,293L638.5,294.4L638.8,293.6L639,330.2L639.2,296L639.5,295.8L639.8,297.5L640,297L640.2,297.2L640.8,299.1L641,298.4L641.2,300.8L641.5,300.7L641.8,299.8L642.2,302.7L642.5,301.1L642.8,300.9L643,300.2L643.5,301.3L643.8,299.3L644,332.6L644.2,324.8L644.5,299.3L645,294.9L645.2,294.8L645.5,293.9L645.8,293.8L646,293.3L646.2,294.1L646.5,292.4L646.8,291.9L647,293.8L647.5,293.5L647.8,298.3L648,296.8L648.5,297.4L648.8,296.1L649.2,300.8L649.5,300.7L650,303.5L650.2,300.4L650.5,301.7L650.8,299.9L651,301.7L651.5,299.2L651.8,299.6L652.2,298.2L652.5,298.8L653,294.4L653.2,342.6L653.5,295.3L653.8,291.3L654,291.6L654.2,290.9L654.5,293.9L654.8,293.5L655.2,295.5L656,294L656.2,294.1L656.5,315.9L656.8,298.5L657,299.8L657.2,309.2L657.5,298.2L657.8,299.3L658,315.9L658.2,301.4L658.5,300.7L658.8,304.1L659.5,299L659.8,334.1L660,300.1L660.2,315.2L660.5,298.5L660.8,296.9L661,296.4L661.2,308.8L661.5,295.7L661.8,293.2L662,328.3L662.2,292.6L662.5,293.1L663,295.5L663.2,294L663.5,294.2L663.8,293.9L664.2,297.9L664.5,296.6L664.8,297.2L665,300.8L665.2,301L665.5,339L665.8,300.7L666,299.9L666.2,329.8L666.5,302L666.8,326.4L667,302.1L667.2,299.6L667.5,302.1L668,298.1L668.2,301.2L668.5,328.1L668.8,296.9L669,296.5L669.5,293.6L669.8,295.1L670,291.5L670.5,292.8L670.8,293L671,294.3L671.2,295.9L671.5,336.9L671.8,295.6L672,291.8L672.2,328.3L672.5,295.8L673,297.4L673.2,318.8L673.5,297.4L674,300.9L674.2,300.5L674.5,302.2L674.8,300.9L675,303.6L675.5,301.3L675.8,302.3L676,297.6L676.2,299.2L676.5,299.4L676.5,363.5Z" fill="url(#pr)"/>
<rect x="393.5" y="224.0" width="283" height="139.5" fill="none" stroke="#262626" stroke-width="1.5"/>
<path d="M393.5,363.5v-3M393.5,224v3M417.1,363.5v-3M417.1,224v3M440.7,363.5v-3M440.7,224v3M464.2,363.5v-3M464.2,224v3M487.8,363.5v-3M487.8,224v3M511.4,363.5v-3M511.4,224v3M535,363.5v-3M535,224v3M558.6,363.5v-3M558.6,224v3M582.2,363.5v-3M582.2,224v3M605.8,363.5v-3M605.8,224v3M629.3,363.5v-3M629.3,224v3M652.9,363.5v-3M652.9,224v3M676.5,363.5v-3M676.5,224v3M393.5,363.5h3M676.5,363.5h-3M393.5,317h3M676.5,317h-3M393.5,270.5h3M676.5,270.5h-3M393.5,224h3M676.5,224h-3" stroke="#262626" stroke-width="1.5" fill="none"/>
<text x="387.7" y="368.8" text-anchor="end" font-size="14.7" fill="#262626">0</text>
<text x="387.7" y="322.3" text-anchor="end" font-size="14.7" fill="#262626">200</text>
<text x="387.7" y="275.8" text-anchor="end" font-size="14.7" fill="#262626">400</text>
<text x="387.7" y="229.3" text-anchor="end" font-size="14.7" fill="#262626">600</text>
<text transform="translate(402.9,379) rotate(-45)" text-anchor="end" font-size="14.5" fill="#262626">0</text>
<text transform="translate(426.5,379) rotate(-45)" text-anchor="end" font-size="14.5" fill="#262626">2</text>
<text transform="translate(450.1,379) rotate(-45)" text-anchor="end" font-size="14.5" fill="#262626">4</text>
<text transform="translate(473.6,379) rotate(-45)" text-anchor="end" font-size="14.5" fill="#262626">6</text>
<text transform="translate(497.2,379) rotate(-45)" text-anchor="end" font-size="14.5" fill="#262626">8</text>
<text transform="translate(520.8,379) rotate(-45)" text-anchor="end" font-size="14.5" fill="#262626">10</text>
<text transform="translate(544.4,379) rotate(-45)" text-anchor="end" font-size="14.5" fill="#262626">12</text>
<text transform="translate(568,379) rotate(-45)" text-anchor="end" font-size="14.5" fill="#262626">14</text>
<text transform="translate(591.6,379) rotate(-45)" text-anchor="end" font-size="14.5" fill="#262626">16</text>
<text transform="translate(615.2,379) rotate(-45)" text-anchor="end" font-size="14.5" fill="#262626">18</text>
<text transform="translate(638.7,379) rotate(-45)" text-anchor="end" font-size="14.5" fill="#262626">20</text>
<text transform="translate(662.3,379) rotate(-45)" text-anchor="end" font-size="14.5" fill="#262626">22</text>
<text transform="translate(685.9,379) rotate(-45)" text-anchor="end" font-size="14.5" fill="#262626">24</text>
<text x="536" y="217.2" text-anchor="middle" font-size="16.3" font-style="italic" fill="#000">Tout=-15°C</text>
<text x="535" y="407.5" text-anchor="middle" font-size="15.9" fill="#262626">Time/h</text>
<text transform="translate(359.7,294.6) rotate(-90)" text-anchor="middle" font-size="15.8" fill="#262626">Number of TCLs</text>
<rect x="557.2" y="236.4" width="33" height="12.4" fill="#e8282d"/>
<rect x="557.2" y="253.8" width="33" height="11.8" fill="#000"/>
<text x="592.7" y="248.2" font-size="14.1" fill="#000">Switch on</text>
<text x="592.7" y="265" font-size="14.1" fill="#000">Switch off</text>
<path d="M43.5,570L43.5,495.3L44,490.2L44.8,488.5L45,484.4L45.2,485.6L45.8,479.9L46.2,480.9L46.5,476.9L47,473.3L47.2,480.7L47.5,471.5L47.8,472.5L48.2,466.6L48.5,465.6L48.8,465.5L49,464.5L49.2,473.7L49.5,461.7L50,458.5L50.2,458.4L50.8,454L51.8,482.8L52.5,497.3L52.8,496.2L53,500.2L54.2,536.4L54.8,523L55,537.1L55.2,511L56,498L57,493.4L57.5,485.3L57.8,484.9L59,455.7L59.5,485.8L59.8,482L60.2,493.6L61,499.6L61.5,509.8L62.2,533.8L62.8,520L64.2,496.5L64.5,496.2L64.8,496.7L65.2,492.8L65.5,497.3L65.8,484.1L67,459.5L67.8,482.9L68.5,495.5L68.8,495.7L69,499.3L69.2,522.7L69.5,505.9L70.2,525.8L70.5,524.2L70.8,516.6L71.2,511.7L71.5,526.5L71.8,500.2L72,500.6L72.5,496.9L72.8,497.2L73,494.7L73.2,495.1L73.8,487.1L75,474L75.8,489L76.2,494.3L76.5,494.9L76.8,494.9L77.2,499.2L78.2,514L78.8,510.2L79,505.3L79.2,504.4L79.8,499.2L80,516.3L80.2,496.3L80.5,496.7L80.8,494.7L81.2,493.3L81.5,502L81.8,489.9L82,505.9L82.2,487.5L82.8,482.2L83,481.8L83.2,483L84,492.9L84.2,492.7L84.8,495.7L85,495.5L85.8,502.6L86,503.6L86.2,508.2L87.2,499.4L87.5,499.7L87.8,509.7L88,495.2L88.5,496.8L89,494.5L89.2,495L90,491.3L90.2,499L90.5,486.9L90.8,487.1L91,485L91.2,486.7L91.5,503.1L91.8,491.5L92,491.5L92.2,492.1L92.8,495.1L93,494.9L93.5,498.3L93.8,498.8L94,498.6L94.5,503.1L95,500L95.2,500L95.5,495.6L95.8,495.1L96,495.5L96.2,494L96.5,494.6L96.8,494.6L97,502.1L97.2,492.1L98,490.4L98.5,484.8L98.8,486L99,484.2L99.2,484.1L99.8,489.6L100,489L100.5,493.7L101,492.1L101.5,497.2L101.8,496.5L102,510.5L102.2,501.2L102.5,501.3L102.8,500.6L103,498.4L103.2,497.6L103.5,498.1L104.2,495L104.5,495.9L104.8,495.2L105,509.7L105.2,493.4L105.5,495.6L106.2,489.9L106.5,492L107.2,488.2L107.5,505.8L107.8,491.6L108.2,494.2L108.5,494.6L109,493.4L109.8,497.8L110,498.3L110.2,501.7L110.8,499.5L111,499.5L111.5,496.5L112.2,493.5L113,493L113.2,493.8L113.8,491L114,490.4L114.2,490.7L114.5,488.8L114.8,490L115,487L115.2,486.5L116,490L116.2,493.1L116.8,493.9L117,492.8L117.2,493L117.5,493.7L117.8,496L118,496.4L118.2,497.8L118.5,500.8L118.8,500.2L119,497.4L119.2,497.7L119.5,496.4L119.8,497L120.5,494L120.8,494.3L121,492.6L121.2,493.7L121.5,493.3L121.8,494L122,491.9L122.2,491.8L122.5,489.7L123,490.2L123.2,488.4L123.5,491.8L123.8,489.3L124,491.2L124.2,491.5L124.5,493.9L124.8,492.1L125,491.5L125.5,497.1L125.8,495.3L126.5,500.5L127,498.8L127.2,500L127.5,497.9L128,496.4L128.5,493.5L128.8,493.5L129,492.9L129.2,493.5L129.5,495.4L129.8,499.9L130,491.5L130.2,490.2L130.5,491.8L131.2,487.5L131.5,488.2L132,492.1L132.2,492.2L132.5,500.7L132.8,492.2L133.8,495.8L134,495.7L134.8,500.4L135.2,496.3L135.5,496.8L135.8,495.9L136,492.4L136.2,495L136.5,495.3L136.8,505.1L137,493.4L137.2,492L137.5,493.1L138,491L138.2,490.8L138.5,491.6L138.8,489.2L139.2,487L139.5,502.4L139.8,491.4L140,489.2L140.2,490.9L140.5,491.2L140.8,493.7L141,493L141.2,493.1L141.5,494.4L141.8,494.5L142.2,501.5L142.5,497.3L142.8,499L143,498.2L143.2,499.3L143.8,495L144.2,493.4L144.5,493.6L144.8,492.3L145,491.7L145.2,492.1L145.8,490.4L146,491.7L146.2,491.3L146.8,487.8L147,487.8L147.2,484.3L147.8,487.9L148,488.3L148.8,492.2L149,492.2L149.2,492.8L149.5,492.3L149.8,493.2L150.2,497.6L151,501.2L151.2,496.9L151.5,496L151.8,496.3L152,495.7L152.2,491.8L152.5,494.2L153.2,491.4L153.5,493.5L153.8,490.7L154,491.2L154.5,491.4L154.8,487.1L155,488.3L155.5,485.1L155.8,489.2L156,489L156.2,491.5L156.5,490.9L156.8,492.3L157,491.4L157.2,492.9L157.5,492.9L158,495.2L158.5,498.7L159,498.9L159.5,496.1L159.8,495.8L160,493.9L160.2,493.3L160.5,493.9L161,491.1L161.5,491.5L161.8,490.6L162,492L162.2,488.6L162.5,488.9L163,486.5L163.5,485.1L163.8,485L164,486.5L164.2,487L164.8,491.4L165,505.6L165.2,493.3L165.5,492.1L165.8,494.1L166,493.8L166.2,496.8L166.8,498.3L167,498.6L167.8,495L168,495.6L168.5,490.2L168.8,493.1L169,512L169.2,491.8L169.5,493.7L169.8,493.5L170,490.8L170.8,488L171,505.4L171.2,487.2L171.5,485.4L171.8,486.6L172.2,487.8L173,493.6L173.2,492.1L173.5,491.8L174,495.1L174.2,494.3L174.5,498.1L174.8,498.8L175.2,498.6L175.8,496.6L176,496.5L176.2,495.8L176.5,496L176.8,502.2L177,492L177.2,494.3L177.5,494.4L178,491.9L178.2,491.8L178.5,493.3L178.8,489.9L179,491.7L179.2,486.9L179.5,487.7L179.8,486.1L180,489.7L180.5,491.4L181,494.4L181.2,493.7L181.5,496.3L182,494.1L182.2,516.1L182.5,498.8L183,499.7L183.2,499.5L183.5,496.5L183.8,496.3L184,495.3L184.2,496.3L184.8,492.7L185,492L185.2,494.1L185.8,491.7L186,491.3L186.2,491.4L186.5,490.5L187,487.8L187.2,488.8L187.5,485.6L188,487.7L188.5,491.5L188.8,491.9L189,490.3L189.5,493L189.8,493.5L190,493.2L190.2,497L190.5,497.4L190.8,499.3L191,498.6L191.2,499L191.5,498.8L191.8,514.6L192,496.9L192.5,494.1L192.8,494.1L193,493.7L193.2,494.2L193.5,493.4L193.8,493.2L194,493.8L194.8,490.9L195,491.8L195.2,489.2L195.5,489L195.8,489.5L196,488.5L196.2,489L196.8,492.5L197,492.4L197.5,494.3L197.8,493.7L198,493.8L198.5,498.2L198.8,498.1L199,499.6L199.2,497.7L199.5,497.9L199.8,495.5L200,507.9L200.2,495.5L200.5,492.8L200.8,493.5L201,491.8L201.5,491.6L201.8,490.8L202,491.3L202.5,488.7L202.8,488L203,488.1L203.8,481.9L204,501.7L204.2,487.8L204.5,487.4L205,491.9L205.2,490.9L205.5,492.3L205.8,491.4L206,493.9L206.2,493.5L206.5,494.5L207,498.5L207.2,515.5L207.5,499.1L207.8,495L208,495.6L208.2,495.4L208.8,492.8L209,493.9L209.5,492.3L209.8,493.6L210,493.6L210.8,492.2L211,492.3L211.2,489.5L211.5,489.5L211.8,487.9L212,489.1L212.2,489.5L212.5,510.1L212.8,492.1L213,491.4L213.5,493.1L213.8,513L214,495.8L214.2,496.2L214.5,495.6L214.8,499L215.2,500.2L215.8,496.7L216,496.4L216.2,496.8L216.5,494L216.8,493.2L217,493.4L217.2,490.5L217.8,494.9L218,491.4L218.2,490.3L218.5,491L218.8,489.7L219,490.5L219.2,487.8L219.8,486.6L220,486.5L220.2,489.5L220.8,490.5L221,490.4L221.8,496.1L222,494.9L222.2,494.8L222.8,498L223.2,499.9L223.8,496.5L224,496.8L224.2,495.6L225,495.3L225.8,492.8L226,494L226.2,493.7L226.8,491.1L227,491.8L227.2,491L227.5,488.3L227.8,489.4L228,488.7L228.2,489.3L228.8,492.7L229,491.6L229.2,493L229.5,492.3L230.2,495.9L230.5,496.4L230.8,496.3L231,499.1L231.2,499.2L231.5,497.9L231.8,498.2L232.8,493.5L233.2,495.2L233.5,491.7L233.8,511.2L234,492.2L234.2,491L234.5,490.9L234.8,491.2L235.2,488.3L235.8,487.3L236,486L236.2,489.4L236.5,488.5L236.8,491.1L237.2,492.5L237.5,514L237.8,492.9L238,494.7L238.8,496.3L239.2,501.5L239.8,498L240,493.4L240.2,494.6L240.8,493.3L241,511.5L241.2,493.1L241.5,491.3L241.8,491.8L242,512.8L242.2,492.5L242.5,490.6L243,489.5L243.5,486.4L243.8,486L244,483.6L244.2,487.1L244.8,488.2L245.5,493.8L245.8,491.9L246,493.1L246.2,493.2L246.5,493L246.8,497.2L247,499.2L247.2,499.5L247.8,496.8L248,496.8L248.2,496.4L248.8,493.8L249,494L249.2,493.4L249.5,491.7L249.8,493.4L250,492.3L250.2,492.3L250.5,492.9L251,489L251.5,487L251.8,487.6L252,484.8L252.2,487.8L253,491.6L253.2,492.4L253.5,491.7L253.8,493.2L254,491.9L254.2,492.8L254.5,495.6L254.8,512.6L255,497.7L255.2,498.8L255.5,497.8L255.8,498.1L256.2,494.8L257.2,492.4L257.5,492L257.8,492.4L258,491.3L258.2,491.7L258.8,489L259,490.4L259.2,488.7L259.5,488.8L259.8,486.7L260.2,488.1L260.5,487.9L260.8,490.2L261.2,491.8L261.5,490.7L262,494.4L262.2,492.1L262.5,495.4L262.8,495L263.5,499.7L264,498.2L264.5,493.3L264.8,493.9L265,493.6L265.5,491.2L265.8,492.1L266,491.1L266.2,492L266.5,492.1L266.8,489.7L267,490.7L267.2,489.1L268.2,485.9L269,492.2L269.2,491.2L269.5,491.9L270,492.1L270.2,513.8L270.5,495L270.8,497L271,496.8L271.5,498.3L271.8,497.4L272,497.6L272.5,495.6L272.8,496L273,494.9L273.2,495.7L273.5,493.9L273.8,494.4L274,492.9L274.2,492.8L274.5,493.1L274.8,491.2L275,492.7L275.8,488.7L276,503.3L276.2,487.3L276.5,489.8L276.8,489.8L277,490.6L277.2,490.8L277.5,493L277.8,492.7L278,494.8L278.2,494.3L278.5,517.1L278.8,496.5L279.5,500.7L279.8,499.1L280,512.4L280.2,497.1L280.5,493.8L280.8,495.9L281,494.1L281.2,494.4L281.5,493.4L282,494.2L282.5,492.7L283,492.3L283.2,491.7L283.5,488.6L283.8,489.3L284,488.4L284.2,489.1L284.5,488.9L284.8,490.9L285,491.6L285.2,491.4L285.8,494L286,508.1L286.2,495.8L286.5,494.3L286.8,497.5L287,496.5L287.2,498.3L287.5,498.7L287.8,497.5L288,497.5L288.2,496L288.5,497.1L288.8,495.5L289,494.6L289.2,495L289.8,492.8L290,506.9L290.2,494.9L290.5,492.5L290.8,493.5L291,491.5L291.2,491.7L291.5,490.3L291.8,490.8L292,488.5L292.2,489.6L292.5,489.1L293,491.6L293.2,491.1L294,495.4L294.2,493.8L294.5,494.4L294.8,493.9L295.2,499.2L295.5,498.4L295.8,498.6L296,506.7L296.2,496.1L296.5,496.7L296.8,494L297,495.8L297.5,493.3L298,492L298.2,493.8L298.5,492.7L299.2,490.8L299.5,488.6L299.8,488.7L300,488.3L300.2,487L300.8,490.2L301,490.5L301.2,490.3L301.5,490.5L301.8,495L302,493.7L302.2,494.2L302.5,493.8L302.8,496.9L303,495.2L303.5,498L303.8,498.6L304.2,495.6L304.5,495.7L304.8,496.9L305,496.3L305.2,494.7L305.5,494.5L305.8,494.9L306.5,494.7L306.8,490.9L307,491.7L307.2,491.8L307.5,491.3L307.8,489.7L308.2,489.1L308.8,490.5L309.5,494.3L309.8,493.5L310,494.7L310.5,491.8L310.8,496.3L311,497.7L311.2,497.6L311.5,499.2L311.8,498.9L312,496.7L312.2,496.7L312.5,494.7L312.8,497L313,493L313.2,495.3L313.5,495.5L313.8,494L314,495.1L314.2,494.7L314.5,500.1L314.8,494.9L315,495L315.2,492.5L315.5,498.3L315.8,492.9L316,492.4L316.2,488.9L316.5,490.4L316.8,491.1L317.2,491.6L317.8,493.7L318,493.9L318.2,494.8L318.5,494.3L318.8,496.7L319,495.9L319.5,497.2L319.8,500.3L320.2,497.1L320.8,495.6L321,495.7L321.2,493.3L321.5,493.4L321.8,493.3L322,494.1L322.8,492.5L323.2,492L323.5,491.1L323.8,491.9L324,488.3L324.2,487.2L325,491.1L325.5,490.4L325.8,493.7L326.2,492.5L326.5,494.6L326.8,494.2L327,494.5L327,570Z" fill="#ec7477"/>
<clipPath id="co4"><path d="M43.5,570L43.5,499.8L44,499.2L44.2,497.6L44.5,497.4L44.8,498L45.2,495.2L45.8,494.9L46,490.7L46.2,490.9L46.5,490.3L46.8,490.7L47,492L47.5,488.1L47.8,488.3L48,487.7L48.5,483.7L48.8,484.7L49,484.1L49.2,484.2L49.5,481.3L49.8,481.7L50.5,480.3L51,476.4L51.2,477.5L51.5,476.3L51.8,476.8L52,475.1L52.2,476L52.5,472.6L52.8,473.7L53.5,469.6L53.8,469.7L54,468.9L54.2,470.1L55.2,482.2L55.5,483.1L56.2,490.2L56.8,491.9L57,490.7L57.5,494.4L58.2,502.8L58.5,508.1L58.8,508.7L59,512.2L59.8,498.6L60.2,493.4L60.8,491.3L61.5,484.2L62.2,471.1L64,491.2L64.2,492.4L64.5,492.5L65,495.7L65.2,495.4L67,511L67.2,511.5L67.5,505.5L68.5,495.8L69,496.6L69.2,494.7L69.5,494.8L69.8,490.7L70.2,487L70.5,487.2L71.8,496.8L72,497.8L72.2,497.5L72.8,500.8L73,498.5L73.2,502.1L73.5,502L73.8,502.8L74.2,506.9L74.5,507.2L74.8,510.2L75.2,512.2L75.5,507.9L75.8,508L76.5,502.6L77.2,501.2L77.5,498.9L77.8,498.9L78.5,492.7L79.2,498L80,499.9L80.5,503.3L81.2,505.3L81.5,504.1L81.8,504L82,506.7L82.2,507.7L82.5,511.3L82.8,510.8L83,512.9L83.2,513.5L84.2,506.4L84.5,502.8L84.8,503.3L85,505L85.5,502.2L85.8,498.5L86,500.3L86.5,493.8L86.8,493.7L87.5,501.5L88.2,503.3L88.8,505.6L89,504L90.2,509.4L90.5,507.3L91,512.6L91.2,512.4L91.5,512.5L92.2,506.6L92.5,506.6L93,501.7L93.2,502.8L94,497.8L94.2,497.7L94.5,495.4L94.8,494.9L95,495.1L95.2,498.9L96.5,503.7L96.8,502.8L97,504.9L97.2,502.7L97.5,505L97.8,505.3L98,508L98.2,507.6L98.8,512.5L99,511.5L99.5,514.4L99.8,513.5L100,509.4L100.8,506.1L101,505.6L101.2,508.5L101.5,508.7L101.8,504.2L102,505.4L102.2,501.3L102.8,499.8L103.2,503.6L103.5,503.2L103.8,504.2L104,504.5L104.2,503.7L104.5,506.6L105,505.2L105.2,507.7L105.8,508.6L106.2,510.8L106.5,509.5L106.8,509.7L107.2,513.7L107.5,514.5L107.8,512L108.5,508.9L108.8,506.7L109,506.4L109.5,507.2L110.2,501.2L110.5,501.8L110.8,497.3L111,501L111.2,502.1L111.5,502.5L111.8,504.3L112,504.5L112.5,506.3L112.8,506.7L113.5,505.1L114,509.6L114.2,509.4L114.5,511.3L114.8,510.6L115.5,514.2L116,511.6L116.2,508.5L116.5,510.5L116.8,506.8L117,506.1L117.2,506.4L117.5,506.3L117.8,505.3L118.2,504.5L118.5,501.3L118.8,499.8L119,499.6L119.2,501.7L119.5,501.7L119.8,503L120,502.7L120.5,507.9L121,506.4L121.2,508.3L121.5,506.5L121.8,508.3L122,508L122.2,508.6L122.5,510.4L123,510L123.2,512.8L123.5,513.8L123.8,513.8L124.2,508.9L124.5,509L125,505.7L125.2,506L125.5,504.1L125.8,505L126.2,503.7L126.8,500.9L127,498L127.2,497.9L127.5,502.2L127.8,503.2L128,504L128.2,504L128.5,505.5L128.8,504.4L129,504.7L129.2,506.6L129.5,506.4L129.8,507.3L130.2,506.2L130.5,509.6L130.8,510.1L131,512.2L131.2,511.7L131.8,514.6L132.2,508.7L132.5,507.5L132.8,509.3L133,507.6L133.2,507.4L133.5,506.4L133.8,507.3L134.5,501.8L134.8,502.9L135,498.1L135.5,503.3L135.8,501.9L136.2,504.8L136.5,504.6L137,506.2L137.2,507.9L137.5,507.3L137.8,507.3L138,506.6L138.2,506.8L138.5,509.1L139,511.5L139.2,510.8L139.5,513.4L139.8,511.9L140,512.4L140.5,509L140.8,508.5L141,508.4L141.2,506.8L141.5,506.3L141.8,506.6L142.2,504.4L142.5,504.8L143,500.1L143.2,501.2L143.5,500.8L143.8,501.8L144,505.3L144.2,504.7L144.5,504.5L144.8,505.9L145,505.6L145.2,505.9L145.5,508.1L145.8,506.7L146.2,510.1L146.5,508.1L146.8,510.1L147,510.4L147.2,510.4L147.8,513.7L148,513.8L148.5,508.7L148.8,508.7L149,505.6L149.2,505L149.5,506.6L149.8,504L150,505.4L150.8,502L151.2,497.8L151.5,497.5L152,502.5L152.5,502.8L153,506L153.2,505.8L153.5,507.1L153.8,506.1L154,507.1L154.2,506.1L154.8,509.9L155,509L155.5,512.7L155.8,512.8L156,514.3L156.2,513.5L157,506.4L157.2,507.3L157.5,506L157.8,507.7L158,504.6L158.2,504.6L159,500.2L159.5,499.3L159.8,501.4L160,501.7L160.2,501.4L160.5,506.2L160.8,503.7L161.2,505.6L161.5,505.4L162,508.5L162.2,507.8L162.5,508.3L162.8,510.9L163,509.1L163.2,510.1L163.5,513.2L163.8,513.1L164,514.1L164.8,509.3L165,509L165.2,506.5L165.5,507.6L166,505.8L166.2,507.8L166.5,505.2L167.2,501L167.5,500.5L168,503.9L168.2,503.4L168.5,505.5L168.8,505.6L169.2,508.3L169.5,508.5L169.8,506.1L170.2,508.8L170.5,508L171.2,512.5L171.5,511.4L171.8,511.7L172,511.3L172.2,513.3L173,507.2L173.2,507.5L173.5,507.1L173.8,504.8L174,506.4L174.2,503.9L174.5,503.7L175,499.7L175.2,500L175.5,495.5L175.8,500.2L176,501.2L176.2,500.8L176.5,505.3L176.8,504.1L177,503.9L177.2,505.1L178.2,506.6L178.5,505L179,509.5L179.8,510.9L180,514.6L180.2,513.8L180.5,514.3L181,507.7L181.2,507.6L181.8,508L182.8,503.3L183,502.5L183.2,502.7L183.5,500.1L184,502.9L184.2,501.5L184.5,504.8L184.8,504.1L185.8,507.6L186.2,506.3L186.5,508.7L186.8,507L187,509.6L187.2,509L187.5,511.1L187.8,510.1L188.2,512.6L188.5,510.4L189,512.4L189.8,505.6L190,505.3L190.2,506.7L190.5,504.2L190.8,504.2L191.2,500.6L191.5,500.3L191.8,498.6L192,500.1L192.2,500.1L192.8,503.3L193,503.3L193.8,507.3L194.5,506L194.8,506.1L195,506.8L195.2,509.6L195.5,510.2L196,514L196.2,512.8L196.5,514.3L196.8,510.7L197,510.5L197.5,506.7L197.8,507.8L198,506.1L198.2,507.1L199,503.2L199.2,503.1L199.8,499.4L200,501.6L200.2,501.5L201,505.2L201.2,505.3L201.5,506.7L201.8,506L202,506.6L202.2,505.6L202.8,508.8L203,508.1L203.2,509.6L203.5,508.7L203.8,511.7L204.2,513.5L204.5,513.8L205,507.6L205.2,508.6L205.5,506L205.8,506.9L206,506.4L206.2,505.6L206.5,503.2L206.8,503.5L207.2,501.4L207.8,495.2L208.2,502.1L208.5,501.5L209.2,506.2L209.5,504.5L210,506L210.2,505.1L210.5,505.2L210.8,506.7L211,506.7L211.2,509.7L211.5,508.9L211.8,511.4L212,512.1L212.2,511.6L212.5,514.2L212.8,510.7L213.2,509.1L213.5,509.9L213.8,507.9L214.2,506.3L214.8,507.3L215,504L215.2,505.2L215.5,503L215.8,502.7L216,501.2L216.5,502.3L216.8,505.1L217,504.5L217.2,505.4L217.8,505.9L218,506.7L218.2,505.5L218.5,508.5L218.8,507.4L219.2,510.2L219.5,509.6L220,512.6L220.2,512.1L220.5,513.8L220.8,512L221,511.8L221.2,508.9L221.5,508.7L221.8,507.9L222.2,505.3L222.5,506.9L223.2,503.9L223.5,504.7L223.8,500L224,499.4L224.8,505.6L225,505.8L225.2,505.4L225.8,508.2L226,507.6L226.2,508.9L226.5,508.8L226.8,507.6L227.2,510.2L227.8,511.1L228,510.6L228.2,511.3L228.8,513.8L229.2,508.5L229.5,508.9L229.8,508.4L230,506.3L230.2,507.7L230.5,504.9L230.8,504L231,504.1L231.2,506.5L231.5,502L231.8,500L232.2,498.1L232.5,502.3L232.8,503.1L233,502.5L233.2,504.4L233.5,504.1L234.2,507.5L234.5,506.8L234.8,507.4L235,506.6L235.5,510.6L235.8,508.7L236.2,512.6L236.5,510.7L236.8,513.9L237.2,509.7L237.5,510L238,506.4L238.2,506.6L239,504L239.2,505L240,496.7L240.8,502.3L241.2,500.9L241.8,505.1L242.2,505.1L242.5,506.3L242.8,506L243,507.7L243.2,507.6L243.5,508.1L244,510.9L244.2,509.7L244.5,512.4L245,514.1L245.8,506.8L246.2,507.2L246.5,506.3L246.8,506.3L247,505.3L247.2,506.3L247.5,505.7L248,500.7L248.5,500.1L248.8,502.7L249,503.4L249.5,506.8L250,507L250.2,506.9L250.5,505.4L251.2,509.7L251.5,507.9L252,512.5L252.2,510.6L252.8,512.7L253,512.9L254.2,506.4L254.5,505.8L254.8,506.8L255,503.9L255.5,505.2L255.8,500.4L256.2,497.5L257,502.9L257.2,502.5L258,504.6L258.2,506.5L258.8,505.7L259,506.7L259.2,505.5L259.5,509.9L259.8,508.2L261,513.5L261.2,511.9L261.5,511.5L261.8,508.1L262,506.9L262.2,507.6L262.5,505.4L262.8,505.7L263,504.6L263.5,503.7L263.8,501.1L264,501.5L264.2,496.5L264.8,500.8L265,500.6L265.2,502.3L265.5,502.4L265.8,502.2L266.5,506.6L266.8,505.9L267,507.1L267.2,506.4L267.5,510L267.8,508.8L268.2,510.9L268.8,511.9L269,515.6L269.2,511.6L269.5,511.9L270,509L270.2,509L270.8,507.3L271,508.1L271.5,505.2L271.8,505.2L272.2,503L272.5,503L272.8,503.6L273,505.5L273.2,505.1L273.5,506.4L274,505.3L274.5,508.1L274.8,507.4L275.2,509.1L275.5,508.3L275.8,508.2L276.5,511.7L277.2,512.7L277.5,510.5L277.8,510.2L278,510.8L278.2,506.4L278.8,504.5L279.2,504L279.5,504.3L279.8,504L280.2,500.3L280.5,499.7L280.8,500L281,499.8L281.2,502.5L281.8,503.1L282,505.3L282.2,505.5L282.8,507.4L283,505.6L283.2,505.7L283.5,506.2L284,509.3L284.2,508.2L284.5,512.3L284.8,511.4L285.2,514.8L285.8,508.8L286,509.3L286.5,506.7L286.8,506.5L287,504.1L287.2,506.4L288.5,499.1L288.8,499.8L289,499.7L289.2,502.9L289.5,502L289.8,504.7L290,505.5L290.2,504.4L290.5,505.3L291,505.3L291.5,507.8L291.8,507.4L292,509.2L292.2,509.3L292.5,508.5L292.8,512.9L293,513.7L295,506.6L295.2,508.2L295.5,507.7L296.2,502.2L296.5,501.4L297,502.4L297.2,500.4L297.5,504.3L298,507.2L298.2,505.7L298.5,505.3L298.8,507L299.2,507.6L299.5,507.5L299.8,508.6L300,508.6L300.5,510.2L300.8,509.5L301,512.6L301.2,513.5L301.5,513.7L302.2,507.4L302.5,508.3L303,506.9L303.2,507.6L303.5,506.2L303.8,507.1L304,503.5L304.8,498.9L305,500.9L305.2,501.4L305.8,504.1L306.5,505.6L306.8,508L307.2,507.7L307.5,508.6L307.8,508.5L308.2,510.3L308.8,509.9L309.5,512.2L309.8,514.4L310,509.1L310.5,510L311,507.9L311.2,508L311.5,505.7L311.8,506.1L312,503L312.2,502.1L312.5,504L312.8,501.4L313,501L314,505.7L314.2,506.5L314.5,505.9L315.2,509.1L315.5,507.3L315.8,508.2L316,511L316.2,509.1L316.5,511.1L316.8,510.6L317,511.5L317.2,511.4L317.5,514.7L317.8,510.8L318,510.6L318.2,507.4L318.5,507.8L318.8,507.1L319,507.4L319.2,504.5L319.5,504.5L319.8,504.8L320,504.2L320.8,499.5L321.2,501.4L321.5,501.6L322,504.3L322.2,503.6L322.5,503.8L322.8,505.3L323.5,506.6L324,507.1L324.2,509.1L325,512L325.2,511.7L325.8,512.8L326,512.6L326.5,510.9L327,507.1L327,570Z"/></clipPath>
<rect x="43.5" y="430.5" width="283.5" height="139.5" fill="#7f8081" clip-path="url(#co4)"/>
<path d="M43.5,430.5h0.7V570h-0.7ZM49,430.5h1.2V570h-1.2ZM56,430.5h1.4V570h-1.4ZM62.9,430.5h1.4V570h-1.4ZM69.1,430.5h1.3V570h-1.3ZM75.5,430.5h1.2V570h-1.2ZM80.8,430.5h1.1V570h-1.1ZM84.2,430.5h1.3V570h-1.3ZM89.3,430.5h1.1V570h-1.1ZM96.5,430.5h1V570h-1ZM100.6,430.5h1V570h-1ZM106.3,430.5h1.3V570h-1.3ZM111.9,430.5h0.8V570h-0.8ZM118,430.5h1.1V570h-1.1ZM122,430.5h1.1V570h-1.1ZM127.8,430.5h0.8V570h-0.8ZM131.2,430.5h1V570h-1ZM135,430.5h1.4V570h-1.4ZM138.9,430.5h0.7V570h-0.7ZM144.3,430.5h0.9V570h-0.9ZM146.9,430.5h1.3V570h-1.3ZM153,430.5h0.9V570h-0.9ZM156.6,430.5h0.8V570h-0.8ZM161.6,430.5h1V570h-1ZM164.6,430.5h0.8V570h-0.8ZM169.2,430.5h0.9V570h-0.9ZM174.7,430.5h1.3V570h-1.3ZM180.6,430.5h1.2V570h-1.2ZM186.6,430.5h0.8V570h-0.8ZM189.8,430.5h1.4V570h-1.4ZM193.8,430.5h0.8V570h-0.8ZM198.8,430.5h1.1V570h-1.1ZM203.8,430.5h1.2V570h-1.2ZM209.6,430.5h0.9V570h-0.9ZM216.8,430.5h1V570h-1ZM221.9,430.5h0.8V570h-0.8ZM225.2,430.5h0.8V570h-0.8ZM232.4,430.5h1.1V570h-1.1ZM236.5,430.5h0.8V570h-0.8ZM239.3,430.5h1.3V570h-1.3ZM242.9,430.5h1V570h-1ZM249.7,430.5h1.2V570h-1.2ZM253.3,430.5h1.3V570h-1.3ZM256.6,430.5h1.1V570h-1.1ZM260,430.5h1.2V570h-1.2ZM263,430.5h0.8V570h-0.8ZM270.4,430.5h1V570h-1ZM274.8,430.5h0.9V570h-0.9ZM279.8,430.5h0.8V570h-0.8ZM284,430.5h1.2V570h-1.2ZM291,430.5h1.1V570h-1.1ZM297,430.5h1.2V570h-1.2ZM300.7,430.5h1.2V570h-1.2ZM308.1,430.5h0.9V570h-0.9ZM311.7,430.5h1.4V570h-1.4ZM318.8,430.5h0.8V570h-0.8ZM323.9,430.5h1.4V570h-1.4Z" fill="#a2a5a6" clip-path="url(#co4)"/>
<path d="M43.5,570L43.5,499.8L44,499.2L44.2,497.6L44.5,497.4L44.8,498L45.2,495.2L45.8,494.9L46,490.7L46.2,490.9L46.5,490.3L46.8,490.7L47,492L47.5,488.1L47.8,488.3L48,487.7L48.5,483.7L48.8,484.7L49,484.1L49.2,484.2L49.5,481.3L49.8,481.7L50.5,480.3L51,476.4L51.2,477.5L51.5,476.3L52.5,497.3L52.8,496.2L53,500.2L54.2,536.4L54.8,523L55,537.1L55.2,511L56,498L57,493.4L57.2,493.1L57.8,497.1L58.5,508.1L58.8,508.7L59,512.2L59.8,498.6L60.2,493.6L61,499.6L61.5,509.8L62.2,533.8L62.8,520L64.2,496.5L64.5,496.2L64.8,496.7L65,495.7L65.2,495.4L67,511L67.2,511.5L67.5,505.5L68.5,495.8L68.8,496.4L69,499.3L69.2,522.7L69.5,505.9L70.2,525.8L70.5,524.2L70.8,516.6L71.2,511.7L71.5,526.5L71.8,500.2L72,500.6L72.2,498.1L72.8,500.8L73,498.5L73.2,502.1L73.5,502L73.8,502.8L74.2,506.9L74.5,507.2L74.8,510.2L75.2,512.2L75.5,507.9L75.8,508L76.5,502.6L77.2,501.2L78.2,514L78.8,510.2L79,505.3L79.2,504.4L79.8,499.3L80,516.3L80.2,501.8L80.5,503.3L81.2,505.3L81.5,504.1L81.8,504L82,506.7L82.2,507.7L82.5,511.3L82.8,510.8L83,512.9L83.2,513.5L84.2,506.4L84.5,502.8L84.8,503.3L85,505L85.5,502.2L85.8,502.6L86,503.6L86.2,508.2L87.2,499.4L87.5,501.5L87.8,509.7L88,502.9L88.2,503.3L88.8,505.6L89,504L90.2,509.4L90.5,507.3L91,512.6L91.2,512.4L91.5,512.5L92.2,506.6L92.5,506.6L93,501.7L93.2,502.8L94,498.6L94.5,503.1L95,500L95.5,499.7L96.5,503.7L96.8,502.8L97,504.9L97.2,502.7L97.5,505L97.8,505.3L98,508L98.2,507.6L98.8,512.5L99,511.5L99.5,514.4L99.8,513.5L100,509.4L100.8,506.1L101,505.6L101.2,508.5L101.5,508.7L101.8,504.2L102,510.5L102.2,501.3L102.5,501.3L102.8,500.6L103,501L103.2,503.6L103.5,503.2L103.8,504.2L104,504.5L104.2,503.7L104.5,506.6L104.8,505.9L105,509.7L105.2,507.7L105.8,508.6L106.2,510.8L106.5,509.5L106.8,509.7L107.2,513.7L107.5,514.5L107.8,512L108.5,508.9L108.8,506.7L109,506.4L109.5,507.2L110.2,501.7L110.5,501.8L110.8,499.5L111.2,502.1L111.5,502.5L111.8,504.3L112.2,505.2L112.5,506.3L112.8,506.7L113.5,505.1L114,509.6L114.2,509.4L114.5,511.3L114.8,510.6L115.5,514.2L116,511.6L116.2,508.5L116.5,510.5L116.8,506.8L117,506.1L117.2,506.4L117.5,506.3L117.8,505.3L118.2,504.5L118.5,501.3L119,499.6L119.2,501.7L119.5,501.7L119.8,503L120,502.7L120.5,507.9L121,506.4L121.2,508.3L121.5,506.5L121.8,508.3L122,508L122.2,508.6L122.5,510.4L123,510L123.2,512.8L123.5,513.8L123.8,513.8L124.2,508.9L124.5,509L125,505.7L125.2,506L125.5,504.1L125.8,505L126.2,503.7L127,498.8L127.5,502.2L128,504L128.2,504L128.5,505.5L128.8,504.4L129,504.7L129.2,506.6L129.5,506.4L129.8,507.3L130.2,506.2L130.5,509.6L130.8,510.1L131,512.2L131.2,511.7L131.8,514.6L132.2,508.7L132.5,507.5L132.8,509.3L133,507.6L133.2,507.4L133.5,506.4L133.8,507.3L134.5,501.8L134.8,502.9L135,499.1L135.5,503.3L135.8,501.9L136.2,504.8L136.5,504.6L137,506.2L137.2,507.9L137.5,507.3L137.8,507.3L138,506.6L138.2,506.8L138.5,509.1L139,511.5L139.2,510.8L139.5,513.4L139.8,511.9L140,512.4L140.5,509L140.8,508.5L141,508.4L141.2,506.8L141.5,506.3L141.8,506.6L142.2,504.4L142.5,504.8L143,500.1L143.2,501.2L143.5,500.8L143.8,501.8L144,505.3L144.2,504.7L144.5,504.5L144.8,505.9L145,505.6L145.2,505.9L145.5,508.1L145.8,506.7L146.2,510.1L146.5,508.1L146.8,510.1L147,510.4L147.2,510.4L147.8,513.7L148,513.8L148.5,508.7L148.8,508.7L149,505.6L149.2,505L149.5,506.6L149.8,504L150,505.4L150.5,502.6L151,501.2L151.2,497.8L151.5,497.5L152,502.5L152.5,502.8L153,506L153.2,505.8L153.5,507.1L153.8,506.1L154,507.1L154.2,506.1L154.8,509.9L155,509L155.5,512.7L155.8,512.8L156,514.3L156.2,513.5L157,506.4L157.2,507.3L157.5,506L157.8,507.7L158,504.6L158.2,504.6L159,500.2L159.5,499.3L159.8,501.4L160,501.7L160.2,501.4L160.5,506.2L160.8,503.7L161.2,505.6L161.5,505.4L162,508.5L162.2,507.8L162.5,508.3L162.8,510.9L163,509.1L163.2,510.1L163.5,513.2L163.8,513.1L164,514.1L164.8,509.3L165,509L165.2,506.5L165.5,507.6L166,505.8L166.2,507.8L166.5,505.2L167.2,501L167.5,500.5L168,503.9L168.2,503.4L168.5,505.5L168.8,505.6L169,512L169.2,508.3L169.5,508.5L169.8,506.1L170.2,508.8L170.5,508L171.2,512.5L171.5,511.4L171.8,511.7L172,511.3L172.2,513.3L173,507.2L173.2,507.5L173.5,507.1L173.8,504.8L174,506.4L174.2,503.9L174.5,503.7L175,499.7L175.2,500L175.5,497.2L175.8,500.2L176,501.2L176.2,500.8L176.5,505.3L176.8,504.1L177,503.9L177.2,505.1L178.2,506.6L178.5,505L179,509.5L179.8,510.9L180,514.6L180.2,513.8L180.5,514.3L181,507.7L181.2,507.6L181.8,508L182,506.7L182.2,516.1L182.5,504.9L183,502.5L183.2,502.7L183.5,500.1L184,502.9L184.2,501.5L184.5,504.8L184.8,504.1L185.8,507.6L186.2,506.3L186.5,508.7L186.8,507L187,509.6L187.2,509L187.5,511.1L187.8,510.1L188.2,512.6L188.5,510.4L189,512.4L189.8,505.6L190,505.3L190.2,506.7L190.5,504.2L190.8,504.2L191.2,500.6L191.5,500.3L191.8,514.6L192,500.1L192.2,500.1L192.8,503.3L193,503.3L193.8,507.3L194.5,506L194.8,506.1L195,506.8L195.2,509.6L195.5,510.2L196,514L196.2,512.8L196.5,514.3L196.8,510.7L197,510.5L197.5,506.7L197.8,507.8L198,506.1L198.2,507.1L199,503.2L199.2,503.1L199.8,499.4L200,507.9L200.2,501.5L201,505.2L201.2,505.3L201.5,506.7L201.8,506L202,506.6L202.2,505.6L202.8,508.8L203,508.1L203.2,509.6L203.5,508.7L203.8,511.7L204.2,513.5L204.5,513.8L205,507.6L205.2,508.6L205.5,506L205.8,506.9L206,506.4L206.2,505.6L206.5,503.2L206.8,503.5L207,502L207.2,515.5L207.5,499.2L207.8,495.2L208.2,502.1L208.5,501.5L209.2,506.2L209.5,504.5L210,506L210.2,505.1L210.5,505.2L210.8,506.7L211,506.7L211.2,509.7L211.5,508.9L211.8,511.4L212,512.1L212.2,511.6L212.5,514.2L212.8,510.7L213.2,509.1L213.5,509.9L213.8,513L214,506.9L214.2,506.3L214.8,507.3L215,504L215.2,505.2L215.5,503L215.8,502.7L216,501.2L216.5,502.3L216.8,505.1L217,504.5L217.2,505.4L217.8,505.9L218,506.7L218.2,505.5L218.5,508.5L218.8,507.4L219.2,510.2L219.5,509.6L220,512.6L220.2,512.1L220.5,513.8L220.8,512L221,511.8L221.2,508.9L221.5,508.7L221.8,507.9L222.2,505.3L222.5,506.9L223.2,503.9L223.5,504.7L223.8,500L224,499.4L224.8,505.6L225,505.8L225.2,505.4L225.8,508.2L226,507.6L226.2,508.9L226.5,508.8L226.8,507.6L227.2,510.2L227.8,511.1L228,510.6L228.2,511.3L228.8,513.8L229.2,508.5L229.5,508.9L229.8,508.4L230,506.3L230.2,507.7L230.5,504.9L230.8,504L231,504.1L231.2,506.5L231.5,502L231.8,500L232.2,498.1L232.5,502.3L232.8,503.1L233,502.5L233.2,504.4L233.5,504.1L233.8,511.2L234,506.8L234.2,507.5L234.5,506.8L234.8,507.4L235,506.6L235.5,510.6L235.8,508.7L236.2,512.6L236.5,510.7L236.8,513.9L237.2,509.7L237.5,514L237.8,507.5L238,506.4L238.2,506.6L239,504L239.2,505L240,496.7L240.8,502.3L241,511.5L241.2,500.9L241.8,505.1L242,512.8L242.2,505.1L242.5,506.3L242.8,506L243,507.7L243.2,507.6L243.5,508.1L244,510.9L244.2,509.7L244.5,512.4L245,514.1L245.8,506.8L246.2,507.2L246.5,506.3L246.8,506.3L247,505.3L247.2,506.3L247.5,505.7L248,500.7L248.5,500.1L248.8,502.7L249,503.4L249.5,506.8L250,507L250.2,506.9L250.5,505.4L251.2,509.7L251.5,507.9L252,512.5L252.2,510.6L252.8,512.7L253,512.9L254.2,506.4L254.5,505.8L254.8,512.6L255,503.9L255.5,505.2L255.8,500.4L256.2,497.5L257,502.9L257.2,502.5L258,504.6L258.2,506.5L258.8,505.7L259,506.7L259.2,505.5L259.5,509.9L259.8,508.2L261,513.5L261.2,511.9L261.5,511.5L261.8,508.1L262,506.9L262.2,507.6L262.5,505.4L262.8,505.7L263,504.6L263.5,503.7L263.8,501.1L264,501.5L264.2,496.5L264.8,500.8L265,500.6L265.2,502.3L265.5,502.4L265.8,502.2L266.5,506.6L266.8,505.9L267,507.1L267.2,506.4L267.5,510L267.8,508.8L268.2,510.9L268.8,511.9L269,515.6L269.2,511.6L269.5,511.9L270,509L270.2,513.8L270.5,508L270.8,507.3L271,508.1L271.5,505.2L271.8,505.2L272.2,503L272.5,503L273,505.5L273.2,505.1L273.5,506.4L274,505.3L274.5,508.1L274.8,507.4L275.2,509.1L275.5,508.3L275.8,508.2L276.5,511.7L277.2,512.7L277.5,510.5L277.8,510.2L278,510.8L278.2,506.4L278.5,517.1L278.8,504.5L279.2,504L279.5,504.3L279.8,504L280,512.4L280.2,500.3L280.5,499.7L280.8,500L281,499.8L281.2,502.5L281.8,503.1L282,505.3L282.2,505.5L282.8,507.4L283,505.6L283.2,505.7L283.5,506.2L284,509.3L284.2,508.2L284.5,512.3L284.8,511.4L285.2,514.8L285.8,508.8L286,509.3L286.5,506.7L286.8,506.5L287,504.1L287.2,506.4L288.5,499.1L288.8,499.8L289,499.7L289.2,502.9L289.5,502L290,506.9L290.2,504.4L290.5,505.3L291,505.3L291.5,507.8L291.8,507.4L292,509.2L292.2,509.3L292.5,508.5L292.8,512.9L293,513.7L295,506.6L295.2,508.2L295.5,507.7L295.8,505.1L296,506.7L296.2,502.2L296.5,501.4L297,502.4L297.2,500.4L297.5,504.3L298,507.2L298.2,505.7L298.5,505.3L298.8,507L299.2,507.6L299.5,507.5L299.8,508.6L300,508.6L300.5,510.2L300.8,509.5L301,512.6L301.2,513.5L301.5,513.7L302.2,507.4L302.5,508.3L303,506.9L303.2,507.6L303.5,506.2L303.8,507.1L304,503.5L304.8,498.9L305,500.9L305.2,501.4L305.8,504.1L306.5,505.6L306.8,508L307.2,507.7L307.5,508.6L307.8,508.5L308.2,510.3L308.8,509.9L309.5,512.2L309.8,514.4L310,509.1L310.5,510L311,507.9L311.2,508L311.5,505.7L311.8,506.1L312,503L312.2,502.1L312.5,504L312.8,501.4L313,501L314,505.7L314.2,506.5L314.5,505.9L315.2,509.1L315.5,507.3L315.8,508.2L316,511L316.2,509.1L316.5,511.1L316.8,510.6L317,511.5L317.2,511.4L317.5,514.7L317.8,510.8L318,510.6L318.2,507.4L318.5,507.8L318.8,507.1L319,507.4L319.2,504.5L319.5,504.5L319.8,504.8L320,504.2L320.8,499.5L321.2,501.4L321.5,501.6L322,504.3L322.2,503.6L322.5,503.8L322.8,505.3L323.5,506.6L324,507.1L324.2,509.1L325,512L325.2,511.7L325.8,512.8L326,512.6L326.5,510.9L327,507.1L327,570Z" fill="url(#pr3)"/>
<rect x="43.5" y="430.5" width="283.5" height="139.5" fill="none" stroke="#262626" stroke-width="1.5"/>
<path d="M43.5,570v-3M43.5,430.5v3M67.1,570v-3M67.1,430.5v3M90.8,570v-3M90.8,430.5v3M114.4,570v-3M114.4,430.5v3M138,570v-3M138,430.5v3M161.6,570v-3M161.6,430.5v3M185.2,570v-3M185.2,430.5v3M208.9,570v-3M208.9,430.5v3M232.5,570v-3M232.5,430.5v3M256.1,570v-3M256.1,430.5v3M279.8,570v-3M279.8,430.5v3M303.4,570v-3M303.4,430.5v3M327,570v-3M327,430.5v3M43.5,570h3M327,570h-3M43.5,523.5h3M327,523.5h-3M43.5,477h3M327,477h-3M43.5,430.5h3M327,430.5h-3" stroke="#262626" stroke-width="1.5" fill="none"/>
<text x="39.5" y="575.3" text-anchor="end" font-size="14.7" fill="#262626">0</text>
<text x="39.5" y="528.8" text-anchor="end" font-size="14.7" fill="#262626">200</text>
<text x="39.5" y="482.3" text-anchor="end" font-size="14.7" fill="#262626">400</text>
<text x="39.5" y="435.8" text-anchor="end" font-size="14.7" fill="#262626">600</text>
<text transform="translate(53.7,585.5) rotate(-45)" text-anchor="end" font-size="14.5" fill="#262626">0</text>
<text transform="translate(77.3,585.5) rotate(-45)" text-anchor="end" font-size="14.5" fill="#262626">2</text>
<text transform="translate(101,585.5) rotate(-45)" text-anchor="end" font-size="14.5" fill="#262626">4</text>
<text transform="translate(124.6,585.5) rotate(-45)" text-anchor="end" font-size="14.5" fill="#262626">6</text>
<text transform="translate(148.2,585.5) rotate(-45)" text-anchor="end" font-size="14.5" fill="#262626">8</text>
<text transform="translate(171.8,585.5) rotate(-45)" text-anchor="end" font-size="14.5" fill="#262626">10</text>
<text transform="translate(195.4,585.5) rotate(-45)" text-anchor="end" font-size="14.5" fill="#262626">12</text>
<text transform="translate(219.1,585.5) rotate(-45)" text-anchor="end" font-size="14.5" fill="#262626">14</text>
<text transform="translate(242.7,585.5) rotate(-45)" text-anchor="end" font-size="14.5" fill="#262626">16</text>
<text transform="translate(266.3,585.5) rotate(-45)" text-anchor="end" font-size="14.5" fill="#262626">18</text>
<text transform="translate(289.9,585.5) rotate(-45)" text-anchor="end" font-size="14.5" fill="#262626">20</text>
<text transform="translate(313.6,585.5) rotate(-45)" text-anchor="end" font-size="14.5" fill="#262626">22</text>
<text transform="translate(337.2,585.5) rotate(-45)" text-anchor="end" font-size="14.5" fill="#262626">24</text>
<text x="186.2" y="423.7" text-anchor="middle" font-size="16.3" font-style="italic" fill="#000">Tout=-20°C</text>
<text x="185.2" y="614" text-anchor="middle" font-size="15.9" fill="#262626">Time/h</text>
<text transform="translate(11.7,501.1) rotate(-90)" text-anchor="middle" font-size="15.8" fill="#262626">Number of TCLs</text>
<rect x="219.8" y="442" width="33" height="12.4" fill="#e8282d"/>
<rect x="219.8" y="459.4" width="33" height="11.8" fill="#000"/>
<text x="255.3" y="453.8" font-size="14.1" fill="#000">Switch on</text>
<text x="255.3" y="470.6" font-size="14.1" fill="#000">Switch off</text>
<path d="M393.5,570L393.5,480L393.8,475.5L394.5,472.8L394.8,470.2L395,471.7L395.2,466.4L395.5,466.4L396,461.7L396.5,459.9L396.8,467.4L397,455.9L397.2,455.7L398,449.6L398.2,449.3L398.5,445.8L398.8,447.1L399,441.8L399.5,449.6L399.8,466.5L400,457.9L400.2,459.9L402.2,492.3L403.5,478.9L403.8,482.2L404.2,471.7L405,465.8L405.2,462L405.5,462L406.8,448.8L407,447.9L410,485.9L410.2,491.4L410.5,490.2L410.8,486.7L411,487.6L411.2,483.1L411.8,478.9L412,478L412.2,474.7L412.8,471.9L413,467.6L413.5,464.7L413.8,461.6L414,461.7L414.5,454.1L414.8,452.9L415,462.2L415.2,454.2L416.8,473.6L417.2,477.3L418.2,491.9L418.5,492L418.8,490.5L419,485.3L419.2,485.4L419.5,484.3L420,477.8L420.2,478.1L420.5,476.4L421.5,465.4L421.8,465.4L422.8,456.1L423,455.3L424.8,473.1L425.5,484L425.8,484.1L426,488.6L426.5,492.5L427.8,482.7L428,478.9L428.2,478.9L428.5,474.5L428.8,474.9L429.5,466.8L429.8,466.8L430.5,459L430.8,458.8L431.2,454.3L432.5,471.9L432.8,489.2L433,477.8L433.8,484.5L434.2,492.9L434.5,492.6L434.8,490L435,491L435.5,484L436,482.8L436.2,477.7L436.5,479L437,471.8L437.2,471.4L437.5,466.6L438.2,463.9L439,454.8L439.2,457.7L439.5,457.9L440.8,475.7L441.2,478.4L441.5,485.2L441.8,486L442.2,492.2L442.5,492.4L442.8,491.7L443.8,483.1L444.2,480.5L444.8,475.4L445.2,473L445.8,467.9L446,468L446.8,460.9L447,460.5L447.5,461.3L450.5,496.2L451.5,486.8L451.8,486L452,483.2L452.2,482.8L452.5,479L453,475.9L453.2,476.1L453.5,470.3L453.8,471.7L454.2,466.4L454.5,466.3L454.8,462.2L455.2,459.4L455.5,464.3L455.8,464.3L456.5,472.5L457.2,485L457.5,484.9L457.8,486.7L458,491.4L458.2,491.3L458.5,496.9L460,484.3L460.2,480.8L460.5,481.9L460.8,476.6L461,476.6L461.2,474.5L461.5,474.1L461.8,469.5L462,468.7L462.5,464.9L462.8,460.8L463,460.6L463.2,458.8L466.5,496.9L466.8,493.2L467,493.9L468,484.7L468.2,484.9L468.5,484.3L469,477.5L469.2,476.1L469.5,477.1L469.8,473.4L470.5,467.6L470.8,468L471.2,461.9L472,472L472.2,472.3L472.5,474.8L474.5,497.4L474.8,493.5L475,494.5L476,486.4L476.2,493.4L476.5,482.6L476.8,482.5L477.2,476.9L477.8,474.6L478.5,468.1L478.8,467.6L479,463.7L479.2,463.5L479.5,463.7L479.8,468.9L480.2,472.4L480.5,476.5L480.8,475.9L481.5,487.6L482,491.8L482.2,496.1L482.5,496.6L482.8,496.2L483,493.6L483.2,493.7L483.8,491.2L484.8,483.7L485,484.4L485.2,480.6L485.5,480.1L485.8,477.7L486,477.4L487,469.2L487.2,468.8L488,474.9L488.2,475.8L489.2,486.1L489.5,486.6L489.8,491.8L490,492.7L490.5,499.1L490.8,499.2L491,493.9L491.2,495.2L491.8,489.4L492.5,486.5L492.8,483.8L493,489.8L493.5,476.8L494.2,472.3L494.8,467.9L495,468.8L495.2,465.7L495.5,466.8L495.8,480.5L496,470.9L496.2,475.8L496.5,476.4L497,483.7L497.5,486.2L498.5,498.5L498.8,498.4L499,496.8L499.2,493L499.5,494L499.8,493.5L500.2,487.8L500.5,488.5L500.8,484.9L501.5,479.1L501.8,478L502,479L502.2,475.7L502.5,475.4L502.8,473.9L503,469.9L503.2,471L503.5,470.5L503.8,473.3L504,473.6L504.2,474.9L505.2,484.7L505.5,489.8L506,493L506.5,498.3L506.8,499.1L507,498.9L508.5,486.8L508.8,487.1L509,483.4L509.5,481.6L509.8,478L510.2,476.8L510.5,473.2L510.8,472.8L511,471.2L511.2,468.3L511.8,469.9L512.8,482.7L513.2,486.6L513.5,487.1L514.5,500.2L515,498.6L515.5,493.5L515.8,494.5L516.5,488.4L517.2,484.9L517.5,482.6L518.5,478.3L518.8,474.1L519,483.5L519.2,473.3L519.5,471L519.8,475.2L520,489.9L520.2,477.8L520.8,484.1L521,484.2L521.8,490.7L522,495.6L522.5,499.1L522.8,499.6L523,498.9L523.2,495.5L523.8,493.4L524,490.5L524.5,489.6L525.5,482.9L525.8,478.7L526,478.1L526.2,478.1L527,469.7L527.5,469.5L527.8,470.3L528,475.4L528.2,474.2L529.2,486.8L530.5,497.3L530.8,501.3L531.2,498L531.5,497.6L531.8,492.8L532.8,489.5L533.2,484.7L533.5,484.6L534,481L534.5,479.4L535.5,471.6L535.8,475.7L537,484.4L537.5,490.5L537.8,505.4L538,493.5L538.2,494.1L539,500.6L539.2,497.2L539.8,496.9L540.2,492.4L540.5,492.3L540.8,490.9L541,487.6L541.2,487L541.5,487.2L541.8,484.1L542,484.1L542.2,481.8L542.5,481.2L542.8,476.6L543,476.3L543.2,477L543.5,473.8L544.5,483L544.8,482.2L545,486.7L545.5,489.2L546.8,500L547,498.1L547.8,495.5L548,501.6L548.2,492.4L549,488.9L549.2,497L549.5,486.3L549.8,485.6L550.8,478L551.8,474.9L552.5,482.1L553,483.8L553.2,487.6L553.5,488.4L554,494.4L554.2,494.7L554.8,500.5L555,498.5L555.2,508.7L555.5,496.2L555.8,494.9L556,496.6L556.2,491.6L556.8,487.6L557,489.1L557.2,485.7L557.5,485.5L558.2,478.6L559.2,475.6L559.5,473L559.8,473.9L560.2,479L560.5,479L561,485L563,500.5L563.8,495.3L564,494.9L564.2,493.4L564.5,493.4L564.8,488.5L565,489.4L565.2,487.8L565.5,487.6L565.8,484L566,482.8L566.2,482.9L566.8,478.4L567,479.3L567.5,474L567.8,478.9L568,477.9L568.2,481.3L568.8,482.8L569,486.6L571,500.1L571.5,496.5L571.8,496.3L572.2,493.3L573,487L573.2,487.7L574,481.4L574.2,481.3L574.5,480.5L575.5,472L576.8,480.8L577.8,491.3L578.2,494.3L579,501.3L579.8,494.5L580,494.6L580.2,493.4L580.5,490L580.8,490.9L581.5,484.1L581.8,485.2L582.5,478.5L582.8,479L583.5,474.8L584,474.7L584.8,483.7L585,484.6L585.2,487.7L585.5,487.5L586,491.1L586.5,497.7L586.8,498.2L587,500.1L587.2,498.3L587.5,498.1L587.8,505.6L588,496.3L588.5,492.1L588.8,491.1L589,490.9L589.2,488.3L589.8,486.3L590,486L590.2,484L590.8,482.3L591,489.9L591.2,478.8L591.5,479.2L591.8,477.2L592,480.5L592.2,480.5L592.5,483L592.8,481.8L593,486.2L593.2,486.4L594.2,496.7L594.5,496.8L595,499.8L595.2,499.4L595.5,497.4L595.8,497.4L596.5,491.2L596.8,493.1L597.2,487.4L597.5,487.2L597.8,487.5L598.5,481.2L598.8,481.3L599.2,477.8L599.8,475.9L600,476.3L600.2,479.7L600.8,483.2L601,483.9L602,493.5L602.2,492.7L603,501.2L603.2,500.6L605.2,488.8L605.5,489L605.8,485.6L606,485.1L607.2,477.6L607.5,479.2L607.8,472.9L608.8,484.5L609,486.1L609.2,486.2L609.5,487.6L610.2,494.5L610.5,494.6L610.8,500.6L611.2,498.2L611.5,498.8L611.8,494.8L612.5,493.4L613,489.5L613.2,489.3L613.8,485.3L614.2,483.4L615.2,477.3L615.5,477L615.8,474.5L616,487.5L616.2,477.4L617,482.6L618,493.1L618.5,496.8L619.2,500.3L619.8,499.2L620,495.7L621,488.2L621.2,488.3L621.5,489L621.8,485.9L622,486.2L622.5,481L622.8,485.3L623.8,473.6L624.2,479.4L624.5,480L625.2,487.1L625.5,487.4L625.8,490.7L626,490.9L626.5,496L627.2,500.4L627.8,496.6L628,497L628.2,494.8L628.5,499.7L628.8,491.8L629,490L629.2,490.1L629.5,487L629.8,487.5L630.8,480.1L631,481.6L631.2,478.6L631.5,478.9L631.8,475.7L632.2,478.6L632.5,478.5L633.5,489.2L633.8,489.7L634.2,495.6L634.5,495.3L634.8,497.2L635.2,503.2L635.8,497.3L636,496.7L636.2,494.6L636.5,494.6L637,490.9L637.2,492.2L637.5,488.6L638.5,484L639,479.9L639.5,480.8L639.8,477.6L640,476.7L640.2,480.6L640.5,479.5L641,485.7L641.2,485.4L643,500.5L643.8,499.1L644.5,495.2L644.8,491.8L646,486.1L646.2,485.8L646.5,483.6L646.8,483.6L647,481.4L647.2,481.2L647.5,478.6L647.8,477.6L648,477.4L648.8,481.6L649,485L649.2,485.5L649.8,491L650,490.4L651,500.3L651.2,500.5L651.5,498.9L651.8,499L652.2,493.9L652.5,494.1L652.8,493.9L653.2,489.1L653.5,490.9L653.8,485.9L654,484.6L654.2,484.8L654.8,480.7L655,481L656,473.2L657.2,485.3L657.5,485.9L658,489.6L658.2,493.9L658.5,493.9L658.8,497.4L659.2,500.3L659.5,500.7L660.2,496.3L660.5,496.7L660.8,492.1L661,491.4L661.5,488.2L661.8,490L662,485.6L662.2,487.3L662.5,484.1L663,482.2L663.8,476.6L664.5,479.2L665,485.1L665.5,487.3L665.8,487.3L666.5,495.8L666.8,495.6L667.2,502.3L667.8,498L668,497.9L668.2,495.6L668.8,494.2L669.2,490L669.5,489.2L669.8,490.4L670,487.3L670.2,487.3L670.8,482L671,481.6L671.2,481.7L671.5,478.7L672,477.7L672.8,483.6L673,483.1L674,493.9L674.2,492.9L674.8,497.9L675,497.5L675.5,501L676,499.1L676.2,495.5L676.5,495.3L676.5,570Z" fill="#ec7477"/>
<clipPath id="co5"><path d="M393.5,570L393.5,528L394,524.8L394.5,524.3L394.8,519.4L395,521L395.2,518.6L396.2,514.3L397,509.3L397.2,505.6L397.5,507.4L397.8,504.1L398.5,502.4L399.5,495.3L399.8,495.4L400,491.9L400.2,491.7L401,487.8L401.5,483.2L401.8,483.2L402.2,478.8L402.8,478L403.8,502L404.8,519.7L405.5,525.2L406.2,535.1L406.5,533.9L407,538.1L407.2,537.4L407.5,537.5L407.8,535.3L408,534.6L409.2,520.4L410.8,481.8L411.5,500.2L413.2,524.5L414,530.6L414.2,530.5L414.8,535.6L415,534L415.2,536.4L415.5,535.5L415.8,537.1L416,533.5L416.2,534.6L416.8,526.4L417.5,518.6L418.2,504.5L418.8,488.5L419.8,508L421.2,525.9L422.2,532.3L422.5,532.8L422.8,532.5L423.2,535.7L423.5,532.5L424,536L424.2,533.3L424.5,532.6L424.8,528.1L425,527.1L425.8,515.3L426.8,491.9L427.8,509.4L428.5,515.8L429.5,528L430.5,533.3L430.8,533.6L431,533.2L431.2,535.6L431.5,535.4L431.8,535.7L432,531.8L432.5,530.3L433,526.8L434.2,507.9L434.8,494.1L435,494.6L436,511.6L436.2,513.2L436.8,520.7L437,520.4L438,530.3L439,533L439.2,535.1L439.5,533.1L439.8,534.9L440.2,529.7L440.5,529.7L440.8,529.2L441.2,524.1L442,512.4L442.8,494.7L443,496.5L443.5,505.6L443.8,506.8L444.5,516.9L444.8,517.9L445,522.4L445.8,527.8L446.2,530.1L446.5,533.2L447,533.5L447.2,532.6L447.5,533.6L448.2,531.4L448.5,532.1L448.8,526.4L449.2,523.6L449.8,516.6L450.5,500.5L451,495.7L452.2,513.9L453.8,526.7L454.2,529.2L454.5,529L454.8,531.1L455,531.1L455.2,532.5L455.5,532.6L455.8,533.4L456,532L456.2,531.5L456.5,531.6L457,526.9L459,496L460.2,513.1L460.8,516.3L461.2,522.6L462,528.1L462.2,527.8L462.5,530.5L462.8,531.1L463,531.3L463.2,530.7L463.5,531.1L463.8,532.3L464.2,530.8L464.5,528.5L465,526.3L466,515.2L467,494.7L467.8,507.8L469.2,522.3L470.5,529.7L470.8,530.1L471,530L471.2,529.2L471.5,530.7L471.8,531.2L472,530.9L472.2,528.6L472.5,529.4L473.2,523.7L474.2,511.5L475,497.3L475.2,498.7L476,510.9L476.2,510.2L477.2,521.9L477.8,524.2L478.2,528.1L478.5,527.9L478.8,528.1L479,529.8L479.2,528.6L479.8,530.5L480,530.7L480.2,530.3L480.5,527.6L480.8,528.5L481,525L481.2,523.2L481.5,522.7L483,501.3L483.8,510.7L484.2,512.7L484.5,517.9L484.8,517.1L485,519.8L486,526.2L486.2,524.6L486.5,528.7L487,527.2L487.2,529L487.5,528.4L488,529.7L488.2,527.9L488.8,526.7L489.8,517.7L491,498.3L491.5,504.3L491.8,505L492,509.9L492.2,510.8L493.2,521.2L493.5,521.8L493.8,523.6L494,523.5L494.2,526.1L494.5,527L494.8,526.6L495,529.4L495.5,527.4L495.8,528.7L496,527.6L496.2,530.6L496.5,527.7L496.8,526L497,525.7L497.2,521.7L497.5,521.7L499,500.5L499.5,503.4L500,510.7L500.2,511.2L500.5,512.7L501.2,521.3L501.5,522L501.8,521.9L502.2,526.6L502.5,525.6L502.8,528.1L503.2,526L503.5,528L503.8,526.9L504,528.2L504.8,524.6L505,524.5L505.2,521.3L505.5,520.5L505.8,521.1L506.2,512.1L506.5,512.2L507,501.5L507.2,502.4L508.2,512.5L508.8,515.8L509,516.4L509.2,519.9L509.5,520.3L510,523.2L510.2,523.4L510.5,526.5L510.8,526L511,524.4L511.5,526.8L511.8,526L512.2,527.5L512.8,524L513,523.8L513.2,520.4L513.5,519.7L514,515.6L514.2,510.3L514.5,506.8L514.8,506.6L515,501.7L515.2,501.9L515.5,502.8L516.5,514.1L516.8,513.8L517.5,520.9L518,521.6L518.2,524L518.5,522.5L519,525.8L519.2,525.8L519.5,527L519.8,526.3L520,527.8L520.2,527.4L520.5,523.6L520.8,524.7L521,522.9L521.2,522.9L521.5,520L522,517.9L523,502.5L523.2,501.8L523.5,506.2L524.8,516.9L525,517.2L525.5,522.4L525.8,523.8L526.2,524.6L527,527.2L527.5,526.2L527.8,526.4L528,528.4L528.5,524.6L528.8,525.7L529,522.2L529.2,522.4L529.5,521.8L529.8,517.3L530,516.5L530.2,514.2L530.8,506.2L531.2,502.8L532,508.6L532.2,513.9L532.5,513.2L533,517.5L533.5,519.5L533.8,522.9L534,523.8L534.2,523.7L534.8,525.3L535,525.4L535.2,524.3L535.5,526.9L536,525.9L536.2,526.8L536.5,526.4L537,523.7L537.2,523.5L538.2,513.8L538.5,513.3L538.8,508.3L539.2,503.4L539.8,508.9L540.2,510.3L540.5,513.9L540.8,514.7L541.2,519.6L542,523.3L542.2,522.9L543.5,526.8L543.8,525.6L544,526.7L544.2,525.3L544.5,524.9L544.8,523L545,524.2L545.2,521.2L545.5,521.8L546.2,512.7L546.5,512.8L546.8,506.4L547.2,501.2L547.5,505.1L548.2,509.1L549.2,519.4L549.5,519.7L549.8,521.4L550,521L550.2,524.5L550.8,524.4L551,524.8L551.2,527.1L551.5,526.7L551.8,528.4L552,525.7L552.2,526.7L552.8,525.7L553,522.7L553.2,522.9L553.5,522.1L553.8,518.4L554.5,513L555.2,502.5L555.8,505.9L556,509.8L556.2,510.4L556.8,516L557,515.8L557.5,520.3L557.8,521.5L558,520.9L558.5,525.5L559,524.9L559.2,526.2L559.5,525.1L559.8,526.6L560,525.7L560.2,526.1L561,523.9L561.2,523.8L561.5,520L561.8,519.7L562,518.1L562.8,507.6L563,507.6L563.2,501.8L563.8,506.5L564,507.1L564.2,511.3L564.8,514.7L565,515.2L565.2,518.6L565.5,518.9L565.8,520.3L566,523.5L566.2,519.8L566.5,523.3L567,524.2L567.8,528.1L568,526.7L568.8,524.8L569.5,520.5L570.2,513.2L570.5,512.5L571.2,500.6L572.2,508.6L572.5,509L573,515.3L573.2,516.4L573.5,516.4L573.8,520.1L574,520.2L574.5,524L575,524.6L575.2,524.1L575.5,526.4L575.8,524.6L576,526.2L576.2,526.1L576.8,526.8L577,523.9L577.2,523.4L577.8,519.6L578,519.1L579.2,502.2L579.5,502.8L579.8,504.6L580.8,513.4L581,513.4L581.5,520L581.8,519.3L582,521.6L582.2,521.9L583.2,525.7L583.5,523.8L584,526.9L584.5,524.5L585,525.2L585.5,520.9L585.8,520.3L586.2,516.4L586.8,508.8L587.5,502.8L588.8,514.9L589.5,519.2L589.8,518.3L590.2,522.6L590.5,523L590.8,522.9L591,523.5L591.2,526L591.8,526.6L592.2,525.8L592.5,524L592.8,523.5L593,524.7L593.2,525L594.2,514.7L594.5,513.7L595,505.5L595.2,505L595.5,502.3L595.8,502.1L596.2,508.4L596.5,507.2L597.2,518.3L597.5,517.9L597.8,518.9L598,521.3L598.2,520.3L598.5,523.5L598.8,522.3L599.2,525.4L599.8,524.2L600.2,527L600.5,524.7L600.8,525.2L601.2,522.1L601.5,521.5L601.8,518.7L602,518.2L603.5,498.9L603.8,504.1L604,504.4L605,514.5L605.2,515.3L605.8,521.4L606,520.2L606.2,522.7L606.5,521.4L607.2,525.7L607.5,524.3L607.8,526.2L608.2,527L608.8,523.9L609.2,523.1L609.5,522.2L611.5,502.7L612.8,513.1L613.2,515.2L613.5,518L614,519.8L614.2,522.7L614.5,521.3L614.8,523.7L615,523.9L615.2,526.1L615.5,524.5L616.2,526.3L616.5,524.9L616.8,526.3L617,523.5L617.8,519.1L618,518.6L619,509L619.5,501.8L620.8,511.1L621,514.4L621.2,514.4L621.5,516.5L621.8,515.8L622.2,523.1L622.5,520.5L622.8,524L623,523.7L623.5,524.9L623.8,523.6L624.5,525.6L625.5,522L625.8,522L627.2,505.7L627.5,499.7L627.8,504.3L628.8,511L629.2,516.4L629.5,515.4L629.8,518.6L630.5,521L631,524.4L631.5,524.6L632,523.8L632.2,526.1L632.5,524.8L632.8,524.6L633,523.9L633.2,525.2L634,519.9L634.8,512.2L635,511.3L635.5,504.8L635.8,503.9L636,507.8L636.2,507.9L637,515.5L637.2,516L638,521.2L638.8,523.5L639,523.4L639.5,525.6L639.8,523.4L640,524.6L640.2,523.4L640.8,525.2L642,518.6L642.5,513.3L642.8,513.3L643.2,504.8L643.8,500.4L645,513.1L645.8,518.7L646.2,519.7L646.5,522.8L646.8,521.8L647,524.2L647.2,525L647.5,524.1L647.8,525.8L648,524.2L648.8,525.3L649.5,520.7L649.8,521.4L650,520.9L651,508.7L651.5,503.9L651.8,503.4L652,504.2L652.2,507.2L653.8,518.2L655.2,523.8L655.8,524.9L656,526.3L656.2,524.2L656.5,523.7L656.8,526.1L657,522.4L657.5,521.8L658.2,518L659,509.9L659.2,509L659.5,504.7L659.8,503.7L661,513.9L661.2,514.1L661.8,518L662,518L662.2,520.9L662.5,521.4L663,524.3L663.2,521.9L663.8,525.4L664,524.7L664.2,524.5L664.5,525.8L665,522.7L665.8,522.2L666,518.1L666.5,515.8L667.5,503.5L667.8,502.3L668.5,509.5L669,511.6L669.5,516.9L670,518.1L670.2,521L670.5,521L671,523.7L671.2,522.1L671.8,524.8L672,524.5L672.2,524.8L672.8,523.5L673,524.6L673.2,522.4L673.5,522.7L673.8,520.8L674,520.6L675.5,506.2L675.8,501.6L676.5,508.6L676.5,570Z"/></clipPath>
<rect x="393.5" y="430.5" width="283" height="139.5" fill="#7f8081" clip-path="url(#co5)"/>
<path d="M396.1,430.5h1.2V570h-1.2ZM398.6,430.5h1.4V570h-1.4ZM405,430.5h1.1V570h-1.1ZM407.9,430.5h0.9V570h-0.9ZM414.5,430.5h1.2V570h-1.2ZM421,430.5h1.4V570h-1.4ZM426.3,430.5h0.9V570h-0.9ZM430.3,430.5h1.3V570h-1.3ZM435.4,430.5h1.2V570h-1.2ZM439.7,430.5h1.3V570h-1.3ZM444.5,430.5h1V570h-1ZM451.9,430.5h1V570h-1ZM456.4,430.5h1.3V570h-1.3ZM461.5,430.5h1.4V570h-1.4ZM468.7,430.5h0.8V570h-0.8ZM475.1,430.5h1.3V570h-1.3ZM479.7,430.5h1.2V570h-1.2ZM485.6,430.5h1.2V570h-1.2ZM489.8,430.5h1.1V570h-1.1ZM496.1,430.5h1V570h-1ZM498.8,430.5h0.8V570h-0.8ZM504.7,430.5h1.4V570h-1.4ZM508.1,430.5h1.3V570h-1.3ZM512,430.5h1.2V570h-1.2ZM518.6,430.5h1.1V570h-1.1ZM523,430.5h1.3V570h-1.3ZM529.5,430.5h1.2V570h-1.2ZM533.7,430.5h1.2V570h-1.2ZM541.2,430.5h0.7V570h-0.7ZM545.2,430.5h0.8V570h-0.8ZM551.7,430.5h1V570h-1ZM557.3,430.5h1V570h-1ZM561.4,430.5h1V570h-1ZM567.9,430.5h0.7V570h-0.7ZM574.5,430.5h1.3V570h-1.3ZM580.8,430.5h1.4V570h-1.4ZM586.4,430.5h0.9V570h-0.9ZM590.7,430.5h0.9V570h-0.9ZM597.2,430.5h1.4V570h-1.4ZM601.7,430.5h0.7V570h-0.7ZM604.8,430.5h1.1V570h-1.1ZM612.2,430.5h1.2V570h-1.2ZM615.6,430.5h0.9V570h-0.9ZM618.1,430.5h0.8V570h-0.8ZM625,430.5h0.9V570h-0.9ZM631.3,430.5h0.8V570h-0.8ZM636.1,430.5h0.8V570h-0.8ZM643.4,430.5h0.7V570h-0.7ZM648.9,430.5h0.8V570h-0.8ZM655.3,430.5h0.7V570h-0.7ZM660.8,430.5h1.3V570h-1.3ZM665.4,430.5h1.1V570h-1.1ZM668.2,430.5h0.8V570h-0.8ZM675.1,430.5h1.3V570h-1.3Z" fill="#a2a5a6" clip-path="url(#co5)"/>
<path d="M393.5,570L393.5,528L394,524.8L394.5,524.3L394.8,519.4L395,521L395.2,518.6L396.2,514.3L397,509.3L397.2,505.6L397.5,507.4L397.8,504.1L398.5,502.4L399.5,495.3L399.8,495.4L400,491.9L400.2,491.7L401,487.8L401.5,483.2L401.8,483.7L402.2,492.3L403,484.1L403.8,502L404.8,519.7L405.5,525.2L406.2,535.1L406.5,533.9L407,538.1L407.2,537.4L407.5,537.5L407.8,535.3L408,534.6L408.2,530.7L408.8,527.3L409.2,520.4L410.2,495.2L410.8,486.7L411,487.6L411.5,500.2L413.2,524.5L414,530.6L414.2,530.5L414.8,535.6L415,534L415.2,536.4L415.5,535.5L415.8,537.1L416,533.5L416.2,534.6L416.8,526.4L417.5,518.6L418.2,504.5L418.8,490.5L419.8,508L421.2,525.9L422.2,532.3L422.5,532.8L422.8,532.5L423.2,535.7L423.5,532.5L424,536L424.2,533.3L424.5,532.6L424.8,528.1L425,527.1L425.8,515.3L426.8,491.9L427.8,509.4L428.5,515.8L429.5,528L430.5,533.3L430.8,533.6L431,533.2L431.2,535.6L431.5,535.4L431.8,535.7L432,531.8L432.5,530.3L433,526.8L434.2,507.9L434.8,494.1L435,494.6L436,511.6L436.2,513.2L436.8,520.7L437,520.4L438,530.3L439,533L439.2,535.1L439.5,533.1L439.8,534.9L440.2,529.7L440.5,529.7L440.8,529.2L441.2,524.1L442,512.4L442.8,494.7L443,496.5L443.5,505.6L443.8,506.8L444.5,516.9L444.8,517.9L445,522.4L445.8,527.8L446.2,530.1L446.5,533.2L447,533.5L447.2,532.6L447.5,533.6L448.2,531.4L448.5,532.1L448.8,526.4L449.2,523.6L449.8,516.6L450.5,500.5L451,495.7L452.2,513.9L453.8,526.7L454.2,529.2L454.5,529L454.8,531.1L455,531.1L455.2,532.5L455.5,532.6L455.8,533.4L456,532L456.2,531.5L456.5,531.6L457,526.9L459,496L460.2,513.1L460.8,516.3L461.2,522.6L462,528.1L462.2,527.8L462.5,530.5L462.8,531.1L463,531.3L463.2,530.7L463.5,531.1L463.8,532.3L464.2,530.8L464.5,528.5L465,526.3L466,515.2L467,494.7L467.8,507.8L469.2,522.3L470.5,529.7L470.8,530.1L471,530L471.2,529.2L471.5,530.7L471.8,531.2L472,530.9L472.2,528.6L472.5,529.4L473.2,523.7L474.2,511.5L475,497.3L475.2,498.7L476,510.9L476.2,510.2L477.2,521.9L477.8,524.2L478.2,528.1L478.5,527.9L478.8,528.1L479,529.8L479.2,528.6L479.8,530.5L480,530.7L480.2,530.3L480.5,527.6L480.8,528.5L481,525L481.2,523.2L481.5,522.7L483,501.3L483.8,510.7L484.2,512.7L484.5,517.9L484.8,517.1L485,519.8L486,526.2L486.2,524.6L486.5,528.7L487,527.2L487.2,529L487.5,528.4L488,529.7L488.2,527.9L488.8,526.7L489.8,517.7L491,498.3L491.5,504.3L491.8,505L492,509.9L492.2,510.8L493.2,521.2L493.5,521.8L493.8,523.6L494,523.5L494.2,526.1L494.5,527L494.8,526.6L495,529.4L495.5,527.4L495.8,528.7L496,527.6L496.2,530.6L496.5,527.7L496.8,526L497,525.7L497.2,521.7L497.5,521.7L499,500.5L499.5,503.4L500,510.7L500.2,511.2L500.5,512.7L501.2,521.3L501.5,522L501.8,521.9L502.2,526.6L502.5,525.6L502.8,528.1L503.2,526L503.5,528L503.8,526.9L504,528.2L504.8,524.6L505,524.5L505.2,521.3L505.5,520.5L505.8,521.1L506.2,512.1L506.5,512.2L507,501.5L507.2,502.4L508.2,512.5L508.8,515.8L509,516.4L509.2,519.9L509.5,520.3L510,523.2L510.2,523.4L510.5,526.5L510.8,526L511,524.4L511.5,526.8L511.8,526L512.2,527.5L512.8,524L513,523.8L513.2,520.4L513.5,519.7L514,515.6L514.2,510.3L514.5,506.8L514.8,506.6L515,501.7L515.2,501.9L515.5,502.8L516.5,514.1L516.8,513.8L517.5,520.9L518,521.6L518.2,524L518.5,522.5L519,525.8L519.2,525.8L519.5,527L519.8,526.3L520,527.8L520.2,527.4L520.5,523.6L520.8,524.7L521,522.9L521.2,522.9L521.5,520L522,517.9L523,502.5L523.2,501.8L523.5,506.2L524.8,516.9L525,517.2L525.5,522.4L525.8,523.8L526.2,524.6L527,527.2L527.5,526.2L527.8,526.4L528,528.4L528.5,524.6L528.8,525.7L529,522.2L529.2,522.4L529.5,521.8L529.8,517.3L530,516.5L530.2,514.2L530.8,506.2L531.2,502.8L532,508.6L532.2,513.9L532.5,513.2L533,517.5L533.5,519.5L533.8,522.9L534,523.8L534.2,523.7L534.8,525.3L535,525.4L535.2,524.3L535.5,526.9L536,525.9L536.2,526.8L536.5,526.4L537,523.7L537.2,523.5L538.2,513.8L538.5,513.3L538.8,508.3L539.2,503.4L539.8,508.9L540.2,510.3L540.5,513.9L540.8,514.7L541.2,519.6L542,523.3L542.2,522.9L543.5,526.8L543.8,525.6L544,526.7L544.2,525.3L544.5,524.9L544.8,523L545,524.2L545.2,521.2L545.5,521.8L546.2,512.7L546.5,512.8L546.8,506.4L547.2,501.2L547.5,505.1L548.2,509.1L549.2,519.4L549.5,519.7L549.8,521.4L550,521L550.2,524.5L550.8,524.4L551,524.8L551.2,527.1L551.5,526.7L551.8,528.4L552,525.7L552.2,526.7L552.8,525.7L553,522.7L553.2,522.9L553.5,522.1L553.8,518.4L554.5,513L555,505.4L555.2,508.7L555.5,504.5L556.8,516L557,515.8L557.8,521.5L558,520.9L558.5,525.5L559,524.9L559.2,526.2L559.5,525.1L559.8,526.6L560,525.7L560.2,526.1L561,523.9L561.2,523.8L561.5,520L561.8,519.7L562,518.1L562.8,507.6L563,507.6L563.2,501.8L563.8,506.5L564,507.1L564.2,511.3L564.8,514.7L565,515.2L565.2,518.6L565.5,518.9L565.8,520.3L566,523.5L566.2,519.8L566.5,523.3L567,524.2L567.8,528.1L568,526.7L568.8,524.8L569.5,520.5L570.2,513.2L570.5,512.5L571.2,500.6L572.2,508.6L572.5,509L573,515.3L573.2,516.4L573.5,516.4L573.8,520.1L574,520.2L574.5,524L575,524.6L575.2,524.1L575.5,526.4L575.8,524.6L576,526.2L576.2,526.1L576.8,526.8L577,523.9L577.2,523.4L577.8,519.6L578,519.1L579.2,502.2L579.5,502.8L579.8,504.6L580.8,513.4L581,513.4L581.5,520L581.8,519.3L582,521.6L582.2,521.9L583.2,525.7L583.5,523.8L584,526.9L584.5,524.5L585,525.2L585.5,520.9L585.8,520.3L586.2,516.4L586.8,508.8L587.5,502.8L588.8,514.9L589.5,519.2L589.8,518.3L590.2,522.6L590.5,523L590.8,522.9L591,523.5L591.2,526L591.8,526.6L592.2,525.8L592.5,524L592.8,523.5L593,524.7L593.2,525L594.2,514.7L594.5,513.7L595,505.5L595.2,505L595.5,502.3L595.8,502.1L596.2,508.4L596.5,507.2L597.2,518.3L597.5,517.9L597.8,518.9L598,521.3L598.2,520.3L598.5,523.5L598.8,522.3L599.2,525.4L599.8,524.2L600.2,527L600.5,524.7L600.8,525.2L601.2,522.1L601.5,521.5L601.8,518.7L602,518.2L603.5,498.9L603.8,504.1L604,504.4L605,514.5L605.2,515.3L605.8,521.4L606,520.2L606.2,522.7L606.5,521.4L607.2,525.7L607.5,524.3L607.8,526.2L608.2,527L608.8,523.9L609.2,523.1L609.5,522.2L611.5,502.7L612.8,513.1L613.2,515.2L613.5,518L614,519.8L614.2,522.7L614.5,521.3L614.8,523.7L615,523.9L615.2,526.1L615.5,524.5L616.2,526.3L616.5,524.9L616.8,526.3L617,523.5L617.8,519.1L618,518.6L619,509L619.5,501.8L620.8,511.1L621,514.4L621.2,514.4L621.5,516.5L621.8,515.8L622.2,523.1L622.5,520.5L622.8,524L623,523.7L623.5,524.9L623.8,523.6L624.5,525.6L625.5,522L625.8,522L627.2,505.7L627.5,499.7L627.8,504.3L628.8,511L629.2,516.4L629.5,515.4L629.8,518.6L630.5,521L631,524.4L631.5,524.6L632,523.8L632.2,526.1L632.5,524.8L632.8,524.6L633,523.9L633.2,525.2L634,519.9L634.8,512.2L635,511.3L635.5,504.8L635.8,503.9L636,507.8L636.2,507.9L637,515.5L637.2,516L638,521.2L638.8,523.5L639,523.4L639.5,525.6L639.8,523.4L640,524.6L640.2,523.4L640.8,525.2L642,518.6L642.5,513.3L642.8,513.3L643.2,504.8L643.8,500.4L645,513.1L645.8,518.7L646.2,519.7L646.5,522.8L646.8,521.8L647,524.2L647.2,525L647.5,524.1L647.8,525.8L648,524.2L648.8,525.3L649.5,520.7L649.8,521.4L650,520.9L651,508.7L651.5,503.9L651.8,503.4L652,504.2L652.2,507.2L653.8,518.2L655.2,523.8L655.8,524.9L656,526.3L656.2,524.2L656.5,523.7L656.8,526.1L657,522.4L657.5,521.8L658.2,518L659,509.9L659.2,509L659.5,504.7L659.8,503.7L661,513.9L661.2,514.1L661.8,518L662,518L662.2,520.9L662.5,521.4L663,524.3L663.2,521.9L663.8,525.4L664,524.7L664.2,524.5L664.5,525.8L665,522.7L665.8,522.2L666,518.1L666.5,515.8L667.5,503.5L667.8,502.3L668.5,509.5L669,511.6L669.5,516.9L670,518.1L670.2,521L670.5,521L671,523.7L671.2,522.1L671.8,524.8L672,524.5L672.2,524.8L672.8,523.5L673,524.6L673.2,522.4L673.5,522.7L673.8,520.8L674,520.6L675.5,506.2L675.8,501.6L676.5,508.6L676.5,570Z" fill="url(#pr3)"/>
<rect x="393.5" y="430.5" width="283" height="139.5" fill="none" stroke="#262626" stroke-width="1.5"/>
<path d="M393.5,570v-3M393.5,430.5v3M417.1,570v-3M417.1,430.5v3M440.7,570v-3M440.7,430.5v3M464.2,570v-3M464.2,430.5v3M487.8,570v-3M487.8,430.5v3M511.4,570v-3M511.4,430.5v3M535,570v-3M535,430.5v3M558.6,570v-3M558.6,430.5v3M582.2,570v-3M582.2,430.5v3M605.8,570v-3M605.8,430.5v3M629.3,570v-3M629.3,430.5v3M652.9,570v-3M652.9,430.5v3M676.5,570v-3M676.5,430.5v3M393.5,570h3M676.5,570h-3M393.5,523.5h3M676.5,523.5h-3M393.5,477h3M676.5,477h-3M393.5,430.5h3M676.5,430.5h-3" stroke="#262626" stroke-width="1.5" fill="none"/>
<text x="387.7" y="575.3" text-anchor="end" font-size="14.7" fill="#262626">0</text>
<text x="387.7" y="528.8" text-anchor="end" font-size="14.7" fill="#262626">200</text>
<text x="387.7" y="482.3" text-anchor="end" font-size="14.7" fill="#262626">400</text>
<text x="387.7" y="435.8" text-anchor="end" font-size="14.7" fill="#262626">600</text>
<text transform="translate(402.9,585.5) rotate(-45)" text-anchor="end" font-size="14.5" fill="#262626">0</text>
<text transform="translate(426.5,585.5) rotate(-45)" text-anchor="end" font-size="14.5" fill="#262626">2</text>
<text transform="translate(450.1,585.5) rotate(-45)" text-anchor="end" font-size="14.5" fill="#262626">4</text>
<text transform="translate(473.6,585.5) rotate(-45)" text-anchor="end" font-size="14.5" fill="#262626">6</text>
<text transform="translate(497.2,585.5) rotate(-45)" text-anchor="end" font-size="14.5" fill="#262626">8</text>
<text transform="translate(520.8,585.5) rotate(-45)" text-anchor="end" font-size="14.5" fill="#262626">10</text>
<text transform="translate(544.4,585.5) rotate(-45)" text-anchor="end" font-size="14.5" fill="#262626">12</text>
<text transform="translate(568,585.5) rotate(-45)" text-anchor="end" font-size="14.5" fill="#262626">14</text>
<text transform="translate(591.6,585.5) rotate(-45)" text-anchor="end" font-size="14.5" fill="#262626">16</text>
<text transform="translate(615.2,585.5) rotate(-45)" text-anchor="end" font-size="14.5" fill="#262626">18</text>
<text transform="translate(638.7,585.5) rotate(-45)" text-anchor="end" font-size="14.5" fill="#262626">20</text>
<text transform="translate(662.3,585.5) rotate(-45)" text-anchor="end" font-size="14.5" fill="#262626">22</text>
<text transform="translate(685.9,585.5) rotate(-45)" text-anchor="end" font-size="14.5" fill="#262626">24</text>
<text x="536" y="423.7" text-anchor="middle" font-size="16.3" font-style="italic" fill="#000">Tout=-25°C</text>
<text x="535" y="614" text-anchor="middle" font-size="15.9" fill="#262626">Time/h</text>
<text transform="translate(359.7,501.1) rotate(-90)" text-anchor="middle" font-size="15.8" fill="#262626">Number of TCLs</text>
<rect x="569.3" y="442" width="33" height="12.4" fill="#e8282d"/>
<rect x="569.3" y="459.4" width="33" height="11.8" fill="#000"/>
<text x="604.8" y="453.8" font-size="14.1" fill="#000">Switch on</text>
<text x="604.8" y="470.6" font-size="14.1" fill="#000">Switch off</text>
</svg>
</body></html>
